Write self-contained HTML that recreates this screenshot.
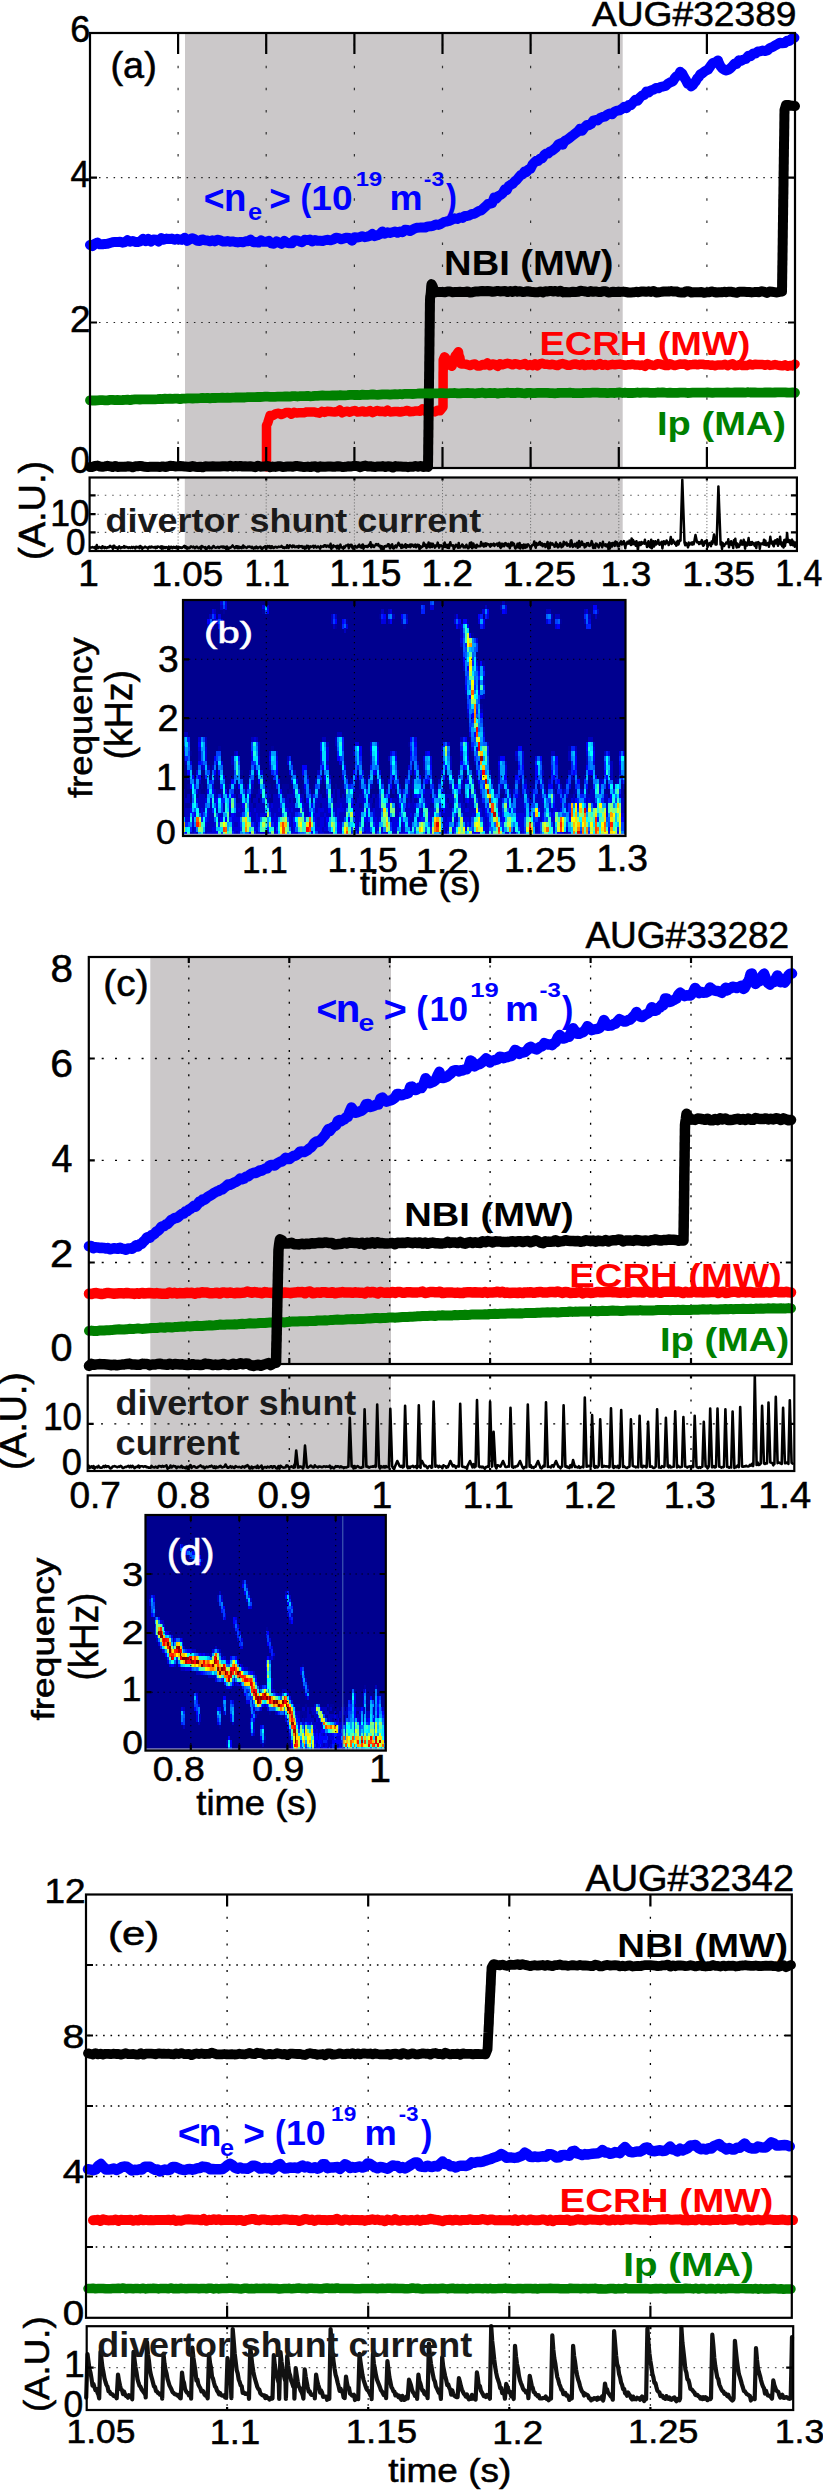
<!DOCTYPE html>
<html><head><meta charset="utf-8"><title>AUG discharges</title>
<style>
html,body{margin:0;padding:0;background:#fff;}
svg{display:block;}
text{font-family:"Liberation Sans",Arial,Helvetica,sans-serif;}
</style></head><body>
<svg width="823" height="2491" viewBox="0 0 823 2491">
<rect width="823" height="2491" fill="#fff"/>
<rect x="185" y="33" width="437.7" height="435" fill="#cbc8c9"/>
<rect x="184.8" y="477.5" width="437.9" height="73.5" fill="#cbc8c9"/>
<line x1="90" y1="177.7" x2="795" y2="177.7" stroke="#222" stroke-width="1.2" stroke-dasharray="1.5 5.8" stroke-dashoffset="-1.7"/>
<line x1="90" y1="322.5" x2="795" y2="322.5" stroke="#222" stroke-width="1.2" stroke-dasharray="1.5 5.8" stroke-dashoffset="-1.7"/>
<line x1="178.1" y1="33" x2="178.1" y2="468" stroke="#333" stroke-width="1.2" stroke-dasharray="2.5 19.6" stroke-dashoffset="-10.6"/>
<line x1="178.1" y1="477.5" x2="178.1" y2="551" stroke="#777" stroke-width="1" stroke-dasharray="1.2 1.9"/>
<line x1="266.2" y1="33" x2="266.2" y2="468" stroke="#333" stroke-width="1.2" stroke-dasharray="2.5 19.6" stroke-dashoffset="-10.6"/>
<line x1="266.2" y1="477.5" x2="266.2" y2="551" stroke="#777" stroke-width="1" stroke-dasharray="1.2 1.9"/>
<line x1="354.4" y1="33" x2="354.4" y2="468" stroke="#333" stroke-width="1.2" stroke-dasharray="2.5 19.6" stroke-dashoffset="-10.6"/>
<line x1="354.4" y1="477.5" x2="354.4" y2="551" stroke="#777" stroke-width="1" stroke-dasharray="1.2 1.9"/>
<line x1="442.5" y1="33" x2="442.5" y2="468" stroke="#333" stroke-width="1.2" stroke-dasharray="2.5 19.6" stroke-dashoffset="-10.6"/>
<line x1="442.5" y1="477.5" x2="442.5" y2="551" stroke="#777" stroke-width="1" stroke-dasharray="1.2 1.9"/>
<line x1="530.6" y1="33" x2="530.6" y2="468" stroke="#333" stroke-width="1.2" stroke-dasharray="2.5 19.6" stroke-dashoffset="-10.6"/>
<line x1="530.6" y1="477.5" x2="530.6" y2="551" stroke="#777" stroke-width="1" stroke-dasharray="1.2 1.9"/>
<line x1="618.8" y1="33" x2="618.8" y2="468" stroke="#333" stroke-width="1.2" stroke-dasharray="2.5 19.6" stroke-dashoffset="-10.6"/>
<line x1="618.8" y1="477.5" x2="618.8" y2="551" stroke="#777" stroke-width="1" stroke-dasharray="1.2 1.9"/>
<line x1="706.9" y1="33" x2="706.9" y2="468" stroke="#333" stroke-width="1.2" stroke-dasharray="2.5 19.6" stroke-dashoffset="-10.6"/>
<line x1="706.9" y1="477.5" x2="706.9" y2="551" stroke="#777" stroke-width="1" stroke-dasharray="1.2 1.9"/>
<line x1="90" y1="495.3" x2="796.9" y2="495.3" stroke="#555" stroke-width="1.1" stroke-dasharray="1.5 5.9"/>
<line x1="90" y1="514.2" x2="796.9" y2="514.2" stroke="#555" stroke-width="1.1" stroke-dasharray="1.5 5.9"/>
<line x1="90" y1="532.4" x2="796.9" y2="532.4" stroke="#555" stroke-width="1.1" stroke-dasharray="1.5 5.9"/>
<polyline points="266.5,467 266.5,465.6 266.5,462.7 266.5,460.1 266.5,458.6 266.5,455.4 266.5,452.6 266.5,451.6 266.5,447.4 266.5,444.4 266.5,441.7 266.5,439.8 266.5,438.1 266.5,435.7 266.5,433.4 266.5,431.4 266.5,428.7 266.5,425.5 267.7,423 268.8,419.5 270,415.6 273,415.4 276,413.6 278.6,413.2 281.2,414.5 283.8,413.5 286.4,412.4 289,412.5 291.5,414.2 294.1,412.3 296.6,413 299.1,412.8 301.7,412.7 304.2,412.7 306.8,411.9 309.3,411.9 311.8,412.1 314.4,411.9 316.9,412.7 319.4,413.2 322,411.4 324.5,412.4 327,411.3 329.6,411.5 332.1,411.8 334.6,412 337.2,411.5 339.7,410 342.2,412.8 344.8,411.6 347.3,411.3 349.9,412.2 352.4,411.2 354.9,410.6 357.5,411.9 360,411.8 362.5,410.9 365,412.1 367.5,411.7 370,410.6 372.5,412.6 375,411.5 377.5,410.5 380,411.6 382.5,411.3 385,411.9 387.5,410.2 390,411.9 392.5,411.8 395,411.6 397.5,411.5 400,412 402.5,411.5 405,411.1 407.5,410.4 410,411.7 412.5,411.6 415,411.1 417.5,410.9 420,411.3 422.5,409 425,411 427.5,408.9 430,410.8 432.5,411.4 435,411.9 437.5,410.2 440,410.8 443,407 443,402.8 443,402.3 443,399.2 443,396.6 443.1,393.3 443.1,391.3 443.1,388.8 443.1,387.1 443.1,383.7 443.1,383.4 443.1,378 443.1,375.5 443.1,373.1 443.2,369.9 443.2,368.9 443.2,365.7 443.2,361.7 443.2,360.1 444.5,356.8 445.5,357.7 446.5,361.5 447.5,363.9 452,366.2 453.1,362 454.2,358.5 455.4,355.5 456.5,354.4 458.5,351.7 459.1,356.7 459.8,356.9 460.4,360.9 461,363.9 464,363.9 467,364.5 470,365.5 472.5,364.5 475,364 477.5,365.9 480,366 482.5,364.4 485,365.1 487.5,363 490,365.6 492.5,363.9 495,364.4 497.5,366.3 500,363.8 502.5,364.7 505,363.9 507.5,363.3 510,363.8 512.5,364.8 515,363.7 517.5,364.1 520,365 522.5,364.4 525,363.6 527.5,365.6 530,364.6 532.5,365.6 535,363.8 537.5,365.8 540,363.6 542.5,363.3 545,364.3 547.5,364.3 550,364.8 552.5,364.2 555,365 557.5,365.5 560,364.1 562.5,363.6 565,364.3 567.5,365.2 570,365.2 572.5,364.4 575,363.9 577.5,364.6 580,365.3 582.5,364.1 585,365.6 587.5,364.8 590,364.9 592.5,364.2 595,365.6 597.5,364.7 600,363.6 602.5,365.3 605,364.4 607.5,365.5 610,364.8 612.5,364.3 615,364.8 617.5,364.4 620,364.1 622.5,364.7 625,365.3 627.5,364.8 630,364.7 632.5,364.3 635,365.1 637.5,364.9 640,365.4 642.5,365 645,366.3 647.5,363.6 650,364.7 652.5,365.2 655,365.4 657.5,363.7 660,363.9 662.5,364.8 665,365.5 667.5,365.6 670,363.7 672.5,364.9 675,365.6 677.5,364.8 680,364.1 682.5,364.3 685,363.9 687.5,365.7 690,364.7 692.5,364.5 695,364.2 697.5,364.8 700,364.2 702.5,364.2 705,364.8 707.5,364.7 710,365.2 712.5,365 715,365.7 717.5,364.9 720,365.1 722.5,365.1 725,364.3 727.5,365.7 730,364.5 732.5,363.8 735,365.8 737.5,365.4 740,364.5 742.5,365.6 745,365.6 747.5,365.4 750,364.1 752.5,365.1 755,364.2 757.5,364.5 760,364.6 762.5,364.4 765,365.3 767.5,364.4 770,365.4 772.5,365.1 775,364.6 777.5,365.1 780,365.5 782.5,365.8 785,364.8 787.5,366.2 790,365.4 792.5,365.9 795,364.1" fill="none" stroke="#ff0000" stroke-width="9.5" stroke-linejoin="round" stroke-linecap="round"/>
<polyline points="90,467 92.5,466.9 95,465.9 97.5,465.6 100,466.5 102.5,466.8 105,466.4 107.5,465.8 110,466.3 112.5,467.1 115,465.9 117.5,467 120,466.7 122.5,466.7 125.1,466.8 127.6,466.3 130.1,466.4 132.6,467.3 135.1,466.3 137.6,466.3 140.1,465.9 142.6,466.3 145.1,466.8 147.6,467.1 150.1,466.8 152.6,466.8 155.1,466.8 157.6,466.7 160.1,467 162.6,466.4 165.1,467 167.6,466.5 170.1,465.8 172.6,465.9 175.1,466.4 177.6,466.3 180.1,466 182.6,466.2 185.1,466.6 187.6,466.7 190.1,466.9 192.7,466.1 195.2,466.7 197.7,467 200.2,466.7 202.7,467.3 205.2,466.3 207.7,466.5 210.2,466.6 212.7,466.3 215.2,466.5 217.7,466.6 220.2,466.5 222.7,466.3 225.2,466.3 227.7,466.5 230.2,465.8 232.7,466.6 235.2,466 237.7,466.4 240.2,466 242.7,466.5 245.2,466.3 247.7,466.4 250.2,466.2 252.7,466.6 255.2,467.2 257.7,465.7 260.3,466.7 262.8,466.6 265.3,466.3 267.8,465.9 270.3,467.2 272.8,466.6 275.3,466.9 277.8,466.3 280.3,466.2 282.8,467 285.3,466.8 287.8,466.4 290.3,466.4 292.8,466.8 295.3,466.1 297.8,466.1 300.3,466.5 302.8,466.9 305.3,466.9 307.8,466.6 310.3,467.1 312.8,466.4 315.3,466.3 317.8,467.5 320.3,466.3 322.8,466.8 325.3,466.7 327.9,466.6 330.4,466.6 332.9,466.8 335.4,466.7 337.9,466.2 340.4,466.5 342.9,467.1 345.4,466.8 347.9,466.3 350.4,466.5 352.9,466.1 355.4,465.9 357.9,466.3 360.4,467.2 362.9,466.2 365.4,465.6 367.9,466.5 370.4,466.2 372.9,466.8 375.4,467 377.9,466.4 380.4,466.6 382.9,466.1 385.4,467 387.9,466.2 390.4,466.5 392.9,467.5 395.5,466.1 398,466.6 400.5,466.5 403,466.7 405.5,466.7 408,467.2 410.5,466.7 413,466.8 415.5,466 418,466.7 420.5,465.9 423,467 425.5,466.5 428,466.9 428,463.8 428.1,461.6 428.1,459 428.1,456.7 428.2,453.8 428.2,451.1 428.2,448.7 428.2,446 428.3,443.4 428.3,440.7 428.3,438.1 428.4,437.1 428.4,433.4 428.4,430.7 428.5,429.1 428.5,426.3 428.5,423.6 428.5,421.6 428.6,419.4 428.6,415.7 428.6,414.2 428.7,411.3 428.7,409 428.7,405.7 428.8,404.2 428.8,401.4 428.8,397.3 428.8,396.4 428.9,393.9 428.9,390.2 428.9,388.4 429,385.7 429,383.4 429,380.4 429.1,378.5 429.1,376 429.1,373.1 429.2,370.6 429.2,367.4 429.2,365.8 429.2,362.5 429.3,360.6 429.3,357.7 429.3,356.6 429.4,353 429.4,351.1 429.4,347.9 429.5,345.4 429.5,343.2 429.5,340.4 429.5,338.9 429.6,335.2 429.6,333.5 429.6,329.8 429.7,327.4 429.7,325.5 429.7,322.1 429.8,321.1 429.8,317.9 429.8,315.2 429.8,313.4 429.9,309.9 429.9,307.2 429.9,303.9 430,301.7 430,299.9 430.2,296.5 430.5,295.2 430.8,292.7 431,289.9 431.2,286.4 431.5,284.1 432.7,286.4 433.8,289.8 435,292.5 437.5,291.9 440,292 442.5,292 445,292.3 447.5,291.5 450,291.5 452.5,292.2 455,292.1 457.5,292 460,291.8 462.5,292.1 465,292 467.5,291.5 470,292.5 472.5,292.2 475,291.6 477.5,291.6 480,291.3 482.5,291 485,291.2 487.5,291 490,291.3 492.5,291.7 495,291.5 497.5,290.9 500,291.4 502.5,291.2 505,291 507.6,292 510.1,291.1 512.6,291.9 515.1,290.8 517.6,291.7 520.1,291.2 522.7,292 525.2,291.7 527.7,291.2 530.2,291.8 532.7,292.1 535.2,292.2 537.8,292.2 540.3,291.4 542.8,292.5 545.3,291.3 547.8,291.5 550.4,290.9 552.9,291.5 555.4,291 557.9,291.7 560.4,290.8 562.9,292.4 565.5,292 568,292.3 570.5,292.2 573,291.7 575.5,291.9 578.1,291.7 580.6,290.8 583.1,291.1 585.6,291.5 588.1,292.1 590.6,291.1 593.2,291.8 595.7,291.4 598.2,292 600.7,292 603.2,291.2 605.8,291.2 608.3,292.4 610.8,292.2 613.3,291.7 615.8,292.1 618.3,291.7 620.9,291.9 623.4,291.6 625.9,292 628.4,292.5 630.9,292.4 633.4,292.3 636,291.8 638.5,292.2 641,291.6 643.5,291.6 646,291.8 648.6,291.3 651.1,291.9 653.6,291 656.1,292.5 658.6,292.2 661.1,291.9 663.7,291.5 666.2,291.5 668.7,291.6 671.2,291.1 673.7,291.6 676.2,291.4 678.8,292.2 681.3,292.4 683.8,292.5 686.3,291.2 688.8,291.2 691.4,292.5 693.9,292.2 696.4,292.3 698.9,292.2 701.4,292 703.9,292.8 706.5,292.3 709,292.2 711.5,291.4 714,292 716.5,292.5 719.1,292.2 721.6,292.3 724.1,291.8 726.6,292.2 729.1,291.7 731.6,291.8 734.2,292.4 736.7,292.7 739.2,291.8 741.7,291.8 744.2,291.8 746.8,291.9 749.3,292 751.8,292.4 754.3,292.1 756.8,292 759.3,292.2 761.9,291.2 764.4,291.9 766.9,292.9 769.4,291.5 771.9,291.7 774.4,292.1 777,292.5 779.5,291.9 782,291.5 782,290.2 782.1,285.9 782.1,284 782.1,281.6 782.2,278.3 782.2,277.4 782.2,275.2 782.3,271.1 782.3,269.1 782.3,266.6 782.4,264.5 782.4,261.6 782.5,259.4 782.5,256.8 782.5,254 782.6,251.6 782.6,249.7 782.6,246.6 782.7,244.3 782.7,241.4 782.7,239.2 782.8,237.1 782.8,233.9 782.8,231.1 782.9,228.5 782.9,226.7 782.9,223.4 783,221.4 783,219.8 783,216.3 783.1,214.5 783.1,211.1 783.1,208.6 783.2,206.3 783.2,203.1 783.2,199.9 783.3,198.5 783.3,195.6 783.4,193.5 783.4,191.8 783.4,188.6 783.5,185.2 783.5,183.5 783.5,180 783.6,177.3 783.6,176.7 783.6,172.8 783.7,169.7 783.7,168.1 783.7,165.5 783.8,163.3 783.8,160.5 783.8,157.9 783.9,155.9 783.9,152.9 783.9,150.1 784,148.1 784,145.1 784,143.4 784.1,140.4 784.1,137.7 784.2,135.1 784.2,133 784.2,130.7 784.3,127.6 784.3,124.2 784.3,123 784.4,119.8 784.4,117.9 784.4,114.8 784.5,112.7 784.5,109.9 786,105.1 789,105.1 792,105.8 795,106.1" fill="none" stroke="#000" stroke-width="10" stroke-linejoin="round" stroke-linecap="round"/>
<polyline points="90,400.3 92.5,400.5 95,400.5 97.5,400.3 100,400.1 102.5,400.2 105,400.3 107.5,400.3 110,399.9 112.5,399.8 115,400.1 117.5,400 120,400.1 122.5,400 125,399.8 127.5,399.7 130,400.1 132.5,399.6 135,399.4 137.5,399.3 140,399.5 142.5,399.4 145,399.3 147.5,399.3 150,399.3 152.5,399.3 155,399.3 157.5,399.1 160,398.8 162.5,399.1 165,398.7 167.5,398.9 170,398.6 172.5,398.8 175,398.6 177.5,398.7 180,399.1 182.5,398.6 185,398.6 187.5,398.3 190,398.4 192.5,398.5 195,398.3 197.5,398.3 200,398.2 202.5,398 205,398.2 207.5,397.9 210,398.3 212.5,397.9 215,398 217.5,397.8 220,397.9 222.5,397.6 225,397.8 227.5,397.6 230,397.8 232.5,397.6 235,397.5 237.5,397.3 240,397.5 242.5,397.4 245,397.5 247.5,397.2 250,397.2 252.5,397.2 255,397.1 257.5,397 260,397 262.5,396.8 265,396.7 267.5,396.7 270,396.8 272.5,396.9 275,396.8 277.5,396.7 280,396.7 282.5,396.6 285,396.5 287.5,396.5 290,396.6 292.5,396.2 295,396.1 297.5,396.5 300,396.2 302.5,396.2 305,396.1 307.5,395.8 310,396.3 312.5,396.1 315,395.8 317.5,395.9 320,395.7 322.5,395.5 325,395.6 327.5,395.6 330,395.7 332.5,395.5 335,395.4 337.5,395.5 340,395.2 342.5,395.4 345,395.3 347.5,395.1 350,394.8 352.5,394.9 355,395 357.5,395 360,395.1 362.5,394.7 365,394.8 367.5,394.8 370,394.6 372.5,394.3 375,394.7 377.5,394.9 380,394.6 382.5,394.3 385,394.3 387.5,394.3 390,394.6 392.5,394.3 395,394.2 397.5,394.3 400,394 402.5,394.3 405,393.8 407.5,393.8 410,393.9 412.5,394 415,393.8 417.5,393.7 420,393.3 422.5,393.5 425,393.4 427.5,393.4 430,393.5 432.5,393.3 435,393.4 437.5,393.3 440,393.2 442.5,393.2 445,393.3 447.5,393.3 450,393.1 452.5,393.1 455,393 457.5,393.4 460,393.4 462.5,393.1 465,393.1 467.5,393 470,393.2 472.5,393.2 475,393.5 477.5,393.2 480,393 482.5,392.7 485,393.3 487.5,393.1 490,392.9 492.5,393.1 495,392.9 497.5,393.6 500,393.2 502.5,393.2 505,393 507.5,392.7 510,393 512.5,392.8 515,393.1 517.5,392.7 520,392.9 522.5,393.2 525,393.3 527.5,392.9 530,392.8 532.5,393.1 535,393.1 537.5,392.9 540,392.9 542.5,392.9 545,392.8 547.5,392.9 550,393.2 552.5,393.1 555,393.3 557.5,393 560,392.9 562.5,392.8 565,392.9 567.5,392.8 570,392.7 572.5,393 575,393.1 577.5,393.1 580,393.1 582.5,393 585,392.8 587.5,392.9 590,392.8 592.5,392.7 595,392.6 597.5,392.7 600,392.9 602.5,392.9 605,392.8 607.5,393.1 610,392.9 612.5,392.9 615,393 617.5,392.7 620,392.5 622.5,393 625,392.7 627.5,393 630,392.9 632.5,393 635,392.9 637.5,392.5 640,392.9 642.5,392.7 645,392.7 647.5,392.7 650,392.9 652.5,392.9 655,392.9 657.5,392.5 660,392.7 662.5,392.4 665,392.7 667.5,392.8 670,392.6 672.5,392.8 675,392.8 677.5,392.9 680,392.6 682.5,392.6 685,392.6 687.5,393 690,392.9 692.5,392.7 695,392.7 697.5,392.7 700,392.7 702.5,392.7 705,392.6 707.5,392.5 710,392.6 712.5,392.9 715,392.7 717.5,392.7 720,392.6 722.5,392.7 725,392.7 727.5,392.5 730,392.7 732.5,392.7 735,392.5 737.5,392.5 740,392.5 742.5,392.4 745,392.7 747.5,392.2 750,392.5 752.5,392.5 755,392.5 757.5,392.6 760,392.7 762.5,392.6 765,392.5 767.5,392.5 770,392.5 772.5,392.7 775,392.5 777.5,392.4 780,392.3 782.5,392.4 785,392.3 787.5,392.7 790,392.6 792.5,392.5 795,392.7" fill="none" stroke="#008000" stroke-width="9.8" stroke-linejoin="round" stroke-linecap="round"/>
<polyline points="90,244.9 92.5,246.1 95,243.8 97.5,242.6 100,244.3 102.5,244.3 105,243.9 107.5,243.8 110,243 112.5,242.3 115,241.9 117.5,242.1 120,241.7 122.5,242.7 125,242.1 127.5,240.2 130,241.7 132.6,241 135.2,241.9 137.8,242.1 140.4,241.2 143.1,238.9 145.7,241 148.3,238.9 150.9,241.6 153.5,239.5 156.1,239.8 158.7,241.5 161.3,238.2 163.9,239.7 166.6,238.6 169.2,239 171.8,238.6 174.4,239.8 177,238.8 179.5,239.5 182,239.9 184.6,237.8 187.1,240.8 189.6,239.4 192.1,238.2 194.7,239.2 197.2,240.7 199.7,240.9 202.2,239.4 204.8,240.2 207.3,240.5 209.8,241.3 212.3,240.3 214.9,241.4 217.4,239.8 219.9,240.1 222.4,241.4 225,241.6 227.5,241 230,241.7 232.6,241.4 235.2,242 237.8,242.4 240.4,241.9 242.9,242.3 245.5,241.3 248.1,241.2 250.7,239.7 253.3,242.3 255.9,242 258.5,242.6 261.1,240.4 263.6,241.8 266.2,241.8 268.8,240.8 271.4,243.3 274,243.7 276.6,241.3 279.1,242.7 281.7,243.8 284.2,240.9 286.8,242.8 289.3,243.2 291.9,243.3 294.4,240.2 297,240.4 299.6,241.4 302.1,242.2 304.7,239.8 307.2,240.1 309.8,239.6 312.3,241.5 314.9,239.9 317.4,240.8 320,240.7 322.7,241 325.3,240.1 328,239.8 330.7,240.3 333.3,239.5 336,237.7 338.7,238.2 341.3,239.3 344,238.4 346.7,237.7 349.3,238 352,240.7 354.5,237.3 357.1,237.5 359.6,237.1 362.1,236.2 364.7,237.2 367.2,236.6 369.7,235.9 372.3,234 374.8,236.1 377.3,235.3 379.9,234.2 382.4,231.5 384.9,233.7 387.5,232.3 390,232.9 392.5,232.2 395,231.5 397.5,232.8 400,231.5 402.5,232.2 405,229.7 407.5,230 410,231 412.5,229.7 415,228.3 417.5,227.7 420,227.6 422.6,227.4 425.2,227.5 427.9,226.4 430.5,226.3 433.1,225.8 435.8,224.5 438.4,224.9 441,223.8 443.7,222.2 446.4,221.5 449.1,220.9 451.9,219.6 454.6,218.3 457.3,218.9 460,217.6 462.4,217.9 464.9,216 467.3,215.9 469.7,215.3 472.1,213.9 474.6,213.7 477,212.1 479.2,210.8 481.3,210.3 483.5,208.3 485.7,206.3 487.8,204 490,203.7 492.1,203.1 494.3,197.4 496.4,198.6 498.5,196 500.7,194.9 502.8,193.2 504.8,189.4 506.8,190.2 508.7,186.2 510.7,184.8 512.7,183.8 514.7,181.4 516.6,180 518.6,177.5 520.6,175.2 522.6,174.4 524.5,171.6 526.5,172.1 528.5,169.3 530.5,168.8 532.4,164.8 534.4,162.4 536.3,160.7 538.3,160.9 540.3,158.4 542.2,158.4 544.2,155.1 546.2,153.6 548.1,153.6 550.1,151.4 552,150.8 554,149.3 556.2,147.4 558.3,144.5 560.5,143.3 562.7,144.7 564.8,140.9 567,139.9 569.2,138.2 571.3,136.6 573.5,134.9 575.7,133.1 577.8,131.6 580,128.7 582.2,130.7 584.4,127.6 586.7,125.1 588.9,125.3 591.1,124 593.3,120.6 595.6,120 597.8,120.4 600,118.1 602.4,117 604.9,116.6 607.3,114.6 609.7,113.4 612.1,114.2 614.6,111.6 617,110.7 619.4,110.4 621.9,108.9 624.3,106.8 626.5,108.2 628.7,105 630.9,105.2 633.1,102.6 635.3,99.9 637.6,100.7 639.8,97.7 642,95.6 644.2,94.9 646.4,91.6 648.6,92.5 651,90.3 653.5,89.7 655.9,88 658.3,88.3 660.8,86.9 663.2,86.5 665.6,85.9 668,83.6 670.5,82.3 672.9,81.4 674.7,78.2 676.5,76.3 678.4,75.4 680.2,71.8 682.1,73.3 684.1,77.3 686,80.3 687.7,83.8 689.4,84.2 691.1,86.3 692.7,85.2 694.2,82.9 695.8,81.2 697.3,78.4 698.9,76.9 700.4,74.1 702,73.5 705,71.1 708.1,69.5 710.5,66.1 713,62.8 715.5,62.3 717.9,60.4 719.3,64 720.6,66.4 722,68.1 724.2,69.7 726.4,70.5 728.5,69.6 730.6,68.1 732.7,65.8 734.7,63.5 736.8,63.9 738.9,60.2 741,60.8 743.4,59.5 745.9,58.9 748.3,55.8 750.7,56.2 753.1,53.4 755.5,53.5 758,51.5 760.4,51.3 762.8,50.6 765.2,51 767.7,50.2 770.1,47.9 772.5,47.1 775,45.5 777.4,44.3 779.8,42.8 782.2,43.2 784.7,43 787.1,40.8 789.5,40.9 792,38.5 794.4,37.7" fill="none" stroke="#0000ff" stroke-width="10" stroke-linejoin="round" stroke-linecap="round"/>
<polyline points="90.5,547.5 91.2,547.4 91.9,547.4 92.6,547 93.3,547.5 94,547.4 94.7,548.2 95.4,546.7 96.1,549.2 96.8,545.1 97.5,547.4 98.2,548 98.9,547.3 99.6,546.9 100.3,547.4 101,547.9 101.7,548.3 102.4,546.3 103.1,547.5 103.8,546.9 104.5,548.1 105.2,547 105.9,547.5 106.6,548.2 107.3,547.2 108,547.5 108.7,546.8 109.4,547.1 110.1,545.9 110.8,546.7 111.5,547 112.2,546.8 112.9,548.9 113.6,545.7 114.3,545.7 115,547.5 115.7,547.8 116.4,547.4 117.1,548.2 117.8,548.9 118.5,547 119.2,546.4 119.9,547.2 120.6,548.2 121.3,547.6 122,547.2 122.7,547.6 123.4,547.5 124.1,546.1 124.8,547.7 125.5,546.7 126.2,547.2 126.9,547 127.6,547.4 128.3,548 129,547.2 129.7,547.5 130.4,548 131.1,547.7 131.8,546.9 132.5,547.9 133.2,547 133.9,547.1 134.6,547.5 135.3,548.4 136,546.7 136.7,547.1 137.4,547.5 138.1,546.7 138.8,547.4 139.5,548.3 140.2,546 140.9,547.4 141.6,546.8 142.3,548.8 143,547.8 143.7,547.8 144.4,547.3 145.1,546.6 145.8,547.4 146.5,547.6 147.2,547.4 147.9,548.6 148.6,547.9 149.3,546.7 150,547.1 150.7,547.6 151.4,546.5 152.1,547.2 152.8,546.9 153.5,547.5 154.2,547.4 154.9,546.9 155.6,548.3 156.3,546.9 157,547.8 157.7,546.6 158.4,546.7 159.1,546.9 159.8,547.1 160.5,547.9 161.2,546.3 161.9,548.6 162.6,546.5 163.3,548.4 164,547.5 164.7,547 165.4,548 166.1,547 166.8,547.4 167.5,547.4 168.2,549.4 168.9,546.6 169.6,548.8 170.3,547.2 171,546.8 171.7,547 172.4,548.3 173.1,547.2 173.8,546.8 174.5,547.8 175.2,547.6 175.9,548.1 176.6,546.5 177.3,548.4 178,548.2 178.7,546.8 179.4,547.1 180.1,547.7 180.8,547.2 181.5,547.9 182.2,547.8 182.9,547.3 183.6,546.5 184.3,545.9 185,547.6 185.7,546.4 186.4,548.2 187.1,548.6 187.8,547.4 188.5,548 189.2,548.2 189.9,547.9 190.6,546.5 191.3,546.6 192,547 192.7,547.4 193.4,546.7 194.1,547.5 194.8,548.3 195.5,547.1 196.2,547.4 196.9,546.6 197.6,547.3 198.3,548 199,548.3 199.7,547.5 200.4,546.8 201.1,548.8 201.8,545.9 202.5,547 203.2,546.8 203.9,547.3 204.6,547.8 205.3,547 206,549.9 206.7,548.8 207.4,548 208.1,547 208.8,546.2 209.5,548.2 210.2,548 210.9,547.7 211.6,548.4 212.3,547.7 213,546.3 213.7,546 214.4,547.1 215.1,547.5 215.8,547.8 216.5,547.6 217.2,547.2 217.9,546.8 218.6,547.8 219.3,547.9 220,546.9 220.7,546.7 221.4,547.1 222.1,546.6 222.8,547.5 223.5,546.5 224.2,547.6 224.9,546.7 225.6,547.7 226.3,549.1 227,546.5 227.7,547.4 228.4,549.1 229.1,548 229.8,547.5 230.5,547.7 231.2,547.1 231.9,546.3 232.6,545.4 233.3,546.8 234,546.9 234.7,548.2 235.4,547.5 236.1,546.2 236.8,547.7 237.5,546.4 238.2,548.2 238.9,546.6 239.6,548 240.3,547.4 241,547 241.7,548.1 242.4,547.2 243.1,545.5 243.8,547.6 244.5,546.6 245.2,547 245.9,547.5 246.6,547.9 247.3,547.5 248,546.6 248.7,546.8 249.4,546.5 250.1,547.1 250.8,546.8 251.5,547.9 252.2,546.8 252.9,548 253.6,548.6 254.3,547.7 255,547.1 255.7,548.2 256.4,546.6 257.1,547.2 257.8,548.3 258.5,547.7 259.2,547.1 259.9,547 260.6,546.8 261.3,548.4 262,548.8 262.7,548.4 263.4,547.2 264.1,547.5 264.8,546.5 265.5,546.3 266.2,547.7 266.9,547.7 267.6,546.1 268.3,546.2 269,547.4 269.7,546.1 270.4,548 271.1,548.1 271.8,546.2 272.5,546.9 273.2,547.9 273.9,547.9 274.6,547.1 275.3,547 276,546.8 276.7,547.5 277.4,547.6 278.1,546.9 278.8,546.6 279.5,546.9 280.2,546.9 280.9,546.7 281.6,545.9 282.3,547.1 283,547.7 283.7,547.1 284.4,548.1 285.1,547.3 285.8,547.6 286.5,547.7 287.2,545.2 287.9,547.6 288.6,547.9 289.3,545.9 290,545.3 290.7,546 291.4,546.6 292.1,547.2 292.8,545.5 293.5,546.7 294.2,545.8 294.9,547.1 295.6,546.7 296.3,547 297,546.3 297.7,546.4 298.4,547.7 299.1,545.8 299.8,546.8 300.5,546.3 301.2,546.5 301.9,546.1 302.6,547.9 303.3,547.7 304,546.5 304.7,548.7 305.4,547 306.1,548.2 306.8,545.7 307.5,546.2 308.2,546.1 308.9,548.8 309.6,547.7 310.3,546.4 311,547 311.7,546.6 312.4,546.6 313.1,545.8 313.8,547.6 314.5,547.1 315.2,545.9 315.9,547.1 316.6,547.6 317.3,547 318,546.4 318.7,547.3 319.4,547.4 320.1,548.7 320.8,546.1 321.5,547 322.2,546.7 322.9,546.2 323.6,546.7 324.3,545.2 325,545.8 325.7,545.2 326.4,546.9 327.1,546.2 327.8,545.6 328.5,546.1 329.2,547.1 329.9,546.1 330.6,543.8 331.3,548.9 332,546.2 332.7,547.5 333.4,545.4 334.1,546.1 334.8,546.6 335.5,546.8 336.2,546 336.9,548.5 337.6,545.7 338.3,546.1 339,548.8 339.7,546.6 340.4,544.6 341.1,547.2 341.8,547.1 342.5,548 343.2,548.6 343.9,546.6 344.6,547.7 345.3,546.5 346,545.4 346.7,545.5 347.4,545.4 348.1,544.7 348.8,548.2 349.5,545.6 350.2,544.9 350.9,546.3 351.6,544.9 352.3,547.6 353,548.6 353.7,546.9 354.4,546.2 355.1,545.9 355.8,546.9 356.5,547.4 357.2,547.5 357.9,545.8 358.6,546.6 359.3,544.6 360,546.6 360.7,547.4 361.4,547.6 362.1,545.2 362.8,544.5 363.5,548.7 364.2,546.3 364.9,546 365.6,546.7 366.3,546 367,546.9 367.7,547 368.4,545.4 369.1,544.5 369.8,545.6 370.5,542.2 371.2,547.3 371.9,545.4 372.6,544.9 373.3,546.7 374,547 374.7,545.8 375.4,545 376.1,544.1 376.8,545 377.5,545.2 378.2,544.1 378.9,545.9 379.6,546.5 380.3,545.7 381,548.8 381.7,546.2 382.4,546.8 383.1,550.8 383.8,548.3 384.5,546.3 385.2,546.6 385.9,545.9 386.6,546.4 387.3,545.9 388,544.2 388.7,544.3 389.4,547 390.1,548.3 390.8,546.3 391.5,544.8 392.2,544.4 392.9,548 393.6,548.5 394.3,547.5 395,545.9 395.7,545.4 396.4,547.4 397.1,545.7 397.8,544.6 398.5,542.9 399.2,545.1 399.9,545.7 400.6,544.7 401.3,547.9 402,544.7 402.7,547.5 403.4,546.2 404.1,545.6 404.8,547 405.5,544.2 406.2,547.8 406.9,545.2 407.6,545.3 408.3,546.6 409,546.2 409.7,544.7 410.4,547.1 411.1,544.5 411.8,545.9 412.5,544.7 413.2,545.7 413.9,546.8 414.6,545.6 415.3,544.5 416,547.3 416.7,546.6 417.4,544.7 418.1,545.1 418.8,545 419.5,549.4 420.2,546.1 420.9,547.9 421.6,546.8 422.3,546.9 423,546 423.7,542.8 424.4,545.5 425.1,546.2 425.8,544.6 426.5,548.1 427.2,545.9 427.9,545.7 428.6,542.4 429.3,547.1 430,547.3 430.7,543.6 431.4,543.7 432.1,547.1 432.8,543.7 433.5,546 434.2,545.2 434.9,547.6 435.6,545.5 436.3,546.3 437,545.2 437.7,542.6 438.4,545.3 439.1,547.6 439.8,545.2 440.5,545.9 441.2,545.4 441.9,546.5 442.6,546.3 443.3,547.2 444,543.9 444.7,542.6 445.4,547 446.1,544.7 446.8,545.5 447.5,547.8 448.2,544.7 448.9,548.1 449.6,545.4 450.3,542.3 451,545.4 451.7,545.6 452.4,545.6 453.1,545.2 453.8,549.2 454.5,547.7 455.2,546.8 455.9,544.7 456.6,545.3 457.3,546.1 458,547.8 458.7,543 459.4,547.5 460.1,547.4 460.8,546.1 461.5,546.1 462.2,544.5 462.9,545.1 463.6,547.4 464.3,546.4 465,547.4 465.7,546.6 466.4,544.7 467.1,546.9 467.8,548.2 468.5,548.3 469.2,546.4 469.9,542.9 470.6,546.7 471.3,542.5 472,548.2 472.7,544.1 473.4,543.5 474.1,547.2 474.8,546.2 475.5,545.5 476.2,547.8 476.9,544.8 477.6,546.3 478.3,546.1 479,546.2 479.7,546.2 480.4,546.2 481.1,542.1 481.8,544.5 482.5,545.5 483.2,543.7 483.9,546.6 484.6,544.5 485.3,543.4 486,546.1 486.7,543.6 487.4,544.1 488.1,544.6 488.8,544.2 489.5,545.5 490.2,546.6 490.9,544 491.6,545.6 492.3,544.5 493,544.9 493.7,543.5 494.4,546 495.1,544.4 495.8,544.5 496.5,544 497.2,543.5 497.9,545.9 498.6,544.7 499.3,542.7 500,546.8 500.7,547.9 501.4,543.8 502.1,546.5 502.8,543.9 503.5,545.2 504.2,546.3 504.9,543.4 505.6,543.1 506.3,544 507,545.5 507.7,546.1 508.4,543.9 509.1,545.2 509.8,548.3 510.5,545.4 511.2,542.4 511.9,545.6 512.6,542.6 513.3,543.7 514,543.7 514.7,546.8 515.4,548.5 516.1,547.3 516.8,546.8 517.5,543.7 518.2,547.6 518.9,547.4 519.6,543 520.3,548.5 521,545.4 521.7,545 522.4,546.3 523.1,548.3 523.8,544.5 524.5,546.7 525.2,547.8 525.9,544.7 526.6,547.3 527.3,545.1 528,544.2 528.7,545.2 529.4,545.7 530.1,547.3 530.8,547.9 531.5,546.3 532.2,545.1 532.9,545 533.6,544.4 534.3,541.4 535,545.6 535.7,547.7 536.4,543 537.1,545.2 537.8,544.9 538.5,544.6 539.2,542.6 539.9,541.9 540.6,544.9 541.3,545.2 542,543.3 542.7,546.2 543.4,544.3 544.1,545.2 544.8,544.1 545.5,547.1 546.2,545.2 546.9,544.6 547.6,541.9 548.3,548.6 549,546.3 549.7,548.2 550.4,542.7 551.1,544.5 551.8,544.4 552.5,543.4 553.2,545 553.9,544.8 554.6,546.7 555.3,546.2 556,542.4 556.7,546.3 557.4,544.3 558.1,547.4 558.8,546.4 559.5,546.2 560.2,542.9 560.9,544.8 561.6,547.3 562.3,544.4 563,546.4 563.7,541.8 564.4,542.8 565.1,544.4 565.8,543.6 566.5,542.5 567.2,545.8 567.9,544.2 568.6,545.1 569.3,544.3 570,546.5 570.7,540.7 571.4,540.3 572.1,545.1 572.8,546.9 573.5,544.6 574.2,545.4 574.9,543.9 575.6,546.4 576.3,545.3 577,542.9 577.7,547.7 578.4,543.2 579.1,541 579.8,546.7 580.5,544.3 581.2,544.7 581.9,541.6 582.6,545 583.3,544.2 584,544 584.7,547.4 585.4,544.5 586.1,546.4 586.8,543.2 587.5,544.4 588.2,543 588.9,545.7 589.6,546 590.3,545.2 591,544 591.7,541.1 592.4,543.6 593.1,547.9 593.8,544.7 594.5,545.5 595.2,547.9 595.9,543.6 596.6,543.8 597.3,544.7 598,546.3 598.7,547.4 599.4,545.3 600.1,543.1 600.8,544.6 601.5,544.8 602.2,547.2 602.9,541.8 603.6,545.2 604.3,544.6 605,545.7 605.7,544.3 606.4,546.4 607.1,544.4 607.8,544.4 608.5,549.5 609.2,542.4 609.9,548.4 610.6,545.1 611.3,543.3 612,546.6 612.7,543.1 613.4,543.9 614.1,542.8 614.8,545.9 615.5,541.4 616.2,543.2 616.9,542.3 617.6,545.9 618.3,546.4 619,546.3 619.7,542.8 620.4,543.2 621.1,541.4 621.8,544.6 622.5,542.3 623.2,544 623.9,541.1 624.6,544.1 625.3,548.3 626,543.5 626.7,544.1 627.4,541.8 628.1,541.9 628.8,543.6 629.5,540.6 630.2,541.6 630.9,545 631.6,538.6 632.3,544.2 633,539.9 633.7,542.3 634.4,544.2 635.1,541.9 635.8,545.7 636.5,541.2 637.2,544.1 637.9,550.1 638.6,544.2 639.3,542.3 640,545.1 640.7,545 641.4,541.9 642.1,543.9 642.8,542.7 643.5,543 644.2,543.6 644.9,539.7 645.6,543.6 646.3,543.3 647,547 647.7,543.5 648.4,541.3 649.1,545.2 649.8,547 650.5,547.4 651.2,539.7 651.9,548.3 652.6,543.2 653.3,541.2 654,546.6 654.7,544.3 655.4,541.2 656.1,544.6 656.8,542.9 657.5,543.5 658.2,540 658.9,543.7 659.6,544.8 660.3,543.1 661,542.7 661.7,541.8 662.4,548.4 663.1,543.4 663.8,541.2 664.5,541.7 665.2,544.2 665.9,543.4 666.6,540.5 667.3,542.3 668,542.3 668.7,545.1 669.4,542.7 670.1,541.1 670.8,537 671.5,544 672.2,543 672.9,539.8 673.6,542.5 674.3,541.6 675,544 675.7,543.8 676.4,545.7 677.1,541.7 677.8,540.9 678.5,544.5 679.2,541.8 679.9,540 680.5,540.6 682.3,479.8 684.5,542.7 685.2,545.3 685.9,542.9 686.6,544.2 687.3,544.8 688,547.3 688.7,542.6 689.4,545 690.1,543.4 690.8,543.1 691.5,542.6 692.2,544.6 692.9,542.4 693.6,544.3 694,542.9 695.5,535 697,542.3 697.7,542.6 698.4,542 699.1,544 699.8,542.2 700.5,543.5 701.2,541.8 701.9,540.1 702.6,544.5 703.3,545.8 704,544.9 704.7,541.4 705.4,541.3 706.1,543 706.8,540.1 707.5,547.3 708.2,544.3 708.9,544.6 709.6,543 710.3,544.9 711,546.1 711.7,541.4 712.4,541.2 712.5,543.8 714,534.5 715.5,544.5 716.2,541.4 716.6,544.5 718.4,486.4 720.6,544.4 721.3,542 722,549 722.7,543.1 723.4,544 724.1,546 724.8,544.2 725.5,544.2 726.2,542.5 726.9,542.9 727.6,543.5 728.3,539.3 729,547.3 729.7,542.6 730.4,544.4 731.1,541.3 731.8,545 732.5,543 733.2,548.1 733.9,540.3 734.6,543.3 735.3,538.7 736,544.6 736.7,547.5 737.4,543.6 738.1,544.9 738.8,547 739.5,545.6 740.2,543.3 740.9,540.5 741.6,544.5 742.3,543.6 743,544.6 743.7,539.8 744.4,542.2 745.1,548.7 745.8,542.5 746.5,543 747.2,545.5 747.9,543 748.6,538.1 749.3,544.6 750,545 750.7,542.4 751.4,544.7 752.1,542 752.8,544.2 753.5,543.3 754.2,544.9 754.9,546 755.6,542.7 756.3,548 757,542.5 757.7,543.8 758.4,542.1 759.1,543.2 759.8,548.9 760.5,543.5 761.2,544.2 761.9,543.9 762.6,543.1 763.3,544.5 764,539.8 764.7,544.7 765.4,540.8 766.1,545.2 766.8,544.6 767.5,543.7 768.2,542.9 768.9,546.7 769.6,542.9 770.3,536.8 771,541.6 771.7,543.5 772.4,541.7 773.1,545.1 773.8,546.3 774.5,541.1 775.2,540.3 775.9,543.5 776.6,542.8 777.3,539.3 778,545.8 778.7,541.7 779.4,543.5 780.1,536.7 780.8,544.4 781.5,542.4 782.2,546.3 782.9,542.6 783.6,547.5 784.3,540 785,545.9 785.7,539.6 786.4,542.2 787.1,532.9 787.8,541.5 788.5,542.2 789.2,540.1 789.9,541.7 790.6,545.1 791.3,540.3 792,539.6 792.7,545.2 793.4,541.4 794.1,543.4 794.8,546.8 795.5,542.4" fill="none" stroke="#000" stroke-width="2.5" stroke-linejoin="round" stroke-linecap="round"/>
<rect x="90" y="33" width="705" height="435" fill="none" stroke="#000" stroke-width="2.2"/>
<path d="M178.1 33v21M178.1 468v-21M266.2 33v21M266.2 468v-21M354.4 33v21M354.4 468v-21M442.5 33v21M442.5 468v-21M530.6 33v21M530.6 468v-21M618.8 33v21M618.8 468v-21M706.9 33v21M706.9 468v-21M90 177.7h7M795 177.7h-7M90 322.5h7M795 322.5h-7" stroke="#000" stroke-width="2.2" fill="none"/>
<rect x="89.6" y="477.5" width="707.3" height="73.5" fill="none" stroke="#000" stroke-width="2.2"/>
<path d="M178.1 477.5v3M178.1 551v-3M266.2 477.5v3M266.2 551v-3M354.4 477.5v3M354.4 551v-3M442.5 477.5v3M442.5 551v-3M530.6 477.5v3M530.6 551v-3M618.8 477.5v3M618.8 551v-3M706.9 477.5v3M706.9 551v-3M89.6 495.3h6M796.9 495.3h-6M89.6 514.2h6M796.9 514.2h-6M89.6 532.4h6M796.9 532.4h-6" stroke="#000" stroke-width="2.2" fill="none"/>
<text transform="translate(592.00 25.65) scale(1.0559 1)" font-size="35.21" stroke="#000" stroke-width="0.55" fill="#000">AUG#32389</text>
<text transform="translate(70.19 42.43) scale(0.9828 1)" font-size="36.76" stroke="#000" stroke-width="0.55" fill="#000">6</text>
<text transform="translate(70.41 186.90) scale(0.9304 1)" font-size="37.25" stroke="#000" stroke-width="0.55" fill="#000">4</text>
<text transform="translate(69.95 331.90) scale(1.0057 1)" font-size="36.71" stroke="#000" stroke-width="0.55" fill="#000">2</text>
<text transform="translate(70.62 472.64) scale(0.9554 1)" font-size="36.20" stroke="#000" stroke-width="0.55" fill="#000">0</text>
<text transform="translate(110.53 78.26) scale(1.0400 1)" font-size="36.36" stroke="#000" stroke-width="0.55" fill="#000">(a)</text>
<text transform="translate(203.78 210.58) scale(0.9766 1)" font-size="36.30" font-weight="bold" fill="#0000ff">&lt;</text>
<text transform="translate(224.11 210.90) scale(0.9348 1)" font-size="39.26" font-weight="bold" fill="#0000ff">n</text>
<text transform="translate(248.08 220.07) scale(1.0921 1)" font-size="23.27" font-weight="bold" fill="#0000ff">e</text>
<text transform="translate(269.22 210.58) scale(1.0202 1)" font-size="36.30" font-weight="bold" fill="#0000ff">&gt;</text>
<text transform="translate(300.39 210.44) scale(0.8813 1)" font-size="36.47" font-weight="bold" fill="#0000ff">(</text>
<text transform="translate(311.37 209.75) scale(1.0503 1)" font-size="35.35" font-weight="bold" fill="#0000ff">10</text>
<text transform="translate(355.68 185.79) scale(1.1239 1)" font-size="21.13" font-weight="bold" fill="#0000ff">19</text>
<text transform="translate(389.38 210.10) scale(1.0533 1)" font-size="35.37" font-weight="bold" fill="#0000ff">m</text>
<text transform="translate(423.79 185.80) scale(1.1574 1)" font-size="19.72" font-weight="bold" fill="#0000ff">-3</text>
<text transform="translate(446.00 210.44) scale(0.9044 1)" font-size="36.47" font-weight="bold" fill="#0000ff">)</text>
<text transform="translate(444.12 275.00) scale(1.0834 1)" font-size="35.20" font-weight="bold" fill="#000">NBI (MW)</text>
<text transform="translate(539.53 354.80) scale(1.1425 1)" font-size="33.24" font-weight="bold" fill="#ff0000">ECRH (MW)</text>
<text transform="translate(657.02 435.30) scale(1.1512 1)" font-size="33.10" font-weight="bold" fill="#008000">Ip (MA)</text>
<text transform="translate(50.33 526.24) scale(0.9835 1)" font-size="36.20" stroke="#000" stroke-width="0.55" fill="#000">10</text>
<text transform="translate(65.89 555.14) scale(0.9727 1)" font-size="36.20" stroke="#000" stroke-width="0.55" fill="#000">0</text>
<text transform="translate(44.89 559.98) rotate(-90) scale(1.0479 1)" font-size="36.26" stroke="#000" stroke-width="0.55" fill="#000">(A.U.)</text>
<text transform="translate(105.56 532.20) scale(1.0645 1)" font-size="33.80" font-weight="bold" fill="#1a1a1a">divertor shunt current</text>
<text transform="translate(78.14 586.00) scale(1.0000 1)" font-size="36.96" stroke="#000" stroke-width="0.55" fill="#000">1</text>
<text transform="translate(151.54 585.64) scale(1.0255 1)" font-size="35.92" stroke="#000" stroke-width="0.55" fill="#000">1.05</text>
<text transform="translate(244.56 586.00) scale(0.8821 1)" font-size="36.96" stroke="#000" stroke-width="0.55" fill="#000">1.1</text>
<text transform="translate(329.21 585.64) scale(1.0200 1)" font-size="36.43" stroke="#000" stroke-width="0.55" fill="#000">1.15</text>
<text transform="translate(421.20 586.00) scale(1.0243 1)" font-size="36.43" stroke="#000" stroke-width="0.55" fill="#000">1.2</text>
<text transform="translate(502.46 585.64) scale(1.0544 1)" font-size="35.92" stroke="#000" stroke-width="0.55" fill="#000">1.25</text>
<text transform="translate(600.46 585.64) scale(1.0176 1)" font-size="35.92" stroke="#000" stroke-width="0.55" fill="#000">1.3</text>
<text transform="translate(682.18 585.64) scale(1.0453 1)" font-size="35.92" stroke="#000" stroke-width="0.55" fill="#000">1.35</text>
<text transform="translate(775.26 586.00) scale(0.9181 1)" font-size="36.96" stroke="#000" stroke-width="0.55" fill="#000">1.4</text>
<rect x="183" y="600" width="442.5" height="236" fill="#00008f"/>
<g shape-rendering="crispEdges"><path fill="#0000df" d="M220.4 600h2.4v4.9h-2.4zM224.8 600h2.4v4.9h-2.4zM224.8 604.7h2.4v4.9h-2.4zM262.3 604.7h2.4v4.9h-2.4zM266.7 604.7h2.4v4.9h-2.4zM429.6 604.7h4.6v4.9h-4.6zM504.4 604.7h2.4v4.9h-2.4zM211.6 609.4h2.4v4.9h-2.4zM389.9 609.4h2.4v4.9h-2.4zM482.4 609.4h2.4v4.9h-2.4zM504.4 609.4h2.4v4.9h-2.4zM585.9 609.4h2.4v4.9h-2.4zM218.2 614.2h2.4v4.9h-2.4zM456 614.2h2.4v4.9h-2.4zM486.8 614.2h2.4v4.9h-2.4zM216 618.9h2.4v4.9h-2.4zM220.4 618.9h2.4v4.9h-2.4zM381.1 618.9h4.6v4.9h-4.6zM405.4 618.9h2.4v4.9h-2.4zM453.8 618.9h2.4v4.9h-2.4zM478 618.9h2.4v4.9h-2.4zM546.2 618.9h2.4v4.9h-2.4zM588.1 618.9h2.4v4.9h-2.4zM345.9 623.6h2.4v4.9h-2.4zM460.4 623.6h2.4v4.9h-2.4zM482.4 623.6h2.4v4.9h-2.4zM555.1 623.6h2.4v4.9h-2.4zM460.4 637.8h2.4v4.9h-2.4zM475.8 637.8h2.4v4.9h-2.4zM462.6 661.4h2.4v4.9h-2.4zM475.8 661.4h2.4v4.9h-2.4zM482.4 666.1h2.4v4.9h-2.4zM480.2 694.4h2.4v4.9h-2.4zM467 708.6h2.4v4.9h-2.4zM469.2 732.2h2.4v4.9h-2.4zM482.4 732.2h2.4v4.9h-2.4zM198.4 736.9h2.4v4.9h-2.4zM253.4 736.9h2.4v4.9h-2.4zM414.2 736.9h2.4v4.9h-2.4zM354.7 741.6h4.6v4.9h-4.6zM370.1 741.6h2.4v4.9h-2.4zM447.2 741.6h2.4v4.9h-2.4zM467 741.6h2.4v4.9h-2.4zM198.4 746.3h2.4v4.9h-2.4zM205 746.3h2.4v4.9h-2.4zM326.1 746.3h2.4v4.9h-2.4zM376.7 746.3h2.4v4.9h-2.4zM467 746.3h2.4v4.9h-2.4zM471.4 746.3h2.4v4.9h-2.4zM475.8 746.3h2.4v4.9h-2.4zM592.5 746.3h2.4v4.9h-2.4zM205 751h2.4v4.9h-2.4zM235.8 751h2.4v4.9h-2.4zM268.9 751h2.4v4.9h-2.4zM319.5 751h2.4v4.9h-2.4zM326.1 751h2.4v4.9h-2.4zM370.1 751h2.4v4.9h-2.4zM389.9 751h2.4v4.9h-2.4zM425.2 751h2.4v4.9h-2.4zM460.4 751h2.4v4.9h-2.4zM467 751h2.4v4.9h-2.4zM515.4 751h2.4v4.9h-2.4zM522 751h2.4v4.9h-2.4zM574.9 751h2.4v4.9h-2.4zM585.9 751h2.4v4.9h-2.4zM607.9 751h2.4v4.9h-2.4zM618.9 751h2.4v4.9h-2.4zM205 755.8h2.4v4.9h-2.4zM251.2 755.8h2.4v4.9h-2.4zM257.9 755.8h2.4v4.9h-2.4zM275.5 755.8h2.4v4.9h-2.4zM319.5 755.8h2.4v4.9h-2.4zM326.1 755.8h2.4v4.9h-2.4zM423 755.8h2.4v4.9h-2.4zM429.6 755.8h2.4v4.9h-2.4zM522 755.8h2.4v4.9h-2.4zM535.2 755.8h2.4v4.9h-2.4zM189.6 760.5h2.4v4.9h-2.4zM216 760.5h2.4v4.9h-2.4zM220.4 760.5h2.4v4.9h-2.4zM257.9 760.5h2.4v4.9h-2.4zM268.9 760.5h2.4v4.9h-2.4zM286.5 760.5h2.4v4.9h-2.4zM319.5 760.5h2.4v4.9h-2.4zM339.3 760.5h2.4v4.9h-2.4zM429.6 760.5h2.4v4.9h-2.4zM478 760.5h2.4v4.9h-2.4zM522 760.5h2.4v4.9h-2.4zM592.5 760.5h2.4v4.9h-2.4zM202.8 765.2h2.4v4.9h-2.4zM253.4 765.2h2.4v4.9h-2.4zM407.6 765.2h2.4v4.9h-2.4zM497.8 765.2h2.4v4.9h-2.4zM504.4 765.2h2.4v4.9h-2.4zM618.9 765.2h2.4v4.9h-2.4zM196.2 769.9h2.4v4.9h-2.4zM255.6 769.9h2.4v4.9h-2.4zM260.1 769.9h2.4v4.9h-2.4zM288.7 769.9h2.4v4.9h-2.4zM361.3 769.9h2.4v4.9h-2.4zM374.5 769.9h2.4v4.9h-2.4zM378.9 769.9h2.4v4.9h-2.4zM409.8 769.9h2.4v4.9h-2.4zM440.6 769.9h2.4v4.9h-2.4zM504.4 769.9h2.4v4.9h-2.4zM618.9 769.9h2.4v4.9h-2.4zM222.6 774.6h2.4v4.9h-2.4zM341.5 774.6h2.4v4.9h-2.4zM367.9 774.6h2.4v4.9h-2.4zM447.2 774.6h2.4v4.9h-2.4zM451.6 774.6h2.4v4.9h-2.4zM519.8 774.6h2.4v4.9h-2.4zM251.2 779.4h2.4v4.9h-2.4zM290.9 779.4h2.4v4.9h-2.4zM295.3 779.4h2.4v4.9h-2.4zM363.5 779.4h2.4v4.9h-2.4zM387.7 779.4h2.4v4.9h-2.4zM460.4 779.4h2.4v4.9h-2.4zM464.8 779.4h4.6v4.9h-4.6zM497.8 779.4h2.4v4.9h-2.4zM517.6 779.4h2.4v4.9h-2.4zM537.4 779.4h2.4v4.9h-2.4zM541.8 779.4h2.4v4.9h-2.4zM566.1 779.4h2.4v4.9h-2.4zM601.3 779.4h2.4v4.9h-2.4zM211.6 784.1h2.4v4.9h-2.4zM246.8 784.1h2.4v4.9h-2.4zM394.3 784.1h2.4v4.9h-2.4zM420.8 784.1h2.4v4.9h-2.4zM449.4 784.1h2.4v4.9h-2.4zM500 784.1h2.4v4.9h-2.4zM506.6 784.1h2.4v4.9h-2.4zM568.3 784.1h2.4v4.9h-2.4zM599.1 784.1h2.4v4.9h-2.4zM196.2 788.8h2.4v4.9h-2.4zM293.1 788.8h2.4v4.9h-2.4zM308.5 788.8h2.4v4.9h-2.4zM352.5 788.8h2.4v4.9h-2.4zM361.3 788.8h2.4v4.9h-2.4zM385.5 788.8h2.4v4.9h-2.4zM429.6 788.8h2.4v4.9h-2.4zM513.2 788.8h2.4v4.9h-2.4zM544 788.8h2.4v4.9h-2.4zM563.9 788.8h2.4v4.9h-2.4zM326.1 793.5h2.4v4.9h-2.4zM330.5 793.5h2.4v4.9h-2.4zM396.5 793.5h2.4v4.9h-2.4zM436.2 793.5h2.4v4.9h-2.4zM451.6 793.5h2.4v4.9h-2.4zM469.2 793.5h2.4v4.9h-2.4zM535.2 793.5h2.4v4.9h-2.4zM546.2 793.5h2.4v4.9h-2.4zM561.7 793.5h2.4v4.9h-2.4zM566.1 793.5h2.4v4.9h-2.4zM618.9 793.5h2.4v4.9h-2.4zM196.2 798.2h2.4v4.9h-2.4zM205 798.2h2.4v4.9h-2.4zM209.4 798.2h2.4v4.9h-2.4zM213.8 798.2h2.4v4.9h-2.4zM315.1 798.2h2.4v4.9h-2.4zM464.8 798.2h2.4v4.9h-2.4zM471.4 798.2h2.4v4.9h-2.4zM541.8 798.2h2.4v4.9h-2.4zM570.5 798.2h2.4v4.9h-2.4zM588.1 798.2h2.4v4.9h-2.4zM216 803h2.4v4.9h-2.4zM271.1 803h2.4v4.9h-2.4zM301.9 803h2.4v4.9h-2.4zM339.3 803h2.4v4.9h-2.4zM345.9 803h2.4v4.9h-2.4zM407.6 803h2.4v4.9h-2.4zM414.2 803h2.4v4.9h-2.4zM425.2 803h2.4v4.9h-2.4zM445 803h2.4v4.9h-2.4zM548.4 803h2.4v4.9h-2.4zM585.9 803h2.4v4.9h-2.4zM592.5 803h4.6v4.9h-4.6zM200.6 807.7h2.4v4.9h-2.4zM207.2 807.7h2.4v4.9h-2.4zM229.2 807.7h2.4v4.9h-2.4zM238 807.7h2.4v4.9h-2.4zM242.4 807.7h2.4v4.9h-2.4zM253.4 807.7h2.4v4.9h-2.4zM268.9 807.7h2.4v4.9h-2.4zM277.7 807.7h2.4v4.9h-2.4zM286.5 807.7h2.4v4.9h-2.4zM290.9 807.7h2.4v4.9h-2.4zM317.3 807.7h6.8v4.9h-6.8zM332.7 807.7h2.4v4.9h-2.4zM337.1 807.7h6.8v4.9h-6.8zM361.3 807.7h2.4v4.9h-2.4zM372.3 807.7h2.4v4.9h-2.4zM387.7 807.7h2.4v4.9h-2.4zM418.6 807.7h2.4v4.9h-2.4zM440.6 807.7h2.4v4.9h-2.4zM464.8 807.7h4.6v4.9h-4.6zM473.6 807.7h2.4v4.9h-2.4zM480.2 807.7h2.4v4.9h-2.4zM489 807.7h2.4v4.9h-2.4zM524.2 807.7h2.4v4.9h-2.4zM528.6 807.7h2.4v4.9h-2.4zM548.4 807.7h2.4v4.9h-2.4zM552.9 807.7h4.6v4.9h-4.6zM200.6 812.4h2.4v4.9h-2.4zM207.2 812.4h2.4v4.9h-2.4zM218.2 812.4h2.4v4.9h-2.4zM233.6 812.4h2.4v4.9h-2.4zM240.2 812.4h2.4v4.9h-2.4zM255.6 812.4h2.4v4.9h-2.4zM260.1 812.4h6.8v4.9h-6.8zM273.3 812.4h2.4v4.9h-2.4zM288.7 812.4h2.4v4.9h-2.4zM312.9 812.4h6.8v4.9h-6.8zM323.9 812.4h2.4v4.9h-2.4zM337.1 812.4h2.4v4.9h-2.4zM365.7 812.4h2.4v4.9h-2.4zM372.3 812.4h2.4v4.9h-2.4zM387.7 812.4h2.4v4.9h-2.4zM409.8 812.4h2.4v4.9h-2.4zM418.6 812.4h4.6v4.9h-4.6zM471.4 812.4h4.6v4.9h-4.6zM480.2 812.4h2.4v4.9h-2.4zM484.6 812.4h2.4v4.9h-2.4zM515.4 812.4h11.2v4.9h-11.2zM541.8 812.4h2.4v4.9h-2.4zM550.6 812.4h2.4v4.9h-2.4zM568.3 812.4h2.4v4.9h-2.4zM605.7 812.4h2.4v4.9h-2.4zM621.1 812.4h4.6v4.9h-4.6zM185.2 817.1h4.6v4.9h-4.6zM191.8 817.1h2.4v4.9h-2.4zM207.2 817.1h2.4v4.9h-2.4zM231.4 817.1h9v4.9h-9zM255.6 817.1h4.6v4.9h-4.6zM271.1 817.1h6.8v4.9h-6.8zM288.7 817.1h2.4v4.9h-2.4zM315.1 817.1h2.4v4.9h-2.4zM319.5 817.1h4.6v4.9h-4.6zM337.1 817.1h2.4v4.9h-2.4zM359.1 817.1h2.4v4.9h-2.4zM365.7 817.1h2.4v4.9h-2.4zM372.3 817.1h4.6v4.9h-4.6zM378.9 817.1h2.4v4.9h-2.4zM392.1 817.1h6.8v4.9h-6.8zM407.6 817.1h2.4v4.9h-2.4zM416.4 817.1h2.4v4.9h-2.4zM429.6 817.1h2.4v4.9h-2.4zM442.8 817.1h2.4v4.9h-2.4zM447.2 817.1h4.6v4.9h-4.6zM453.8 817.1h2.4v4.9h-2.4zM462.6 817.1h6.8v4.9h-6.8zM482.4 817.1h2.4v4.9h-2.4zM486.8 817.1h2.4v4.9h-2.4zM500 817.1h2.4v4.9h-2.4zM517.6 817.1h6.8v4.9h-6.8zM537.4 817.1h2.4v4.9h-2.4zM550.6 817.1h4.6v4.9h-4.6zM623.3 817.1h2.4v4.9h-2.4zM191.8 821.8h2.4v4.9h-2.4zM205 821.8h2.4v4.9h-2.4zM213.8 821.8h2.4v4.9h-2.4zM231.4 821.8h2.4v4.9h-2.4zM238 821.8h2.4v4.9h-2.4zM253.4 821.8h2.4v4.9h-2.4zM273.3 821.8h2.4v4.9h-2.4zM288.7 821.8h2.4v4.9h-2.4zM315.1 821.8h2.4v4.9h-2.4zM319.5 821.8h4.6v4.9h-4.6zM326.1 821.8h2.4v4.9h-2.4zM339.3 821.8h2.4v4.9h-2.4zM354.7 821.8h2.4v4.9h-2.4zM365.7 821.8h2.4v4.9h-2.4zM374.5 821.8h4.6v4.9h-4.6zM392.1 821.8h4.6v4.9h-4.6zM407.6 821.8h2.4v4.9h-2.4zM429.6 821.8h2.4v4.9h-2.4zM445 821.8h4.6v4.9h-4.6zM453.8 821.8h2.4v4.9h-2.4zM464.8 821.8h2.4v4.9h-2.4zM469.2 821.8h2.4v4.9h-2.4zM482.4 821.8h2.4v4.9h-2.4zM486.8 821.8h2.4v4.9h-2.4zM517.6 821.8h6.8v4.9h-6.8zM535.2 821.8h4.6v4.9h-4.6zM623.3 821.8h2.4v4.9h-2.4zM194 826.6h2.4v4.9h-2.4zM211.6 826.6h4.6v4.9h-4.6zM231.4 826.6h9v4.9h-9zM253.4 826.6h4.6v4.9h-4.6zM293.1 826.6h2.4v4.9h-2.4zM315.1 826.6h6.8v4.9h-6.8zM323.9 826.6h4.6v4.9h-4.6zM339.3 826.6h2.4v4.9h-2.4zM354.7 826.6h4.6v4.9h-4.6zM363.5 826.6h6.8v4.9h-6.8zM376.7 826.6h2.4v4.9h-2.4zM381.1 826.6h2.4v4.9h-2.4zM392.1 826.6h4.6v4.9h-4.6zM403.1 826.6h2.4v4.9h-2.4zM409.8 826.6h2.4v4.9h-2.4zM442.8 826.6h2.4v4.9h-2.4zM447.2 826.6h2.4v4.9h-2.4zM484.6 826.6h4.6v4.9h-4.6zM513.2 826.6h2.4v4.9h-2.4zM519.8 826.6h4.6v4.9h-4.6zM537.4 826.6h2.4v4.9h-2.4zM552.9 826.6h2.4v4.9h-2.4zM566.1 826.6h2.4v4.9h-2.4zM623.3 826.6h2.4v4.9h-2.4zM194 831.3h2.4v4.9h-2.4zM207.2 831.3h9v4.9h-9zM233.6 831.3h2.4v4.9h-2.4zM238 831.3h2.4v4.9h-2.4zM257.9 831.3h9v4.9h-9zM273.3 831.3h2.4v4.9h-2.4zM290.9 831.3h6.8v4.9h-6.8zM319.5 831.3h4.6v4.9h-4.6zM328.3 831.3h2.4v4.9h-2.4zM337.1 831.3h4.6v4.9h-4.6zM356.9 831.3h2.4v4.9h-2.4zM361.3 831.3h2.4v4.9h-2.4zM365.7 831.3h6.8v4.9h-6.8zM374.5 831.3h2.4v4.9h-2.4zM381.1 831.3h6.8v4.9h-6.8zM398.7 831.3h6.8v4.9h-6.8zM425.2 831.3h2.4v4.9h-2.4zM473.6 831.3h2.4v4.9h-2.4zM478 831.3h2.4v4.9h-2.4zM504.4 831.3h4.6v4.9h-4.6zM511 831.3h2.4v4.9h-2.4zM522 831.3h2.4v4.9h-2.4zM535.2 831.3h4.6v4.9h-4.6zM561.7 831.3h2.4v4.9h-2.4zM607.9 831.3h2.4v4.9h-2.4z"/><path fill="#0060ff" d="M222.6 600h2.4v4.9h-2.4zM431.8 600h2.4v4.9h-2.4zM502.2 604.7h2.4v4.9h-2.4zM387.7 614.2h2.4v4.9h-2.4zM546.2 614.2h2.4v4.9h-2.4zM585.9 614.2h2.4v4.9h-2.4zM209.4 618.9h2.4v4.9h-2.4zM403.1 618.9h2.4v4.9h-2.4zM456 618.9h2.4v4.9h-2.4zM557.3 618.9h2.4v4.9h-2.4zM585.9 618.9h2.4v4.9h-2.4zM343.7 623.6h2.4v4.9h-2.4zM462.6 637.8h2.4v4.9h-2.4zM462.6 642.5h2.4v4.9h-2.4zM462.6 647.2h2.4v4.9h-2.4zM473.6 647.2h2.4v4.9h-2.4zM464.8 651.9h2.4v4.9h-2.4zM471.4 651.9h2.4v4.9h-2.4zM464.8 670.8h2.4v4.9h-2.4zM475.8 670.8h2.4v4.9h-2.4zM467 675.5h2.4v4.9h-2.4zM473.6 675.5h2.4v4.9h-2.4zM469.2 685h2.4v4.9h-2.4zM482.4 689.7h2.4v4.9h-2.4zM467 694.4h2.4v4.9h-2.4zM469.2 699.1h2.4v4.9h-2.4zM469.2 703.8h2.4v4.9h-2.4zM471.4 708.6h2.4v4.9h-2.4zM469.2 713.3h2.4v4.9h-2.4zM475.8 713.3h2.4v4.9h-2.4zM469.2 718h2.4v4.9h-2.4zM471.4 722.7h2.4v4.9h-2.4zM480.2 722.7h2.4v4.9h-2.4zM478 727.4h2.4v4.9h-2.4zM412 736.9h2.4v4.9h-2.4zM471.4 736.9h2.4v4.9h-2.4zM183 741.6h2.4v4.9h-2.4zM255.6 741.6h2.4v4.9h-2.4zM445 741.6h2.4v4.9h-2.4zM473.6 741.6h2.4v4.9h-2.4zM482.4 741.6h4.6v4.9h-4.6zM187.4 746.3h2.4v4.9h-2.4zM337.1 746.3h2.4v4.9h-2.4zM200.6 751h2.4v4.9h-2.4zM341.5 751h2.4v4.9h-2.4zM447.2 751h2.4v4.9h-2.4zM621.1 751h2.4v4.9h-2.4zM187.4 755.8h2.4v4.9h-2.4zM200.6 755.8h2.4v4.9h-2.4zM341.5 755.8h2.4v4.9h-2.4zM354.7 755.8h2.4v4.9h-2.4zM389.9 755.8h2.4v4.9h-2.4zM412 755.8h2.4v4.9h-2.4zM475.8 755.8h2.4v4.9h-2.4zM486.8 755.8h2.4v4.9h-2.4zM517.6 755.8h2.4v4.9h-2.4zM537.4 755.8h2.4v4.9h-2.4zM603.5 755.8h2.4v4.9h-2.4zM202.8 760.5h4.6v4.9h-4.6zM321.7 760.5h2.4v4.9h-2.4zM389.9 760.5h2.4v4.9h-2.4zM409.8 760.5h2.4v4.9h-2.4zM486.8 760.5h2.4v4.9h-2.4zM588.1 760.5h2.4v4.9h-2.4zM607.9 760.5h2.4v4.9h-2.4zM198.4 765.2h2.4v4.9h-2.4zM220.4 765.2h2.4v4.9h-2.4zM251.2 765.2h2.4v4.9h-2.4zM354.7 765.2h2.4v4.9h-2.4zM374.5 765.2h2.4v4.9h-2.4zM394.3 765.2h2.4v4.9h-2.4zM475.8 765.2h2.4v4.9h-2.4zM519.8 765.2h2.4v4.9h-2.4zM539.6 765.2h2.4v4.9h-2.4zM572.7 765.2h2.4v4.9h-2.4zM588.1 765.2h2.4v4.9h-2.4zM592.5 765.2h2.4v4.9h-2.4zM211.6 769.9h2.4v4.9h-2.4zM273.3 769.9h2.4v4.9h-2.4zM304.1 769.9h2.4v4.9h-2.4zM343.7 769.9h2.4v4.9h-2.4zM354.7 769.9h2.4v4.9h-2.4zM407.6 769.9h2.4v4.9h-2.4zM469.2 769.9h2.4v4.9h-2.4zM233.6 774.6h2.4v4.9h-2.4zM251.2 774.6h2.4v4.9h-2.4zM290.9 774.6h2.4v4.9h-2.4zM361.3 774.6h2.4v4.9h-2.4zM378.9 774.6h2.4v4.9h-2.4zM425.2 774.6h2.4v4.9h-2.4zM458.2 774.6h4.6v4.9h-4.6zM500 774.6h2.4v4.9h-2.4zM522 774.6h2.4v4.9h-2.4zM537.4 774.6h4.6v4.9h-4.6zM222.6 779.4h2.4v4.9h-2.4zM370.1 779.4h2.4v4.9h-2.4zM394.3 779.4h2.4v4.9h-2.4zM480.2 779.4h4.6v4.9h-4.6zM500 779.4h4.6v4.9h-4.6zM574.9 779.4h2.4v4.9h-2.4zM585.9 779.4h2.4v4.9h-2.4zM607.9 779.4h4.6v4.9h-4.6zM207.2 784.1h2.4v4.9h-2.4zM262.3 784.1h2.4v4.9h-2.4zM317.3 784.1h2.4v4.9h-2.4zM363.5 784.1h2.4v4.9h-2.4zM469.2 784.1h2.4v4.9h-2.4zM491.2 784.1h2.4v4.9h-2.4zM497.8 784.1h2.4v4.9h-2.4zM535.2 784.1h2.4v4.9h-2.4zM541.8 784.1h2.4v4.9h-2.4zM557.3 784.1h2.4v4.9h-2.4zM566.1 784.1h2.4v4.9h-2.4zM229.2 788.8h2.4v4.9h-2.4zM249 788.8h2.4v4.9h-2.4zM378.9 788.8h2.4v4.9h-2.4zM497.8 788.8h2.4v4.9h-2.4zM524.2 788.8h2.4v4.9h-2.4zM548.4 788.8h2.4v4.9h-2.4zM306.3 793.5h4.6v4.9h-4.6zM385.5 793.5h2.4v4.9h-2.4zM495.6 793.5h2.4v4.9h-2.4zM541.8 793.5h2.4v4.9h-2.4zM559.5 793.5h2.4v4.9h-2.4zM583.7 793.5h2.4v4.9h-2.4zM601.3 793.5h2.4v4.9h-2.4zM191.8 798.2h2.4v4.9h-2.4zM233.6 798.2h2.4v4.9h-2.4zM244.6 798.2h2.4v4.9h-2.4zM330.5 798.2h2.4v4.9h-2.4zM546.2 798.2h2.4v4.9h-2.4zM561.7 798.2h2.4v4.9h-2.4zM196.2 803h2.4v4.9h-2.4zM205 803h2.4v4.9h-2.4zM213.8 803h2.4v4.9h-2.4zM233.6 803h2.4v4.9h-2.4zM266.7 803h2.4v4.9h-2.4zM511 803h2.4v4.9h-2.4zM590.3 803h2.4v4.9h-2.4zM194 807.7h2.4v4.9h-2.4zM308.5 807.7h2.4v4.9h-2.4zM381.1 807.7h2.4v4.9h-2.4zM403.1 807.7h2.4v4.9h-2.4zM506.6 807.7h2.4v4.9h-2.4zM198.4 812.4h2.4v4.9h-2.4zM216 812.4h2.4v4.9h-2.4zM299.7 812.4h2.4v4.9h-2.4zM414.2 812.4h2.4v4.9h-2.4zM460.4 812.4h2.4v4.9h-2.4zM489 812.4h2.4v4.9h-2.4zM213.8 817.1h2.4v4.9h-2.4zM286.5 817.1h2.4v4.9h-2.4zM480.2 817.1h2.4v4.9h-2.4zM524.2 817.1h2.4v4.9h-2.4zM544 817.1h2.4v4.9h-2.4zM607.9 817.1h2.4v4.9h-2.4zM187.4 821.8h2.4v4.9h-2.4zM416.4 821.8h2.4v4.9h-2.4zM427.4 821.8h2.4v4.9h-2.4zM471.4 821.8h2.4v4.9h-2.4zM493.4 821.8h2.4v4.9h-2.4zM524.2 821.8h2.4v4.9h-2.4zM533 821.8h2.4v4.9h-2.4zM539.6 821.8h2.4v4.9h-2.4zM288.7 826.6h2.4v4.9h-2.4zM295.3 826.6h2.4v4.9h-2.4zM328.3 826.6h2.4v4.9h-2.4zM361.3 826.6h2.4v4.9h-2.4zM370.1 826.6h2.4v4.9h-2.4zM425.2 826.6h2.4v4.9h-2.4zM489 826.6h4.6v4.9h-4.6zM539.6 826.6h2.4v4.9h-2.4zM579.3 826.6h2.4v4.9h-2.4zM588.1 826.6h2.4v4.9h-2.4zM183 831.3h2.4v4.9h-2.4zM244.6 831.3h4.6v4.9h-4.6zM299.7 831.3h4.6v4.9h-4.6zM438.4 831.3h2.4v4.9h-2.4zM515.4 831.3h2.4v4.9h-2.4z"/><path fill="#0000bf" d="M264.5 600h2.4v4.9h-2.4zM502.2 600h2.4v4.9h-2.4zM220.4 604.7h2.4v4.9h-2.4zM484.6 604.7h2.4v4.9h-2.4zM500 604.7h2.4v4.9h-2.4zM213.8 609.4h2.4v4.9h-2.4zM381.1 609.4h2.4v4.9h-2.4zM387.7 609.4h2.4v4.9h-2.4zM546.2 609.4h4.6v4.9h-4.6zM583.7 609.4h2.4v4.9h-2.4zM596.9 609.4h2.4v4.9h-2.4zM209.4 614.2h2.4v4.9h-2.4zM330.5 614.2h2.4v4.9h-2.4zM334.9 614.2h2.4v4.9h-2.4zM392.1 614.2h2.4v4.9h-2.4zM405.4 614.2h2.4v4.9h-2.4zM550.6 614.2h2.4v4.9h-2.4zM555.1 614.2h4.6v4.9h-4.6zM588.1 614.2h2.4v4.9h-2.4zM594.7 614.2h2.4v4.9h-2.4zM211.6 618.9h4.6v4.9h-4.6zM330.5 618.9h2.4v4.9h-2.4zM387.7 618.9h2.4v4.9h-2.4zM400.9 618.9h2.4v4.9h-2.4zM583.7 618.9h2.4v4.9h-2.4zM207.2 623.6h2.4v4.9h-2.4zM211.6 623.6h2.4v4.9h-2.4zM220.4 623.6h2.4v4.9h-2.4zM332.7 623.6h2.4v4.9h-2.4zM458.2 623.6h2.4v4.9h-2.4zM343.7 628.3h2.4v4.9h-2.4zM460.4 628.3h2.4v4.9h-2.4zM460.4 633h2.4v4.9h-2.4zM460.4 642.5h2.4v4.9h-2.4zM475.8 656.6h2.4v4.9h-2.4zM462.6 666.1h2.4v4.9h-2.4zM478 666.1h2.4v4.9h-2.4zM482.4 675.5h2.4v4.9h-2.4zM478 680.2h2.4v4.9h-2.4zM482.4 680.2h2.4v4.9h-2.4zM478 685h2.4v4.9h-2.4zM464.8 689.7h2.4v4.9h-2.4zM482.4 694.4h2.4v4.9h-2.4zM480.2 708.6h2.4v4.9h-2.4zM467 713.3h2.4v4.9h-2.4zM482.4 727.4h2.4v4.9h-2.4zM183 732.2h4.6v4.9h-4.6zM337.1 732.2h4.6v4.9h-4.6zM205 736.9h2.4v4.9h-2.4zM251.2 736.9h2.4v4.9h-2.4zM255.6 736.9h2.4v4.9h-2.4zM321.7 736.9h4.6v4.9h-4.6zM334.9 736.9h2.4v4.9h-2.4zM460.4 736.9h2.4v4.9h-2.4zM588.1 736.9h4.6v4.9h-4.6zM205 741.6h2.4v4.9h-2.4zM257.9 741.6h2.4v4.9h-2.4zM326.1 741.6h2.4v4.9h-2.4zM334.9 741.6h2.4v4.9h-2.4zM376.7 741.6h2.4v4.9h-2.4zM486.8 741.6h2.4v4.9h-2.4zM592.5 741.6h2.4v4.9h-2.4zM257.9 746.3h2.4v4.9h-2.4zM352.5 746.3h2.4v4.9h-2.4zM440.6 746.3h2.4v4.9h-2.4zM574.9 746.3h2.4v4.9h-2.4zM198.4 751h2.4v4.9h-2.4zM233.6 751h2.4v4.9h-2.4zM257.9 751h2.4v4.9h-2.4zM275.5 751h2.4v4.9h-2.4zM352.5 751h2.4v4.9h-2.4zM394.3 751h2.4v4.9h-2.4zM440.6 751h2.4v4.9h-2.4zM550.6 751h4.6v4.9h-4.6zM568.3 751h2.4v4.9h-2.4zM603.5 751h2.4v4.9h-2.4zM183 755.8h2.4v4.9h-2.4zM198.4 755.8h2.4v4.9h-2.4zM231.4 755.8h2.4v4.9h-2.4zM286.5 755.8h2.4v4.9h-2.4zM370.1 755.8h2.4v4.9h-2.4zM387.7 755.8h2.4v4.9h-2.4zM449.4 755.8h2.4v4.9h-2.4zM460.4 755.8h2.4v4.9h-2.4zM515.4 755.8h2.4v4.9h-2.4zM568.3 755.8h2.4v4.9h-2.4zM585.9 755.8h2.4v4.9h-2.4zM185.2 760.5h2.4v4.9h-2.4zM231.4 760.5h2.4v4.9h-2.4zM290.9 760.5h2.4v4.9h-2.4zM326.1 760.5h2.4v4.9h-2.4zM370.1 760.5h2.4v4.9h-2.4zM412 760.5h2.4v4.9h-2.4zM416.4 760.5h2.4v4.9h-2.4zM423 760.5h2.4v4.9h-2.4zM449.4 760.5h2.4v4.9h-2.4zM473.6 760.5h2.4v4.9h-2.4zM504.4 760.5h2.4v4.9h-2.4zM585.9 760.5h2.4v4.9h-2.4zM610.1 760.5h2.4v4.9h-2.4zM200.6 765.2h2.4v4.9h-2.4zM207.2 765.2h2.4v4.9h-2.4zM211.6 765.2h2.4v4.9h-2.4zM268.9 765.2h2.4v4.9h-2.4zM423 765.2h2.4v4.9h-2.4zM449.4 765.2h2.4v4.9h-2.4zM610.1 765.2h2.4v4.9h-2.4zM249 769.9h2.4v4.9h-2.4zM293.1 769.9h2.4v4.9h-2.4zM317.3 769.9h2.4v4.9h-2.4zM396.5 769.9h2.4v4.9h-2.4zM458.2 769.9h2.4v4.9h-2.4zM489 769.9h2.4v4.9h-2.4zM497.8 769.9h2.4v4.9h-2.4zM541.8 769.9h2.4v4.9h-2.4zM568.3 769.9h2.4v4.9h-2.4zM610.1 769.9h2.4v4.9h-2.4zM187.4 774.6h2.4v4.9h-2.4zM213.8 774.6h2.4v4.9h-2.4zM218.2 774.6h2.4v4.9h-2.4zM301.9 774.6h2.4v4.9h-2.4zM306.3 774.6h2.4v4.9h-2.4zM328.3 774.6h2.4v4.9h-2.4zM345.9 774.6h2.4v4.9h-2.4zM396.5 774.6h2.4v4.9h-2.4zM405.4 774.6h2.4v4.9h-2.4zM414.2 774.6h2.4v4.9h-2.4zM423 774.6h2.4v4.9h-2.4zM471.4 774.6h2.4v4.9h-2.4zM475.8 774.6h2.4v4.9h-2.4zM497.8 774.6h2.4v4.9h-2.4zM541.8 774.6h2.4v4.9h-2.4zM570.5 774.6h4.6v4.9h-4.6zM583.7 774.6h2.4v4.9h-2.4zM590.3 774.6h2.4v4.9h-2.4zM610.1 774.6h2.4v4.9h-2.4zM194 779.4h2.4v4.9h-2.4zM198.4 779.4h2.4v4.9h-2.4zM262.3 779.4h2.4v4.9h-2.4zM315.1 779.4h2.4v4.9h-2.4zM319.5 779.4h2.4v4.9h-2.4zM323.9 779.4h2.4v4.9h-2.4zM350.3 779.4h2.4v4.9h-2.4zM359.1 779.4h2.4v4.9h-2.4zM381.1 779.4h2.4v4.9h-2.4zM412 779.4h2.4v4.9h-2.4zM427.4 779.4h2.4v4.9h-2.4zM431.8 779.4h2.4v4.9h-2.4zM438.4 779.4h2.4v4.9h-2.4zM442.8 779.4h2.4v4.9h-2.4zM491.2 779.4h2.4v4.9h-2.4zM524.2 779.4h2.4v4.9h-2.4zM548.4 779.4h2.4v4.9h-2.4zM599.1 779.4h2.4v4.9h-2.4zM616.7 779.4h2.4v4.9h-2.4zM621.1 779.4h2.4v4.9h-2.4zM229.2 784.1h2.4v4.9h-2.4zM233.6 784.1h2.4v4.9h-2.4zM242.4 784.1h2.4v4.9h-2.4zM251.2 784.1h2.4v4.9h-2.4zM359.1 784.1h2.4v4.9h-2.4zM365.7 784.1h2.4v4.9h-2.4zM370.1 784.1h2.4v4.9h-2.4zM398.7 784.1h2.4v4.9h-2.4zM407.6 784.1h2.4v4.9h-2.4zM412 784.1h2.4v4.9h-2.4zM460.4 784.1h4.6v4.9h-4.6zM478 784.1h2.4v4.9h-2.4zM502.2 784.1h2.4v4.9h-2.4zM555.1 784.1h2.4v4.9h-2.4zM559.5 784.1h2.4v4.9h-2.4zM612.3 784.1h2.4v4.9h-2.4zM623.3 784.1h2.4v4.9h-2.4zM183 788.8h2.4v4.9h-2.4zM213.8 788.8h2.4v4.9h-2.4zM220.4 788.8h2.4v4.9h-2.4zM244.6 788.8h2.4v4.9h-2.4zM251.2 788.8h2.4v4.9h-2.4zM257.9 788.8h2.4v4.9h-2.4zM264.5 788.8h4.6v4.9h-4.6zM304.1 788.8h2.4v4.9h-2.4zM317.3 788.8h2.4v4.9h-2.4zM332.7 788.8h2.4v4.9h-2.4zM337.1 788.8h2.4v4.9h-2.4zM343.7 788.8h2.4v4.9h-2.4zM392.1 788.8h2.4v4.9h-2.4zM400.9 788.8h2.4v4.9h-2.4zM407.6 788.8h2.4v4.9h-2.4zM425.2 788.8h4.6v4.9h-4.6zM434 788.8h4.6v4.9h-4.6zM442.8 788.8h2.4v4.9h-2.4zM469.2 788.8h2.4v4.9h-2.4zM493.4 788.8h4.6v4.9h-4.6zM508.8 788.8h2.4v4.9h-2.4zM517.6 788.8h2.4v4.9h-2.4zM526.4 788.8h2.4v4.9h-2.4zM530.8 788.8h2.4v4.9h-2.4zM539.6 788.8h2.4v4.9h-2.4zM552.9 788.8h2.4v4.9h-2.4zM561.7 788.8h2.4v4.9h-2.4zM574.9 788.8h2.4v4.9h-2.4zM579.3 788.8h4.6v4.9h-4.6zM585.9 788.8h2.4v4.9h-2.4zM590.3 788.8h4.6v4.9h-4.6zM183 793.5h2.4v4.9h-2.4zM187.4 793.5h2.4v4.9h-2.4zM198.4 793.5h6.8v4.9h-6.8zM213.8 793.5h4.6v4.9h-4.6zM220.4 793.5h2.4v4.9h-2.4zM233.6 793.5h2.4v4.9h-2.4zM238 793.5h2.4v4.9h-2.4zM244.6 793.5h2.4v4.9h-2.4zM255.6 793.5h4.6v4.9h-4.6zM266.7 793.5h4.6v4.9h-4.6zM273.3 793.5h4.6v4.9h-4.6zM282.1 793.5h2.4v4.9h-2.4zM286.5 793.5h9v4.9h-9zM299.7 793.5h4.6v4.9h-4.6zM310.7 793.5h2.4v4.9h-2.4zM317.3 793.5h4.6v4.9h-4.6zM332.7 793.5h2.4v4.9h-2.4zM337.1 793.5h2.4v4.9h-2.4zM341.5 793.5h2.4v4.9h-2.4zM359.1 793.5h4.6v4.9h-4.6zM372.3 793.5h2.4v4.9h-2.4zM376.7 793.5h2.4v4.9h-2.4zM400.9 793.5h2.4v4.9h-2.4zM407.6 793.5h2.4v4.9h-2.4zM412 793.5h2.4v4.9h-2.4zM423 793.5h6.8v4.9h-6.8zM445 793.5h6.8v4.9h-6.8zM458.2 793.5h4.6v4.9h-4.6zM475.8 793.5h2.4v4.9h-2.4zM480.2 793.5h2.4v4.9h-2.4zM504.4 793.5h2.4v4.9h-2.4zM517.6 793.5h2.4v4.9h-2.4zM522 793.5h2.4v4.9h-2.4zM526.4 793.5h2.4v4.9h-2.4zM530.8 793.5h2.4v4.9h-2.4zM537.4 793.5h4.6v4.9h-4.6zM555.1 793.5h4.6v4.9h-4.6zM572.7 793.5h2.4v4.9h-2.4zM585.9 793.5h9v4.9h-9zM603.5 793.5h4.6v4.9h-4.6zM623.3 793.5h2.4v4.9h-2.4zM183 798.2h6.8v4.9h-6.8zM198.4 798.2h6.8v4.9h-6.8zM240.2 798.2h2.4v4.9h-2.4zM249 798.2h2.4v4.9h-2.4zM253.4 798.2h4.6v4.9h-4.6zM260.1 798.2h2.4v4.9h-2.4zM266.7 798.2h2.4v4.9h-2.4zM273.3 798.2h6.8v4.9h-6.8zM284.3 798.2h4.6v4.9h-4.6zM290.9 798.2h2.4v4.9h-2.4zM301.9 798.2h2.4v4.9h-2.4zM317.3 798.2h11.2v4.9h-11.2zM337.1 798.2h9v4.9h-9zM352.5 798.2h2.4v4.9h-2.4zM356.9 798.2h6.8v4.9h-6.8zM367.9 798.2h4.6v4.9h-4.6zM374.5 798.2h4.6v4.9h-4.6zM392.1 798.2h6.8v4.9h-6.8zM407.6 798.2h2.4v4.9h-2.4zM412 798.2h2.4v4.9h-2.4zM416.4 798.2h2.4v4.9h-2.4zM425.2 798.2h6.8v4.9h-6.8zM445 798.2h2.4v4.9h-2.4zM449.4 798.2h4.6v4.9h-4.6zM458.2 798.2h4.6v4.9h-4.6zM469.2 798.2h2.4v4.9h-2.4zM478 798.2h4.6v4.9h-4.6zM497.8 798.2h4.6v4.9h-4.6zM511 798.2h2.4v4.9h-2.4zM515.4 798.2h9v4.9h-9zM528.6 798.2h4.6v4.9h-4.6zM535.2 798.2h6.8v4.9h-6.8zM555.1 798.2h4.6v4.9h-4.6zM572.7 798.2h2.4v4.9h-2.4zM585.9 798.2h2.4v4.9h-2.4zM590.3 798.2h4.6v4.9h-4.6zM603.5 798.2h4.6v4.9h-4.6zM621.1 798.2h4.6v4.9h-4.6zM183 803h2.4v4.9h-2.4zM189.6 803h2.4v4.9h-2.4zM198.4 803h6.8v4.9h-6.8zM209.4 803h2.4v4.9h-2.4zM222.6 803h2.4v4.9h-2.4zM235.8 803h6.8v4.9h-6.8zM249 803h4.6v4.9h-4.6zM255.6 803h9v4.9h-9zM268.9 803h2.4v4.9h-2.4zM273.3 803h6.8v4.9h-6.8zM284.3 803h11.2v4.9h-11.2zM304.1 803h4.6v4.9h-4.6zM315.1 803h4.6v4.9h-4.6zM321.7 803h6.8v4.9h-6.8zM332.7 803h6.8v4.9h-6.8zM341.5 803h4.6v4.9h-4.6zM352.5 803h6.8v4.9h-6.8zM361.3 803h2.4v4.9h-2.4zM370.1 803h2.4v4.9h-2.4zM374.5 803h4.6v4.9h-4.6zM396.5 803h2.4v4.9h-2.4zM405.4 803h2.4v4.9h-2.4zM409.8 803h4.6v4.9h-4.6zM427.4 803h2.4v4.9h-2.4zM447.2 803h2.4v4.9h-2.4zM451.6 803h2.4v4.9h-2.4zM460.4 803h4.6v4.9h-4.6zM467 803h6.8v4.9h-6.8zM478 803h6.8v4.9h-6.8zM497.8 803h4.6v4.9h-4.6zM515.4 803h9v4.9h-9zM528.6 803h2.4v4.9h-2.4zM537.4 803h6.8v4.9h-6.8zM555.1 803h6.8v4.9h-6.8zM566.1 803h2.4v4.9h-2.4zM605.7 803h2.4v4.9h-2.4zM621.1 803h4.6v4.9h-4.6zM183 807.7h6.8v4.9h-6.8zM198.4 807.7h2.4v4.9h-2.4zM202.8 807.7h2.4v4.9h-2.4zM209.4 807.7h2.4v4.9h-2.4zM216 807.7h2.4v4.9h-2.4zM222.6 807.7h2.4v4.9h-2.4zM235.8 807.7h2.4v4.9h-2.4zM240.2 807.7h2.4v4.9h-2.4zM249 807.7h4.6v4.9h-4.6zM255.6 807.7h9v4.9h-9zM271.1 807.7h6.8v4.9h-6.8zM279.9 807.7h2.4v4.9h-2.4zM288.7 807.7h2.4v4.9h-2.4zM293.1 807.7h6.8v4.9h-6.8zM304.1 807.7h4.6v4.9h-4.6zM315.1 807.7h2.4v4.9h-2.4zM323.9 807.7h4.6v4.9h-4.6zM334.9 807.7h2.4v4.9h-2.4zM343.7 807.7h2.4v4.9h-2.4zM352.5 807.7h9v4.9h-9zM370.1 807.7h2.4v4.9h-2.4zM374.5 807.7h6.8v4.9h-6.8zM394.3 807.7h6.8v4.9h-6.8zM405.4 807.7h11.2v4.9h-11.2zM420.8 807.7h2.4v4.9h-2.4zM427.4 807.7h6.8v4.9h-6.8zM438.4 807.7h2.4v4.9h-2.4zM445 807.7h6.8v4.9h-6.8zM460.4 807.7h4.6v4.9h-4.6zM469.2 807.7h4.6v4.9h-4.6zM482.4 807.7h2.4v4.9h-2.4zM497.8 807.7h4.6v4.9h-4.6zM515.4 807.7h9v4.9h-9zM539.6 807.7h4.6v4.9h-4.6zM550.6 807.7h2.4v4.9h-2.4zM557.3 807.7h2.4v4.9h-2.4zM566.1 807.7h2.4v4.9h-2.4zM605.7 807.7h2.4v4.9h-2.4zM621.1 807.7h4.6v4.9h-4.6zM183 812.4h6.8v4.9h-6.8zM209.4 812.4h4.6v4.9h-4.6zM220.4 812.4h2.4v4.9h-2.4zM229.2 812.4h2.4v4.9h-2.4zM235.8 812.4h4.6v4.9h-4.6zM251.2 812.4h4.6v4.9h-4.6zM257.9 812.4h2.4v4.9h-2.4zM271.1 812.4h2.4v4.9h-2.4zM275.5 812.4h6.8v4.9h-6.8zM286.5 812.4h2.4v4.9h-2.4zM290.9 812.4h4.6v4.9h-4.6zM304.1 812.4h4.6v4.9h-4.6zM319.5 812.4h4.6v4.9h-4.6zM326.1 812.4h4.6v4.9h-4.6zM334.9 812.4h2.4v4.9h-2.4zM339.3 812.4h6.8v4.9h-6.8zM354.7 812.4h6.8v4.9h-6.8zM374.5 812.4h6.8v4.9h-6.8zM394.3 812.4h4.6v4.9h-4.6zM405.4 812.4h4.6v4.9h-4.6zM412 812.4h2.4v4.9h-2.4zM429.6 812.4h4.6v4.9h-4.6zM440.6 812.4h11.2v4.9h-11.2zM456 812.4h2.4v4.9h-2.4zM462.6 812.4h9v4.9h-9zM482.4 812.4h2.4v4.9h-2.4zM500 812.4h2.4v4.9h-2.4zM539.6 812.4h2.4v4.9h-2.4zM209.4 817.1h4.6v4.9h-4.6zM218.2 817.1h2.4v4.9h-2.4zM251.2 817.1h4.6v4.9h-4.6zM290.9 817.1h2.4v4.9h-2.4zM317.3 817.1h2.4v4.9h-2.4zM323.9 817.1h2.4v4.9h-2.4zM339.3 817.1h4.6v4.9h-4.6zM354.7 817.1h4.6v4.9h-4.6zM376.7 817.1h2.4v4.9h-2.4zM389.9 817.1h2.4v4.9h-2.4zM409.8 817.1h4.6v4.9h-4.6zM445 817.1h2.4v4.9h-2.4zM456 817.1h2.4v4.9h-2.4zM469.2 817.1h2.4v4.9h-2.4zM484.6 817.1h2.4v4.9h-2.4zM539.6 817.1h2.4v4.9h-2.4zM207.2 821.8h6.8v4.9h-6.8zM233.6 821.8h4.6v4.9h-4.6zM255.6 821.8h2.4v4.9h-2.4zM290.9 821.8h2.4v4.9h-2.4zM317.3 821.8h2.4v4.9h-2.4zM323.9 821.8h2.4v4.9h-2.4zM356.9 821.8h2.4v4.9h-2.4zM363.5 821.8h2.4v4.9h-2.4zM367.9 821.8h2.4v4.9h-2.4zM400.9 821.8h2.4v4.9h-2.4zM409.8 821.8h2.4v4.9h-2.4zM442.8 821.8h2.4v4.9h-2.4zM484.6 821.8h2.4v4.9h-2.4zM552.9 821.8h2.4v4.9h-2.4zM191.8 826.6h2.4v4.9h-2.4zM205 826.6h6.8v4.9h-6.8zM273.3 826.6h2.4v4.9h-2.4zM290.9 826.6h2.4v4.9h-2.4zM321.7 826.6h2.4v4.9h-2.4zM374.5 826.6h2.4v4.9h-2.4zM400.9 826.6h2.4v4.9h-2.4zM445 826.6h2.4v4.9h-2.4zM535.2 826.6h2.4v4.9h-2.4zM189.6 831.3h4.6v4.9h-4.6zM196.2 831.3h2.4v4.9h-2.4zM205 831.3h2.4v4.9h-2.4zM235.8 831.3h2.4v4.9h-2.4zM255.6 831.3h2.4v4.9h-2.4zM266.7 831.3h2.4v4.9h-2.4zM317.3 831.3h2.4v4.9h-2.4zM323.9 831.3h4.6v4.9h-4.6zM330.5 831.3h2.4v4.9h-2.4zM363.5 831.3h2.4v4.9h-2.4zM392.1 831.3h4.6v4.9h-4.6zM445 831.3h2.4v4.9h-2.4zM451.6 831.3h2.4v4.9h-2.4zM484.6 831.3h4.6v4.9h-4.6zM513.2 831.3h2.4v4.9h-2.4zM519.8 831.3h2.4v4.9h-2.4zM563.9 831.3h4.6v4.9h-4.6zM623.3 831.3h2.4v4.9h-2.4z"/><path fill="#0040ff" d="M429.6 600h2.4v4.9h-2.4zM222.6 604.7h2.4v4.9h-2.4zM420.8 604.7h2.4v4.9h-2.4zM264.5 609.4h2.4v4.9h-2.4zM594.7 609.4h2.4v4.9h-2.4zM211.6 614.2h2.4v4.9h-2.4zM403.1 614.2h2.4v4.9h-2.4zM218.2 618.9h2.4v4.9h-2.4zM332.7 618.9h2.4v4.9h-2.4zM555.1 618.9h2.4v4.9h-2.4zM462.6 633h2.4v4.9h-2.4zM473.6 637.8h2.4v4.9h-2.4zM475.8 642.5h2.4v4.9h-2.4zM464.8 647.2h2.4v4.9h-2.4zM475.8 647.2h2.4v4.9h-2.4zM462.6 651.9h2.4v4.9h-2.4zM471.4 656.6h2.4v4.9h-2.4zM467 670.8h2.4v4.9h-2.4zM473.6 680.2h2.4v4.9h-2.4zM478 694.4h2.4v4.9h-2.4zM467 699.1h2.4v4.9h-2.4zM478 699.1h2.4v4.9h-2.4zM475.8 703.8h2.4v4.9h-2.4zM480.2 718h2.4v4.9h-2.4zM469.2 722.7h2.4v4.9h-2.4zM202.8 736.9h2.4v4.9h-2.4zM473.6 736.9h2.4v4.9h-2.4zM187.4 741.6h2.4v4.9h-2.4zM251.2 741.6h2.4v4.9h-2.4zM409.8 741.6h2.4v4.9h-2.4zM460.4 741.6h2.4v4.9h-2.4zM251.2 746.3h2.4v4.9h-2.4zM187.4 751h2.4v4.9h-2.4zM216 751h4.6v4.9h-4.6zM475.8 751h2.4v4.9h-2.4zM216 755.8h2.4v4.9h-2.4zM339.3 755.8h2.4v4.9h-2.4zM414.2 755.8h2.4v4.9h-2.4zM550.6 755.8h2.4v4.9h-2.4zM213.8 760.5h2.4v4.9h-2.4zM238 760.5h2.4v4.9h-2.4zM253.4 760.5h2.4v4.9h-2.4zM354.7 760.5h2.4v4.9h-2.4zM359.1 760.5h2.4v4.9h-2.4zM394.3 760.5h2.4v4.9h-2.4zM467 760.5h2.4v4.9h-2.4zM539.6 760.5h2.4v4.9h-2.4zM550.6 760.5h2.4v4.9h-2.4zM189.6 765.2h2.4v4.9h-2.4zM290.9 765.2h2.4v4.9h-2.4zM319.5 765.2h2.4v4.9h-2.4zM409.8 765.2h2.4v4.9h-2.4zM478 765.2h2.4v4.9h-2.4zM207.2 769.9h2.4v4.9h-2.4zM233.6 769.9h2.4v4.9h-2.4zM341.5 769.9h2.4v4.9h-2.4zM425.2 769.9h2.4v4.9h-2.4zM480.2 769.9h2.4v4.9h-2.4zM517.6 769.9h4.6v4.9h-4.6zM539.6 769.9h2.4v4.9h-2.4zM196.2 774.6h2.4v4.9h-2.4zM249 774.6h2.4v4.9h-2.4zM317.3 774.6h2.4v4.9h-2.4zM389.9 774.6h2.4v4.9h-2.4zM429.6 774.6h2.4v4.9h-2.4zM467 774.6h2.4v4.9h-2.4zM555.1 774.6h2.4v4.9h-2.4zM568.3 774.6h2.4v4.9h-2.4zM603.5 774.6h2.4v4.9h-2.4zM618.9 774.6h2.4v4.9h-2.4zM211.6 779.4h2.4v4.9h-2.4zM240.2 779.4h2.4v4.9h-2.4zM345.9 779.4h2.4v4.9h-2.4zM389.9 779.4h2.4v4.9h-2.4zM396.5 779.4h2.4v4.9h-2.4zM405.4 779.4h2.4v4.9h-2.4zM423 779.4h2.4v4.9h-2.4zM471.4 779.4h2.4v4.9h-2.4zM504.4 779.4h2.4v4.9h-2.4zM515.4 779.4h2.4v4.9h-2.4zM535.2 779.4h2.4v4.9h-2.4zM568.3 779.4h2.4v4.9h-2.4zM315.1 784.1h2.4v4.9h-2.4zM343.7 784.1h2.4v4.9h-2.4zM350.3 784.1h4.6v4.9h-4.6zM381.1 784.1h2.4v4.9h-2.4zM429.6 784.1h2.4v4.9h-2.4zM438.4 784.1h2.4v4.9h-2.4zM522 784.1h2.4v4.9h-2.4zM577.1 784.1h2.4v4.9h-2.4zM603.5 784.1h2.4v4.9h-2.4zM231.4 788.8h2.4v4.9h-2.4zM242.4 788.8h2.4v4.9h-2.4zM246.8 788.8h2.4v4.9h-2.4zM365.7 788.8h2.4v4.9h-2.4zM398.7 788.8h2.4v4.9h-2.4zM504.4 788.8h2.4v4.9h-2.4zM515.4 788.8h2.4v4.9h-2.4zM535.2 788.8h2.4v4.9h-2.4zM566.1 788.8h2.4v4.9h-2.4zM612.3 788.8h2.4v4.9h-2.4zM264.5 793.5h2.4v4.9h-2.4zM378.9 793.5h2.4v4.9h-2.4zM434 793.5h2.4v4.9h-2.4zM493.4 793.5h2.4v4.9h-2.4zM497.8 793.5h2.4v4.9h-2.4zM513.2 793.5h2.4v4.9h-2.4zM262.3 798.2h2.4v4.9h-2.4zM282.1 798.2h2.4v4.9h-2.4zM400.9 798.2h2.4v4.9h-2.4zM423 798.2h2.4v4.9h-2.4zM475.8 798.2h2.4v4.9h-2.4zM548.4 798.2h2.4v4.9h-2.4zM594.7 798.2h2.4v4.9h-2.4zM614.5 798.2h2.4v4.9h-2.4zM220.4 803h2.4v4.9h-2.4zM279.9 803h2.4v4.9h-2.4zM367.9 803h2.4v4.9h-2.4zM403.1 803h2.4v4.9h-2.4zM416.4 803h2.4v4.9h-2.4zM420.8 803h2.4v4.9h-2.4zM458.2 803h2.4v4.9h-2.4zM530.8 803h4.6v4.9h-4.6zM220.4 807.7h2.4v4.9h-2.4zM434 807.7h2.4v4.9h-2.4zM451.6 807.7h2.4v4.9h-2.4zM502.2 807.7h2.4v4.9h-2.4zM544 807.7h2.4v4.9h-2.4zM577.1 807.7h2.4v4.9h-2.4zM202.8 812.4h2.4v4.9h-2.4zM242.4 812.4h2.4v4.9h-2.4zM268.9 812.4h2.4v4.9h-2.4zM297.5 812.4h2.4v4.9h-2.4zM332.7 812.4h2.4v4.9h-2.4zM370.1 812.4h2.4v4.9h-2.4zM453.8 812.4h2.4v4.9h-2.4zM548.4 812.4h2.4v4.9h-2.4zM561.7 812.4h4.6v4.9h-4.6zM304.1 817.1h2.4v4.9h-2.4zM343.7 817.1h2.4v4.9h-2.4zM352.5 817.1h2.4v4.9h-2.4zM471.4 817.1h2.4v4.9h-2.4zM535.2 817.1h2.4v4.9h-2.4zM546.2 817.1h2.4v4.9h-2.4zM605.7 817.1h2.4v4.9h-2.4zM240.2 821.8h2.4v4.9h-2.4zM359.1 821.8h2.4v4.9h-2.4zM456 821.8h2.4v4.9h-2.4zM500 821.8h2.4v4.9h-2.4zM550.6 821.8h2.4v4.9h-2.4zM566.1 821.8h2.4v4.9h-2.4zM607.9 821.8h2.4v4.9h-2.4zM621.1 821.8h2.4v4.9h-2.4zM257.9 826.6h2.4v4.9h-2.4zM350.3 826.6h2.4v4.9h-2.4zM389.9 826.6h2.4v4.9h-2.4zM414.2 826.6h2.4v4.9h-2.4zM471.4 826.6h2.4v4.9h-2.4zM517.6 826.6h2.4v4.9h-2.4zM524.2 826.6h2.4v4.9h-2.4zM621.1 826.6h2.4v4.9h-2.4zM202.8 831.3h2.4v4.9h-2.4zM220.4 831.3h2.4v4.9h-2.4zM268.9 831.3h2.4v4.9h-2.4zM297.5 831.3h2.4v4.9h-2.4zM315.1 831.3h2.4v4.9h-2.4zM354.7 831.3h2.4v4.9h-2.4zM376.7 831.3h2.4v4.9h-2.4zM453.8 831.3h2.4v4.9h-2.4zM491.2 831.3h2.4v4.9h-2.4zM539.6 831.3h2.4v4.9h-2.4z"/><path fill="#00bfff" d="M264.5 604.7h2.4v4.9h-2.4zM462.6 623.6h2.4v4.9h-2.4zM469.2 647.2h2.4v4.9h-2.4zM467 651.9h2.4v4.9h-2.4zM467 689.7h2.4v4.9h-2.4zM478 708.6h2.4v4.9h-2.4zM473.6 727.4h2.4v4.9h-2.4zM478 732.2h4.6v4.9h-4.6zM185.2 736.9h2.4v4.9h-2.4zM475.8 741.6h2.4v4.9h-2.4zM590.3 741.6h2.4v4.9h-2.4zM323.9 746.3h2.4v4.9h-2.4zM442.8 746.3h2.4v4.9h-2.4zM473.6 746.3h2.4v4.9h-2.4zM202.8 751h2.4v4.9h-2.4zM356.9 751h2.4v4.9h-2.4zM462.6 751h2.4v4.9h-2.4zM572.7 751h2.4v4.9h-2.4zM588.1 751h2.4v4.9h-2.4zM202.8 755.8h2.4v4.9h-2.4zM233.6 755.8h2.4v4.9h-2.4zM273.3 755.8h2.4v4.9h-2.4zM356.9 755.8h2.4v4.9h-2.4zM427.4 755.8h2.4v4.9h-2.4zM462.6 755.8h2.4v4.9h-2.4zM552.9 755.8h2.4v4.9h-2.4zM590.3 755.8h2.4v4.9h-2.4zM271.1 760.5h4.6v4.9h-4.6zM288.7 760.5h2.4v4.9h-2.4zM356.9 760.5h2.4v4.9h-2.4zM500 760.5h2.4v4.9h-2.4zM621.1 760.5h2.4v4.9h-2.4zM205 765.2h2.4v4.9h-2.4zM392.1 765.2h2.4v4.9h-2.4zM447.2 765.2h2.4v4.9h-2.4zM537.4 765.2h2.4v4.9h-2.4zM607.9 765.2h2.4v4.9h-2.4zM621.1 765.2h2.4v4.9h-2.4zM189.6 769.9h2.4v4.9h-2.4zM251.2 769.9h2.4v4.9h-2.4zM442.8 769.9h2.4v4.9h-2.4zM460.4 769.9h2.4v4.9h-2.4zM486.8 769.9h2.4v4.9h-2.4zM537.4 769.9h2.4v4.9h-2.4zM189.6 774.6h2.4v4.9h-2.4zM207.2 774.6h2.4v4.9h-2.4zM211.6 774.6h2.4v4.9h-2.4zM257.9 774.6h2.4v4.9h-2.4zM343.7 774.6h2.4v4.9h-2.4zM370.1 774.6h2.4v4.9h-2.4zM376.7 774.6h2.4v4.9h-2.4zM394.3 774.6h2.4v4.9h-2.4zM502.2 774.6h2.4v4.9h-2.4zM585.9 774.6h2.4v4.9h-2.4zM592.5 774.6h2.4v4.9h-2.4zM207.2 779.4h2.4v4.9h-2.4zM317.3 779.4h2.4v4.9h-2.4zM429.6 779.4h2.4v4.9h-2.4zM451.6 779.4h2.4v4.9h-2.4zM231.4 784.1h2.4v4.9h-2.4zM260.1 784.1h2.4v4.9h-2.4zM367.9 784.1h2.4v4.9h-2.4zM396.5 784.1h2.4v4.9h-2.4zM414.2 784.1h6.8v4.9h-6.8zM464.8 784.1h4.6v4.9h-4.6zM504.4 784.1h2.4v4.9h-2.4zM240.2 788.8h2.4v4.9h-2.4zM315.1 788.8h2.4v4.9h-2.4zM367.9 788.8h2.4v4.9h-2.4zM456 788.8h2.4v4.9h-2.4zM464.8 788.8h2.4v4.9h-2.4zM484.6 788.8h2.4v4.9h-2.4zM506.6 788.8h2.4v4.9h-2.4zM541.8 788.8h2.4v4.9h-2.4zM610.1 788.8h2.4v4.9h-2.4zM211.6 793.5h2.4v4.9h-2.4zM224.8 793.5h2.4v4.9h-2.4zM229.2 793.5h2.4v4.9h-2.4zM279.9 793.5h2.4v4.9h-2.4zM295.3 793.5h2.4v4.9h-2.4zM420.8 793.5h2.4v4.9h-2.4zM484.6 793.5h2.4v4.9h-2.4zM506.6 793.5h2.4v4.9h-2.4zM524.2 793.5h2.4v4.9h-2.4zM207.2 798.2h2.4v4.9h-2.4zM227 798.2h2.4v4.9h-2.4zM279.9 798.2h2.4v4.9h-2.4zM295.3 798.2h2.4v4.9h-2.4zM312.9 798.2h2.4v4.9h-2.4zM385.5 798.2h2.4v4.9h-2.4zM495.6 798.2h2.4v4.9h-2.4zM599.1 798.2h2.4v4.9h-2.4zM227 803h2.4v4.9h-2.4zM308.5 803h2.4v4.9h-2.4zM363.5 803h4.6v4.9h-4.6zM473.6 803h2.4v4.9h-2.4zM535.2 803h2.4v4.9h-2.4zM544 803h2.4v4.9h-2.4zM191.8 807.7h2.4v4.9h-2.4zM218.2 807.7h2.4v4.9h-2.4zM526.4 807.7h2.4v4.9h-2.4zM533 807.7h2.4v4.9h-2.4zM563.9 807.7h2.4v4.9h-2.4zM189.6 812.4h2.4v4.9h-2.4zM348.1 812.4h2.4v4.9h-2.4zM416.4 812.4h2.4v4.9h-2.4zM451.6 812.4h2.4v4.9h-2.4zM491.2 812.4h2.4v4.9h-2.4zM508.8 812.4h2.4v4.9h-2.4zM513.2 812.4h2.4v4.9h-2.4zM526.4 812.4h2.4v4.9h-2.4zM530.8 812.4h2.4v4.9h-2.4zM577.1 812.4h2.4v4.9h-2.4zM614.5 812.4h2.4v4.9h-2.4zM183 817.1h2.4v4.9h-2.4zM194 817.1h2.4v4.9h-2.4zM328.3 817.1h2.4v4.9h-2.4zM370.1 817.1h2.4v4.9h-2.4zM403.1 817.1h2.4v4.9h-2.4zM431.8 817.1h2.4v4.9h-2.4zM491.2 817.1h2.4v4.9h-2.4zM504.4 817.1h2.4v4.9h-2.4zM614.5 817.1h2.4v4.9h-2.4zM229.2 821.8h2.4v4.9h-2.4zM295.3 821.8h2.4v4.9h-2.4zM312.9 821.8h2.4v4.9h-2.4zM328.3 821.8h2.4v4.9h-2.4zM381.1 821.8h2.4v4.9h-2.4zM414.2 821.8h2.4v4.9h-2.4zM458.2 821.8h2.4v4.9h-2.4zM511 821.8h2.4v4.9h-2.4zM568.3 821.8h2.4v4.9h-2.4zM579.3 821.8h2.4v4.9h-2.4zM588.1 821.8h2.4v4.9h-2.4zM616.7 821.8h2.4v4.9h-2.4zM202.8 826.6h2.4v4.9h-2.4zM216 826.6h4.6v4.9h-4.6zM227 826.6h2.4v4.9h-2.4zM310.7 826.6h2.4v4.9h-2.4zM334.9 826.6h2.4v4.9h-2.4zM440.6 826.6h2.4v4.9h-2.4zM493.4 826.6h2.4v4.9h-2.4zM533 826.6h2.4v4.9h-2.4zM570.5 826.6h2.4v4.9h-2.4zM198.4 831.3h2.4v4.9h-2.4zM242.4 831.3h2.4v4.9h-2.4zM436.2 831.3h2.4v4.9h-2.4zM502.2 831.3h2.4v4.9h-2.4zM508.8 831.3h2.4v4.9h-2.4zM533 831.3h2.4v4.9h-2.4zM541.8 831.3h2.4v4.9h-2.4zM555.1 831.3h2.4v4.9h-2.4z"/><path fill="#0020ff" d="M423 604.7h2.4v4.9h-2.4zM420.8 609.4h4.6v4.9h-4.6zM592.5 609.4h2.4v4.9h-2.4zM332.7 614.2h2.4v4.9h-2.4zM381.1 614.2h2.4v4.9h-2.4zM480.2 614.2h2.4v4.9h-2.4zM484.6 614.2h2.4v4.9h-2.4zM583.7 614.2h2.4v4.9h-2.4zM343.7 618.9h2.4v4.9h-2.4zM548.4 618.9h2.4v4.9h-2.4zM209.4 623.6h2.4v4.9h-2.4zM341.5 623.6h2.4v4.9h-2.4zM480.2 623.6h2.4v4.9h-2.4zM585.9 623.6h4.6v4.9h-4.6zM464.8 642.5h2.4v4.9h-2.4zM471.4 661.4h2.4v4.9h-2.4zM475.8 666.1h2.4v4.9h-2.4zM482.4 670.8h2.4v4.9h-2.4zM464.8 675.5h2.4v4.9h-2.4zM478 675.5h2.4v4.9h-2.4zM464.8 680.2h2.4v4.9h-2.4zM473.6 685h2.4v4.9h-2.4zM482.4 685h2.4v4.9h-2.4zM467 703.8h2.4v4.9h-2.4zM475.8 708.6h2.4v4.9h-2.4zM471.4 718h2.4v4.9h-2.4zM469.2 727.4h2.4v4.9h-2.4zM187.4 736.9h2.4v4.9h-2.4zM341.5 736.9h2.4v4.9h-2.4zM462.6 736.9h2.4v4.9h-2.4zM482.4 736.9h2.4v4.9h-2.4zM319.5 741.6h2.4v4.9h-2.4zM341.5 741.6h2.4v4.9h-2.4zM442.8 741.6h2.4v4.9h-2.4zM471.4 741.6h2.4v4.9h-2.4zM183 746.3h2.4v4.9h-2.4zM319.5 746.3h2.4v4.9h-2.4zM341.5 746.3h2.4v4.9h-2.4zM409.8 746.3h2.4v4.9h-2.4zM414.2 746.3h2.4v4.9h-2.4zM460.4 746.3h2.4v4.9h-2.4zM486.8 746.3h2.4v4.9h-2.4zM570.5 746.3h4.6v4.9h-4.6zM337.1 751h2.4v4.9h-2.4zM392.1 751h2.4v4.9h-2.4zM414.2 751h2.4v4.9h-2.4zM486.8 751h2.4v4.9h-2.4zM605.7 751h2.4v4.9h-2.4zM185.2 755.8h2.4v4.9h-2.4zM238 755.8h2.4v4.9h-2.4zM288.7 755.8h2.4v4.9h-2.4zM359.1 755.8h2.4v4.9h-2.4zM409.8 755.8h2.4v4.9h-2.4zM473.6 755.8h2.4v4.9h-2.4zM618.9 755.8h2.4v4.9h-2.4zM200.6 760.5h2.4v4.9h-2.4zM251.2 760.5h2.4v4.9h-2.4zM442.8 760.5h2.4v4.9h-2.4zM517.6 760.5h2.4v4.9h-2.4zM535.2 760.5h2.4v4.9h-2.4zM570.5 760.5h2.4v4.9h-2.4zM603.5 760.5h2.4v4.9h-2.4zM356.9 765.2h2.4v4.9h-2.4zM370.1 765.2h2.4v4.9h-2.4zM389.9 765.2h2.4v4.9h-2.4zM416.4 765.2h2.4v4.9h-2.4zM464.8 765.2h2.4v4.9h-2.4zM550.6 765.2h2.4v4.9h-2.4zM555.1 765.2h2.4v4.9h-2.4zM570.5 765.2h2.4v4.9h-2.4zM603.5 765.2h2.4v4.9h-2.4zM271.1 769.9h2.4v4.9h-2.4zM389.9 769.9h2.4v4.9h-2.4zM429.6 769.9h2.4v4.9h-2.4zM522 769.9h2.4v4.9h-2.4zM555.1 769.9h2.4v4.9h-2.4zM570.5 769.9h2.4v4.9h-2.4zM574.9 769.9h2.4v4.9h-2.4zM205 774.6h2.4v4.9h-2.4zM273.3 774.6h2.4v4.9h-2.4zM319.5 774.6h2.4v4.9h-2.4zM359.1 774.6h2.4v4.9h-2.4zM427.4 774.6h2.4v4.9h-2.4zM442.8 774.6h2.4v4.9h-2.4zM517.6 774.6h2.4v4.9h-2.4zM550.6 774.6h2.4v4.9h-2.4zM621.1 774.6h2.4v4.9h-2.4zM209.4 779.4h2.4v4.9h-2.4zM306.3 779.4h2.4v4.9h-2.4zM328.3 779.4h2.4v4.9h-2.4zM376.7 779.4h2.4v4.9h-2.4zM407.6 779.4h2.4v4.9h-2.4zM550.6 779.4h2.4v4.9h-2.4zM555.1 779.4h2.4v4.9h-2.4zM583.7 779.4h2.4v4.9h-2.4zM623.3 779.4h2.4v4.9h-2.4zM194 784.1h2.4v4.9h-2.4zM220.4 784.1h2.4v4.9h-2.4zM275.5 784.1h2.4v4.9h-2.4zM348.1 784.1h2.4v4.9h-2.4zM431.8 784.1h2.4v4.9h-2.4zM482.4 784.1h2.4v4.9h-2.4zM539.6 784.1h2.4v4.9h-2.4zM574.9 784.1h2.4v4.9h-2.4zM592.5 784.1h2.4v4.9h-2.4zM260.1 788.8h2.4v4.9h-2.4zM297.5 788.8h2.4v4.9h-2.4zM326.1 788.8h2.4v4.9h-2.4zM403.1 788.8h2.4v4.9h-2.4zM440.6 788.8h2.4v4.9h-2.4zM458.2 788.8h2.4v4.9h-2.4zM473.6 788.8h2.4v4.9h-2.4zM480.2 788.8h2.4v4.9h-2.4zM522 788.8h2.4v4.9h-2.4zM533 788.8h2.4v4.9h-2.4zM557.3 788.8h4.6v4.9h-4.6zM618.9 788.8h2.4v4.9h-2.4zM218.2 793.5h2.4v4.9h-2.4zM277.7 793.5h2.4v4.9h-2.4zM312.9 793.5h2.4v4.9h-2.4zM383.3 793.5h2.4v4.9h-2.4zM416.4 793.5h2.4v4.9h-2.4zM508.8 793.5h2.4v4.9h-2.4zM552.9 793.5h2.4v4.9h-2.4zM579.3 793.5h4.6v4.9h-4.6zM220.4 798.2h4.6v4.9h-4.6zM229.2 798.2h2.4v4.9h-2.4zM350.3 798.2h2.4v4.9h-2.4zM378.9 798.2h2.4v4.9h-2.4zM482.4 798.2h2.4v4.9h-2.4zM502.2 798.2h2.4v4.9h-2.4zM506.6 798.2h2.4v4.9h-2.4zM526.4 798.2h2.4v4.9h-2.4zM552.9 798.2h2.4v4.9h-2.4zM577.1 798.2h2.4v4.9h-2.4zM601.3 798.2h2.4v4.9h-2.4zM607.9 798.2h2.4v4.9h-2.4zM378.9 803h2.4v4.9h-2.4zM385.5 803h2.4v4.9h-2.4zM486.8 803h2.4v4.9h-2.4zM524.2 803h2.4v4.9h-2.4zM563.9 803h2.4v4.9h-2.4zM568.3 803h2.4v4.9h-2.4zM211.6 807.7h2.4v4.9h-2.4zM284.3 807.7h2.4v4.9h-2.4zM301.9 807.7h2.4v4.9h-2.4zM312.9 807.7h2.4v4.9h-2.4zM478 807.7h2.4v4.9h-2.4zM513.2 807.7h2.4v4.9h-2.4zM537.4 807.7h2.4v4.9h-2.4zM568.3 807.7h2.4v4.9h-2.4zM585.9 807.7h2.4v4.9h-2.4zM191.8 812.4h2.4v4.9h-2.4zM295.3 812.4h2.4v4.9h-2.4zM352.5 812.4h2.4v4.9h-2.4zM398.7 812.4h2.4v4.9h-2.4zM438.4 812.4h2.4v4.9h-2.4zM486.8 812.4h2.4v4.9h-2.4zM497.8 812.4h2.4v4.9h-2.4zM502.2 812.4h2.4v4.9h-2.4zM528.6 812.4h2.4v4.9h-2.4zM533 812.4h2.4v4.9h-2.4zM200.6 817.1h2.4v4.9h-2.4zM205 817.1h2.4v4.9h-2.4zM229.2 817.1h2.4v4.9h-2.4zM293.1 817.1h2.4v4.9h-2.4zM312.9 817.1h2.4v4.9h-2.4zM367.9 817.1h2.4v4.9h-2.4zM400.9 817.1h2.4v4.9h-2.4zM420.8 817.1h4.6v4.9h-4.6zM533 817.1h2.4v4.9h-2.4zM596.9 817.1h2.4v4.9h-2.4zM185.2 821.8h2.4v4.9h-2.4zM218.2 821.8h2.4v4.9h-2.4zM251.2 821.8h2.4v4.9h-2.4zM257.9 821.8h2.4v4.9h-2.4zM271.1 821.8h2.4v4.9h-2.4zM372.3 821.8h2.4v4.9h-2.4zM389.9 821.8h2.4v4.9h-2.4zM467 821.8h2.4v4.9h-2.4zM489 821.8h2.4v4.9h-2.4zM502.2 821.8h2.4v4.9h-2.4zM189.6 826.6h2.4v4.9h-2.4zM240.2 826.6h2.4v4.9h-2.4zM266.7 826.6h2.4v4.9h-2.4zM275.5 826.6h2.4v4.9h-2.4zM429.6 826.6h2.4v4.9h-2.4zM453.8 826.6h2.4v4.9h-2.4zM502.2 826.6h2.4v4.9h-2.4zM616.7 826.6h2.4v4.9h-2.4zM231.4 831.3h2.4v4.9h-2.4zM253.4 831.3h2.4v4.9h-2.4zM350.3 831.3h2.4v4.9h-2.4zM414.2 831.3h2.4v4.9h-2.4zM429.6 831.3h2.4v4.9h-2.4zM447.2 831.3h2.4v4.9h-2.4zM524.2 831.3h2.4v4.9h-2.4zM579.3 831.3h2.4v4.9h-2.4zM588.1 831.3h2.4v4.9h-2.4z"/><path fill="#0000ff" d="M592.5 604.7h4.6v4.9h-4.6zM266.7 609.4h2.4v4.9h-2.4zM486.8 609.4h2.4v4.9h-2.4zM502.2 609.4h2.4v4.9h-2.4zM213.8 614.2h2.4v4.9h-2.4zM383.3 614.2h2.4v4.9h-2.4zM400.9 614.2h2.4v4.9h-2.4zM478 614.2h2.4v4.9h-2.4zM207.2 618.9h2.4v4.9h-2.4zM334.9 618.9h2.4v4.9h-2.4zM341.5 618.9h2.4v4.9h-2.4zM389.9 618.9h2.4v4.9h-2.4zM458.2 618.9h2.4v4.9h-2.4zM462.6 618.9h4.6v4.9h-4.6zM482.4 618.9h2.4v4.9h-2.4zM218.2 623.6h2.4v4.9h-2.4zM456 623.6h2.4v4.9h-2.4zM467 623.6h2.4v4.9h-2.4zM557.3 623.6h2.4v4.9h-2.4zM469.2 633h2.4v4.9h-2.4zM462.6 656.6h2.4v4.9h-2.4zM480.2 661.4h2.4v4.9h-2.4zM467 666.1h2.4v4.9h-2.4zM478 670.8h2.4v4.9h-2.4zM464.8 685h2.4v4.9h-2.4zM478 689.7h2.4v4.9h-2.4zM469.2 694.4h2.4v4.9h-2.4zM471.4 713.3h2.4v4.9h-2.4zM480.2 713.3h2.4v4.9h-2.4zM473.6 732.2h2.4v4.9h-2.4zM409.8 736.9h2.4v4.9h-2.4zM464.8 736.9h2.4v4.9h-2.4zM198.4 741.6h2.4v4.9h-2.4zM414.2 741.6h2.4v4.9h-2.4zM585.9 741.6h2.4v4.9h-2.4zM359.1 746.3h2.4v4.9h-2.4zM370.1 746.3h2.4v4.9h-2.4zM517.6 746.3h4.6v4.9h-4.6zM585.9 746.3h2.4v4.9h-2.4zM183 751h2.4v4.9h-2.4zM251.2 751h2.4v4.9h-2.4zM359.1 751h2.4v4.9h-2.4zM376.7 751h2.4v4.9h-2.4zM409.8 751h2.4v4.9h-2.4zM427.4 751h2.4v4.9h-2.4zM592.5 751h2.4v4.9h-2.4zM623.3 751h2.4v4.9h-2.4zM213.8 755.8h2.4v4.9h-2.4zM268.9 755.8h2.4v4.9h-2.4zM337.1 755.8h2.4v4.9h-2.4zM376.7 755.8h2.4v4.9h-2.4zM394.3 755.8h2.4v4.9h-2.4zM467 755.8h2.4v4.9h-2.4zM500 755.8h4.6v4.9h-4.6zM539.6 755.8h2.4v4.9h-2.4zM555.1 755.8h2.4v4.9h-2.4zM574.9 755.8h2.4v4.9h-2.4zM592.5 755.8h2.4v4.9h-2.4zM198.4 760.5h2.4v4.9h-2.4zM275.5 760.5h2.4v4.9h-2.4zM376.7 760.5h2.4v4.9h-2.4zM460.4 760.5h2.4v4.9h-2.4zM497.8 760.5h2.4v4.9h-2.4zM555.1 760.5h2.4v4.9h-2.4zM574.9 760.5h2.4v4.9h-2.4zM618.9 760.5h2.4v4.9h-2.4zM275.5 765.2h2.4v4.9h-2.4zM301.9 765.2h4.6v4.9h-4.6zM321.7 765.2h2.4v4.9h-2.4zM326.1 765.2h2.4v4.9h-2.4zM343.7 765.2h2.4v4.9h-2.4zM429.6 765.2h2.4v4.9h-2.4zM445 765.2h2.4v4.9h-2.4zM462.6 765.2h2.4v4.9h-2.4zM517.6 765.2h2.4v4.9h-2.4zM522 765.2h2.4v4.9h-2.4zM535.2 765.2h2.4v4.9h-2.4zM574.9 765.2h2.4v4.9h-2.4zM585.9 765.2h2.4v4.9h-2.4zM187.4 769.9h2.4v4.9h-2.4zM213.8 769.9h2.4v4.9h-2.4zM218.2 769.9h2.4v4.9h-2.4zM275.5 769.9h2.4v4.9h-2.4zM301.9 769.9h2.4v4.9h-2.4zM352.5 769.9h2.4v4.9h-2.4zM372.3 769.9h2.4v4.9h-2.4zM414.2 769.9h2.4v4.9h-2.4zM475.8 769.9h2.4v4.9h-2.4zM535.2 769.9h2.4v4.9h-2.4zM550.6 769.9h2.4v4.9h-2.4zM572.7 769.9h2.4v4.9h-2.4zM588.1 769.9h4.6v4.9h-4.6zM603.5 769.9h2.4v4.9h-2.4zM191.8 774.6h2.4v4.9h-2.4zM198.4 774.6h2.4v4.9h-2.4zM323.9 774.6h2.4v4.9h-2.4zM354.7 774.6h2.4v4.9h-2.4zM392.1 774.6h2.4v4.9h-2.4zM418.6 774.6h2.4v4.9h-2.4zM480.2 774.6h2.4v4.9h-2.4zM504.4 774.6h2.4v4.9h-2.4zM515.4 774.6h2.4v4.9h-2.4zM535.2 774.6h2.4v4.9h-2.4zM552.9 774.6h2.4v4.9h-2.4zM594.7 774.6h2.4v4.9h-2.4zM605.7 774.6h2.4v4.9h-2.4zM231.4 779.4h2.4v4.9h-2.4zM257.9 779.4h2.4v4.9h-2.4zM277.7 779.4h2.4v4.9h-2.4zM425.2 779.4h2.4v4.9h-2.4zM478 779.4h2.4v4.9h-2.4zM557.3 779.4h2.4v4.9h-2.4zM577.1 779.4h2.4v4.9h-2.4zM189.6 784.1h2.4v4.9h-2.4zM238 784.1h2.4v4.9h-2.4zM304.1 784.1h2.4v4.9h-2.4zM389.9 784.1h2.4v4.9h-2.4zM453.8 784.1h4.6v4.9h-4.6zM524.2 784.1h2.4v4.9h-2.4zM548.4 784.1h4.6v4.9h-4.6zM585.9 784.1h2.4v4.9h-2.4zM607.9 784.1h2.4v4.9h-2.4zM207.2 788.8h2.4v4.9h-2.4zM211.6 788.8h2.4v4.9h-2.4zM224.8 788.8h2.4v4.9h-2.4zM279.9 788.8h2.4v4.9h-2.4zM423 788.8h2.4v4.9h-2.4zM599.1 788.8h2.4v4.9h-2.4zM227 793.5h2.4v4.9h-2.4zM231.4 793.5h2.4v4.9h-2.4zM240.2 793.5h2.4v4.9h-2.4zM249 793.5h2.4v4.9h-2.4zM367.9 793.5h2.4v4.9h-2.4zM387.7 793.5h2.4v4.9h-2.4zM405.4 793.5h2.4v4.9h-2.4zM414.2 793.5h2.4v4.9h-2.4zM418.6 793.5h2.4v4.9h-2.4zM515.4 793.5h2.4v4.9h-2.4zM610.1 793.5h2.4v4.9h-2.4zM216 798.2h2.4v4.9h-2.4zM299.7 798.2h2.4v4.9h-2.4zM306.3 798.2h2.4v4.9h-2.4zM363.5 798.2h2.4v4.9h-2.4zM389.9 798.2h2.4v4.9h-2.4zM431.8 798.2h2.4v4.9h-2.4zM467 798.2h2.4v4.9h-2.4zM559.5 798.2h2.4v4.9h-2.4zM574.9 798.2h2.4v4.9h-2.4zM583.7 798.2h2.4v4.9h-2.4zM610.1 798.2h2.4v4.9h-2.4zM229.2 803h2.4v4.9h-2.4zM242.4 803h2.4v4.9h-2.4zM310.7 803h2.4v4.9h-2.4zM350.3 803h2.4v4.9h-2.4zM387.7 803h2.4v4.9h-2.4zM398.7 803h2.4v4.9h-2.4zM438.4 803h2.4v4.9h-2.4zM506.6 803h2.4v4.9h-2.4zM552.9 803h2.4v4.9h-2.4zM577.1 803h2.4v4.9h-2.4zM189.6 807.7h2.4v4.9h-2.4zM328.3 807.7h2.4v4.9h-2.4zM365.7 807.7h2.4v4.9h-2.4zM442.8 807.7h2.4v4.9h-2.4zM484.6 807.7h2.4v4.9h-2.4zM508.8 807.7h2.4v4.9h-2.4zM559.5 807.7h2.4v4.9h-2.4zM194 812.4h2.4v4.9h-2.4zM231.4 812.4h2.4v4.9h-2.4zM249 812.4h2.4v4.9h-2.4zM308.5 812.4h2.4v4.9h-2.4zM427.4 812.4h2.4v4.9h-2.4zM552.9 812.4h2.4v4.9h-2.4zM220.4 817.1h2.4v4.9h-2.4zM224.8 817.1h2.4v4.9h-2.4zM326.1 817.1h2.4v4.9h-2.4zM348.1 817.1h2.4v4.9h-2.4zM363.5 817.1h2.4v4.9h-2.4zM418.6 817.1h2.4v4.9h-2.4zM427.4 817.1h2.4v4.9h-2.4zM502.2 817.1h2.4v4.9h-2.4zM515.4 817.1h2.4v4.9h-2.4zM541.8 817.1h2.4v4.9h-2.4zM568.3 817.1h2.4v4.9h-2.4zM621.1 817.1h2.4v4.9h-2.4zM275.5 821.8h2.4v4.9h-2.4zM293.1 821.8h2.4v4.9h-2.4zM337.1 821.8h2.4v4.9h-2.4zM396.5 821.8h2.4v4.9h-2.4zM403.1 821.8h2.4v4.9h-2.4zM337.1 826.6h2.4v4.9h-2.4zM451.6 826.6h2.4v4.9h-2.4zM464.8 826.6h2.4v4.9h-2.4zM482.4 826.6h2.4v4.9h-2.4zM607.9 826.6h2.4v4.9h-2.4zM185.2 831.3h2.4v4.9h-2.4zM216 831.3h2.4v4.9h-2.4zM249 831.3h2.4v4.9h-2.4zM275.5 831.3h2.4v4.9h-2.4zM310.7 831.3h2.4v4.9h-2.4zM405.4 831.3h2.4v4.9h-2.4zM442.8 831.3h2.4v4.9h-2.4zM471.4 831.3h2.4v4.9h-2.4zM475.8 831.3h2.4v4.9h-2.4zM552.9 831.3h2.4v4.9h-2.4zM557.3 831.3h4.6v4.9h-4.6zM568.3 831.3h2.4v4.9h-2.4zM616.7 831.3h2.4v4.9h-2.4z"/><path fill="#00009f" d="M222.6 609.4h2.4v4.9h-2.4zM262.3 609.4h2.4v4.9h-2.4zM378.9 614.2h2.4v4.9h-2.4zM453.8 614.2h2.4v4.9h-2.4zM345.9 618.9h2.4v4.9h-2.4zM467 618.9h2.4v4.9h-2.4zM550.6 618.9h2.4v4.9h-2.4zM559.5 618.9h2.4v4.9h-2.4zM334.9 623.6h2.4v4.9h-2.4zM403.1 623.6h2.4v4.9h-2.4zM471.4 633h2.4v4.9h-2.4zM482.4 661.4h2.4v4.9h-2.4zM464.8 694.4h2.4v4.9h-2.4zM480.2 703.8h2.4v4.9h-2.4zM407.6 741.6h2.4v4.9h-2.4zM218.2 746.3h2.4v4.9h-2.4zM271.1 746.3h2.4v4.9h-2.4zM334.9 746.3h2.4v4.9h-2.4zM568.3 746.3h2.4v4.9h-2.4zM189.6 751h2.4v4.9h-2.4zM471.4 751h2.4v4.9h-2.4zM497.8 755.8h2.4v4.9h-2.4zM343.7 760.5h2.4v4.9h-2.4zM231.4 765.2h2.4v4.9h-2.4zM469.2 765.2h2.4v4.9h-2.4zM541.8 765.2h2.4v4.9h-2.4zM240.2 769.9h2.4v4.9h-2.4zM356.9 769.9h2.4v4.9h-2.4zM423 769.9h2.4v4.9h-2.4zM515.4 769.9h2.4v4.9h-2.4zM209.4 774.6h2.4v4.9h-2.4zM588.1 774.6h2.4v4.9h-2.4zM205 779.4h2.4v4.9h-2.4zM456 779.4h2.4v4.9h-2.4zM519.8 779.4h2.4v4.9h-2.4zM614.5 779.4h2.4v4.9h-2.4zM187.4 784.1h2.4v4.9h-2.4zM200.6 784.1h2.4v4.9h-2.4zM224.8 784.1h4.6v4.9h-4.6zM257.9 784.1h2.4v4.9h-2.4zM264.5 784.1h6.8v4.9h-6.8zM273.3 784.1h2.4v4.9h-2.4zM282.1 784.1h6.8v4.9h-6.8zM301.9 784.1h2.4v4.9h-2.4zM312.9 784.1h2.4v4.9h-2.4zM334.9 784.1h2.4v4.9h-2.4zM341.5 784.1h2.4v4.9h-2.4zM372.3 784.1h2.4v4.9h-2.4zM376.7 784.1h2.4v4.9h-2.4zM392.1 784.1h2.4v4.9h-2.4zM409.8 784.1h2.4v4.9h-2.4zM434 784.1h2.4v4.9h-2.4zM473.6 784.1h2.4v4.9h-2.4zM493.4 784.1h4.6v4.9h-4.6zM513.2 784.1h2.4v4.9h-2.4zM517.6 784.1h2.4v4.9h-2.4zM528.6 784.1h6.8v4.9h-6.8zM537.4 784.1h2.4v4.9h-2.4zM544 784.1h2.4v4.9h-2.4zM563.9 784.1h2.4v4.9h-2.4zM198.4 788.8h2.4v4.9h-2.4zM205 788.8h2.4v4.9h-2.4zM216 788.8h4.6v4.9h-4.6zM235.8 788.8h4.6v4.9h-4.6zM253.4 788.8h4.6v4.9h-4.6zM268.9 788.8h9v4.9h-9zM282.1 788.8h4.6v4.9h-4.6zM288.7 788.8h4.6v4.9h-4.6zM301.9 788.8h2.4v4.9h-2.4zM312.9 788.8h2.4v4.9h-2.4zM321.7 788.8h2.4v4.9h-2.4zM334.9 788.8h2.4v4.9h-2.4zM354.7 788.8h6.8v4.9h-6.8zM383.3 788.8h2.4v4.9h-2.4zM412 788.8h2.4v4.9h-2.4zM447.2 788.8h4.6v4.9h-4.6zM462.6 788.8h2.4v4.9h-2.4zM500 788.8h4.6v4.9h-4.6zM511 788.8h2.4v4.9h-2.4zM528.6 788.8h2.4v4.9h-2.4zM572.7 788.8h2.4v4.9h-2.4zM603.5 788.8h2.4v4.9h-2.4zM621.1 788.8h2.4v4.9h-2.4zM196.2 793.5h2.4v4.9h-2.4zM205 793.5h2.4v4.9h-2.4zM260.1 793.5h2.4v4.9h-2.4zM284.3 793.5h2.4v4.9h-2.4zM334.9 793.5h2.4v4.9h-2.4zM343.7 793.5h2.4v4.9h-2.4zM354.7 793.5h4.6v4.9h-4.6zM374.5 793.5h2.4v4.9h-2.4zM394.3 793.5h2.4v4.9h-2.4zM478 793.5h2.4v4.9h-2.4zM519.8 793.5h2.4v4.9h-2.4zM528.6 793.5h2.4v4.9h-2.4zM568.3 793.5h4.6v4.9h-4.6zM621.1 793.5h2.4v4.9h-2.4zM238 798.2h2.4v4.9h-2.4zM288.7 798.2h2.4v4.9h-2.4zM293.1 798.2h2.4v4.9h-2.4zM310.7 798.2h2.4v4.9h-2.4zM332.7 798.2h4.6v4.9h-4.6zM387.7 798.2h2.4v4.9h-2.4zM405.4 798.2h2.4v4.9h-2.4zM409.8 798.2h2.4v4.9h-2.4zM414.2 798.2h2.4v4.9h-2.4zM462.6 798.2h2.4v4.9h-2.4zM566.1 798.2h4.6v4.9h-4.6zM185.2 803h4.6v4.9h-4.6zM253.4 803h2.4v4.9h-2.4zM319.5 803h2.4v4.9h-2.4zM359.1 803h2.4v4.9h-2.4zM372.3 803h2.4v4.9h-2.4zM394.3 803h2.4v4.9h-2.4zM429.6 803h4.6v4.9h-4.6zM449.4 803h2.4v4.9h-2.4zM464.8 803h2.4v4.9h-2.4z"/><path fill="#0080ff" d="M484.6 609.4h2.4v4.9h-2.4zM389.9 614.2h2.4v4.9h-2.4zM548.4 614.2h2.4v4.9h-2.4zM462.6 628.3h2.4v4.9h-2.4zM471.4 637.8h2.4v4.9h-2.4zM473.6 651.9h2.4v4.9h-2.4zM464.8 656.6h2.4v4.9h-2.4zM464.8 661.4h4.6v4.9h-4.6zM464.8 666.1h2.4v4.9h-2.4zM473.6 670.8h2.4v4.9h-2.4zM475.8 675.5h2.4v4.9h-2.4zM467 680.2h2.4v4.9h-2.4zM475.8 680.2h2.4v4.9h-2.4zM480.2 680.2h2.4v4.9h-2.4zM473.6 689.7h2.4v4.9h-2.4zM480.2 689.7h2.4v4.9h-2.4zM475.8 699.1h2.4v4.9h-2.4zM469.2 708.6h2.4v4.9h-2.4zM478 722.7h2.4v4.9h-2.4zM471.4 732.2h2.4v4.9h-2.4zM183 736.9h2.4v4.9h-2.4zM200.6 736.9h2.4v4.9h-2.4zM337.1 741.6h2.4v4.9h-2.4zM374.5 741.6h2.4v4.9h-2.4zM480.2 741.6h2.4v4.9h-2.4zM255.6 746.3h2.4v4.9h-2.4zM447.2 746.3h2.4v4.9h-2.4zM354.7 751h2.4v4.9h-2.4zM412 751h2.4v4.9h-2.4zM473.6 751h2.4v4.9h-2.4zM517.6 751h4.6v4.9h-4.6zM218.2 755.8h2.4v4.9h-2.4zM442.8 755.8h2.4v4.9h-2.4zM447.2 755.8h2.4v4.9h-2.4zM478 755.8h2.4v4.9h-2.4zM519.8 755.8h2.4v4.9h-2.4zM570.5 755.8h2.4v4.9h-2.4zM588.1 755.8h2.4v4.9h-2.4zM607.9 755.8h2.4v4.9h-2.4zM623.3 755.8h2.4v4.9h-2.4zM233.6 760.5h2.4v4.9h-2.4zM372.3 760.5h2.4v4.9h-2.4zM414.2 760.5h2.4v4.9h-2.4zM425.2 760.5h2.4v4.9h-2.4zM462.6 760.5h2.4v4.9h-2.4zM475.8 760.5h2.4v4.9h-2.4zM502.2 760.5h2.4v4.9h-2.4zM519.8 760.5h2.4v4.9h-2.4zM552.9 760.5h2.4v4.9h-2.4zM590.3 760.5h2.4v4.9h-2.4zM187.4 765.2h2.4v4.9h-2.4zM213.8 765.2h2.4v4.9h-2.4zM218.2 765.2h2.4v4.9h-2.4zM233.6 765.2h2.4v4.9h-2.4zM238 765.2h2.4v4.9h-2.4zM255.6 765.2h2.4v4.9h-2.4zM271.1 765.2h2.4v4.9h-2.4zM288.7 765.2h2.4v4.9h-2.4zM359.1 765.2h2.4v4.9h-2.4zM372.3 765.2h2.4v4.9h-2.4zM376.7 765.2h2.4v4.9h-2.4zM414.2 765.2h2.4v4.9h-2.4zM425.2 765.2h2.4v4.9h-2.4zM460.4 765.2h2.4v4.9h-2.4zM486.8 765.2h2.4v4.9h-2.4zM552.9 765.2h2.4v4.9h-2.4zM590.3 765.2h2.4v4.9h-2.4zM205 769.9h2.4v4.9h-2.4zM319.5 769.9h2.4v4.9h-2.4zM323.9 769.9h2.4v4.9h-2.4zM394.3 769.9h2.4v4.9h-2.4zM449.4 769.9h2.4v4.9h-2.4zM478 769.9h2.4v4.9h-2.4zM484.6 769.9h2.4v4.9h-2.4zM585.9 769.9h2.4v4.9h-2.4zM621.1 769.9h4.6v4.9h-4.6zM235.8 774.6h2.4v4.9h-2.4zM293.1 774.6h2.4v4.9h-2.4zM304.1 774.6h2.4v4.9h-2.4zM407.6 774.6h2.4v4.9h-2.4zM478 774.6h2.4v4.9h-2.4zM489 774.6h2.4v4.9h-2.4zM574.9 774.6h2.4v4.9h-2.4zM189.6 779.4h4.6v4.9h-4.6zM233.6 779.4h2.4v4.9h-2.4zM304.1 779.4h2.4v4.9h-2.4zM352.5 779.4h2.4v4.9h-2.4zM367.9 779.4h2.4v4.9h-2.4zM416.4 779.4h4.6v4.9h-4.6zM449.4 779.4h2.4v4.9h-2.4zM486.8 779.4h2.4v4.9h-2.4zM522 779.4h2.4v4.9h-2.4zM592.5 779.4h4.6v4.9h-4.6zM196.2 784.1h2.4v4.9h-2.4zM293.1 784.1h2.4v4.9h-2.4zM306.3 784.1h2.4v4.9h-2.4zM328.3 784.1h2.4v4.9h-2.4zM361.3 784.1h2.4v4.9h-2.4zM387.7 784.1h2.4v4.9h-2.4zM423 784.1h2.4v4.9h-2.4zM480.2 784.1h2.4v4.9h-2.4zM515.4 784.1h2.4v4.9h-2.4zM583.7 784.1h2.4v4.9h-2.4zM601.3 784.1h2.4v4.9h-2.4zM306.3 788.8h2.4v4.9h-2.4zM387.7 788.8h2.4v4.9h-2.4zM405.4 788.8h2.4v4.9h-2.4zM418.6 788.8h2.4v4.9h-2.4zM431.8 788.8h2.4v4.9h-2.4zM451.6 788.8h2.4v4.9h-2.4zM482.4 788.8h2.4v4.9h-2.4zM550.6 788.8h2.4v4.9h-2.4zM191.8 793.5h2.4v4.9h-2.4zM209.4 793.5h2.4v4.9h-2.4zM315.1 793.5h2.4v4.9h-2.4zM363.5 793.5h2.4v4.9h-2.4zM431.8 793.5h2.4v4.9h-2.4zM464.8 793.5h2.4v4.9h-2.4zM471.4 793.5h2.4v4.9h-2.4zM482.4 793.5h2.4v4.9h-2.4zM533 793.5h2.4v4.9h-2.4zM544 793.5h2.4v4.9h-2.4zM563.9 793.5h2.4v4.9h-2.4zM577.1 793.5h2.4v4.9h-2.4zM614.5 793.5h2.4v4.9h-2.4zM345.9 798.2h2.4v4.9h-2.4zM398.7 798.2h2.4v4.9h-2.4zM438.4 798.2h2.4v4.9h-2.4zM453.8 798.2h2.4v4.9h-2.4zM513.2 798.2h2.4v4.9h-2.4zM533 798.2h2.4v4.9h-2.4zM563.9 798.2h2.4v4.9h-2.4zM579.3 798.2h4.6v4.9h-4.6zM207.2 803h2.4v4.9h-2.4zM295.3 803h2.4v4.9h-2.4zM312.9 803h2.4v4.9h-2.4zM328.3 803h2.4v4.9h-2.4zM418.6 803h2.4v4.9h-2.4zM484.6 803h2.4v4.9h-2.4zM495.6 803h2.4v4.9h-2.4zM513.2 803h2.4v4.9h-2.4zM546.2 803h2.4v4.9h-2.4zM561.7 803h2.4v4.9h-2.4zM572.7 803h2.4v4.9h-2.4zM612.3 803h2.4v4.9h-2.4zM345.9 807.7h2.4v4.9h-2.4zM456 807.7h2.4v4.9h-2.4zM486.8 807.7h2.4v4.9h-2.4zM561.7 807.7h2.4v4.9h-2.4zM282.1 812.4h2.4v4.9h-2.4zM544 812.4h2.4v4.9h-2.4zM557.3 812.4h2.4v4.9h-2.4zM566.1 812.4h2.4v4.9h-2.4zM240.2 817.1h2.4v4.9h-2.4zM260.1 817.1h2.4v4.9h-2.4zM458.2 817.1h2.4v4.9h-2.4zM489 817.1h2.4v4.9h-2.4zM189.6 821.8h2.4v4.9h-2.4zM194 821.8h2.4v4.9h-2.4zM266.7 821.8h2.4v4.9h-2.4zM341.5 821.8h2.4v4.9h-2.4zM412 821.8h2.4v4.9h-2.4zM449.4 821.8h2.4v4.9h-2.4zM513.2 821.8h2.4v4.9h-2.4zM196.2 826.6h2.4v4.9h-2.4zM383.3 826.6h2.4v4.9h-2.4zM396.5 826.6h2.4v4.9h-2.4zM469.2 826.6h2.4v4.9h-2.4zM511 826.6h2.4v4.9h-2.4zM240.2 831.3h2.4v4.9h-2.4zM304.1 831.3h2.4v4.9h-2.4zM621.1 831.3h2.4v4.9h-2.4z"/><path fill="#009fff" d="M480.2 618.9h2.4v4.9h-2.4zM471.4 642.5h4.6v4.9h-4.6zM471.4 647.2h2.4v4.9h-2.4zM471.4 666.1h2.4v4.9h-2.4zM480.2 666.1h2.4v4.9h-2.4zM480.2 670.8h2.4v4.9h-2.4zM469.2 680.2h2.4v4.9h-2.4zM467 685h2.4v4.9h-2.4zM475.8 685h2.4v4.9h-2.4zM478 703.8h2.4v4.9h-2.4zM478 713.3h2.4v4.9h-2.4zM478 718h2.4v4.9h-2.4zM471.4 727.4h2.4v4.9h-2.4zM480.2 727.4h2.4v4.9h-2.4zM337.1 736.9h2.4v4.9h-2.4zM480.2 736.9h2.4v4.9h-2.4zM202.8 741.6h2.4v4.9h-2.4zM323.9 741.6h2.4v4.9h-2.4zM372.3 741.6h2.4v4.9h-2.4zM412 741.6h2.4v4.9h-2.4zM185.2 746.3h2.4v4.9h-2.4zM200.6 746.3h4.6v4.9h-4.6zM354.7 746.3h2.4v4.9h-2.4zM412 746.3h2.4v4.9h-2.4zM185.2 751h2.4v4.9h-2.4zM255.6 751h2.4v4.9h-2.4zM271.1 751h4.6v4.9h-4.6zM442.8 751h2.4v4.9h-2.4zM570.5 751h2.4v4.9h-2.4zM372.3 755.8h2.4v4.9h-2.4zM425.2 755.8h2.4v4.9h-2.4zM482.4 755.8h2.4v4.9h-2.4zM572.7 755.8h2.4v4.9h-2.4zM187.4 760.5h2.4v4.9h-2.4zM341.5 760.5h2.4v4.9h-2.4zM427.4 760.5h2.4v4.9h-2.4zM447.2 760.5h2.4v4.9h-2.4zM572.7 760.5h2.4v4.9h-2.4zM623.3 760.5h2.4v4.9h-2.4zM257.9 765.2h2.4v4.9h-2.4zM442.8 765.2h2.4v4.9h-2.4zM484.6 765.2h2.4v4.9h-2.4zM500 765.2h4.6v4.9h-4.6zM623.3 765.2h2.4v4.9h-2.4zM198.4 769.9h2.4v4.9h-2.4zM220.4 769.9h2.4v4.9h-2.4zM238 769.9h2.4v4.9h-2.4zM290.9 769.9h2.4v4.9h-2.4zM326.1 769.9h2.4v4.9h-2.4zM359.1 769.9h2.4v4.9h-2.4zM370.1 769.9h2.4v4.9h-2.4zM416.4 769.9h2.4v4.9h-2.4zM427.4 769.9h2.4v4.9h-2.4zM447.2 769.9h2.4v4.9h-2.4zM500 769.9h4.6v4.9h-4.6zM552.9 769.9h2.4v4.9h-2.4zM592.5 769.9h2.4v4.9h-2.4zM607.9 769.9h2.4v4.9h-2.4zM238 774.6h2.4v4.9h-2.4zM260.1 774.6h2.4v4.9h-2.4zM275.5 774.6h2.4v4.9h-2.4zM352.5 774.6h2.4v4.9h-2.4zM416.4 774.6h2.4v4.9h-2.4zM440.6 774.6h2.4v4.9h-2.4zM623.3 774.6h2.4v4.9h-2.4zM196.2 779.4h2.4v4.9h-2.4zM220.4 779.4h2.4v4.9h-2.4zM238 779.4h2.4v4.9h-2.4zM249 779.4h2.4v4.9h-2.4zM275.5 779.4h2.4v4.9h-2.4zM343.7 779.4h2.4v4.9h-2.4zM361.3 779.4h2.4v4.9h-2.4zM414.2 779.4h2.4v4.9h-2.4zM539.6 779.4h2.4v4.9h-2.4zM596.9 779.4h2.4v4.9h-2.4zM603.5 779.4h2.4v4.9h-2.4zM618.9 779.4h2.4v4.9h-2.4zM209.4 784.1h2.4v4.9h-2.4zM277.7 784.1h2.4v4.9h-2.4zM295.3 784.1h2.4v4.9h-2.4zM326.1 784.1h2.4v4.9h-2.4zM345.9 784.1h2.4v4.9h-2.4zM405.4 784.1h2.4v4.9h-2.4zM440.6 784.1h2.4v4.9h-2.4zM458.2 784.1h2.4v4.9h-2.4zM618.9 784.1h2.4v4.9h-2.4zM194 788.8h2.4v4.9h-2.4zM277.7 788.8h2.4v4.9h-2.4zM348.1 788.8h2.4v4.9h-2.4zM396.5 788.8h2.4v4.9h-2.4zM420.8 788.8h2.4v4.9h-2.4zM489 788.8h2.4v4.9h-2.4zM577.1 788.8h2.4v4.9h-2.4zM601.3 788.8h2.4v4.9h-2.4zM207.2 793.5h2.4v4.9h-2.4zM222.6 793.5h2.4v4.9h-2.4zM345.9 793.5h6.8v4.9h-6.8zM403.1 793.5h2.4v4.9h-2.4zM594.7 793.5h6.8v4.9h-6.8zM403.1 798.2h2.4v4.9h-2.4zM420.8 798.2h2.4v4.9h-2.4zM434 798.2h4.6v4.9h-4.6zM484.6 798.2h4.6v4.9h-4.6zM491.2 798.2h2.4v4.9h-2.4zM504.4 798.2h2.4v4.9h-2.4zM524.2 798.2h2.4v4.9h-2.4zM618.9 798.2h2.4v4.9h-2.4zM246.8 803h2.4v4.9h-2.4zM392.1 803h2.4v4.9h-2.4zM434 803h2.4v4.9h-2.4zM440.6 803h2.4v4.9h-2.4zM502.2 803h2.4v4.9h-2.4zM526.4 803h2.4v4.9h-2.4zM550.6 803h2.4v4.9h-2.4zM583.7 803h2.4v4.9h-2.4zM601.3 803h4.6v4.9h-4.6zM233.6 807.7h2.4v4.9h-2.4zM264.5 807.7h2.4v4.9h-2.4zM310.7 807.7h2.4v4.9h-2.4zM530.8 807.7h2.4v4.9h-2.4zM590.3 807.7h2.4v4.9h-2.4zM205 812.4h2.4v4.9h-2.4zM222.6 812.4h4.6v4.9h-4.6zM361.3 812.4h2.4v4.9h-2.4zM381.1 812.4h2.4v4.9h-2.4zM389.9 812.4h2.4v4.9h-2.4zM400.9 812.4h2.4v4.9h-2.4zM436.2 812.4h2.4v4.9h-2.4zM511 812.4h2.4v4.9h-2.4zM559.5 812.4h2.4v4.9h-2.4zM585.9 812.4h2.4v4.9h-2.4zM596.9 812.4h2.4v4.9h-2.4zM607.9 812.4h2.4v4.9h-2.4zM266.7 817.1h2.4v4.9h-2.4zM277.7 817.1h2.4v4.9h-2.4zM334.9 817.1h2.4v4.9h-2.4zM387.7 817.1h2.4v4.9h-2.4zM405.4 817.1h2.4v4.9h-2.4zM440.6 817.1h2.4v4.9h-2.4zM566.1 817.1h2.4v4.9h-2.4zM227 821.8h2.4v4.9h-2.4zM348.1 821.8h2.4v4.9h-2.4zM378.9 821.8h2.4v4.9h-2.4zM440.6 821.8h2.4v4.9h-2.4zM451.6 821.8h2.4v4.9h-2.4zM462.6 821.8h2.4v4.9h-2.4zM605.7 821.8h2.4v4.9h-2.4zM398.7 826.6h2.4v4.9h-2.4zM405.4 826.6h4.6v4.9h-4.6zM504.4 826.6h2.4v4.9h-2.4zM555.1 826.6h2.4v4.9h-2.4zM568.3 826.6h2.4v4.9h-2.4zM286.5 831.3h2.4v4.9h-2.4zM409.8 831.3h4.6v4.9h-4.6zM423 831.3h2.4v4.9h-2.4zM434 831.3h2.4v4.9h-2.4zM464.8 831.3h2.4v4.9h-2.4z"/><path fill="#20ffdf" d="M464.8 623.6h2.4v4.9h-2.4zM253.4 741.6h2.4v4.9h-2.4zM339.3 741.6h2.4v4.9h-2.4zM588.1 746.3h2.4v4.9h-2.4zM253.4 751h2.4v4.9h-2.4zM445 755.8h2.4v4.9h-2.4zM484.6 760.5h2.4v4.9h-2.4zM235.8 765.2h2.4v4.9h-2.4zM605.7 769.9h2.4v4.9h-2.4zM469.2 774.6h2.4v4.9h-2.4zM326.1 779.4h2.4v4.9h-2.4zM469.2 779.4h2.4v4.9h-2.4zM451.6 784.1h2.4v4.9h-2.4zM471.4 784.1h2.4v4.9h-2.4zM222.6 788.8h2.4v4.9h-2.4zM262.3 788.8h2.4v4.9h-2.4zM295.3 788.8h2.4v4.9h-2.4zM328.3 788.8h2.4v4.9h-2.4zM614.5 788.8h2.4v4.9h-2.4zM262.3 793.5h2.4v4.9h-2.4zM438.4 793.5h2.4v4.9h-2.4zM473.6 793.5h2.4v4.9h-2.4zM491.2 793.5h2.4v4.9h-2.4zM194 798.2h2.4v4.9h-2.4zM211.6 798.2h2.4v4.9h-2.4zM264.5 798.2h2.4v4.9h-2.4zM297.5 798.2h2.4v4.9h-2.4zM612.3 798.2h2.4v4.9h-2.4zM224.8 803h2.4v4.9h-2.4zM264.5 803h2.4v4.9h-2.4zM297.5 803h2.4v4.9h-2.4zM436.2 803h2.4v4.9h-2.4zM224.8 807.7h2.4v4.9h-2.4zM231.4 807.7h2.4v4.9h-2.4zM244.6 807.7h2.4v4.9h-2.4zM266.7 807.7h2.4v4.9h-2.4zM282.1 807.7h2.4v4.9h-2.4zM330.5 807.7h2.4v4.9h-2.4zM596.9 807.7h2.4v4.9h-2.4zM196.2 812.4h2.4v4.9h-2.4zM284.3 812.4h2.4v4.9h-2.4zM301.9 812.4h2.4v4.9h-2.4zM330.5 812.4h2.4v4.9h-2.4zM403.1 812.4h2.4v4.9h-2.4zM546.2 812.4h2.4v4.9h-2.4zM590.3 812.4h2.4v4.9h-2.4zM189.6 817.1h2.4v4.9h-2.4zM222.6 817.1h2.4v4.9h-2.4zM332.7 817.1h2.4v4.9h-2.4zM361.3 817.1h2.4v4.9h-2.4zM473.6 817.1h2.4v4.9h-2.4zM511 817.1h2.4v4.9h-2.4zM592.5 817.1h2.4v4.9h-2.4zM202.8 821.8h2.4v4.9h-2.4zM242.4 821.8h2.4v4.9h-2.4zM260.1 821.8h2.4v4.9h-2.4zM277.7 821.8h2.4v4.9h-2.4zM301.9 821.8h2.4v4.9h-2.4zM361.3 821.8h2.4v4.9h-2.4zM370.1 821.8h2.4v4.9h-2.4zM431.8 821.8h2.4v4.9h-2.4zM480.2 821.8h2.4v4.9h-2.4zM548.4 821.8h2.4v4.9h-2.4zM563.9 821.8h2.4v4.9h-2.4zM596.9 821.8h2.4v4.9h-2.4zM271.1 826.6h2.4v4.9h-2.4zM277.7 826.6h2.4v4.9h-2.4zM341.5 826.6h2.4v4.9h-2.4zM412 826.6h2.4v4.9h-2.4zM427.4 826.6h2.4v4.9h-2.4zM473.6 826.6h2.4v4.9h-2.4zM515.4 826.6h2.4v4.9h-2.4zM548.4 826.6h4.6v4.9h-4.6zM599.1 826.6h2.4v4.9h-2.4zM612.3 826.6h2.4v4.9h-2.4zM227 831.3h2.4v4.9h-2.4zM288.7 831.3h2.4v4.9h-2.4zM352.5 831.3h2.4v4.9h-2.4zM389.9 831.3h2.4v4.9h-2.4zM427.4 831.3h2.4v4.9h-2.4zM489 831.3h2.4v4.9h-2.4zM526.4 831.3h2.4v4.9h-2.4zM574.9 831.3h2.4v4.9h-2.4zM583.7 831.3h2.4v4.9h-2.4z"/><path fill="#40ffbf" d="M464.8 628.3h2.4v4.9h-2.4zM464.8 633h2.4v4.9h-2.4zM464.8 637.8h2.4v4.9h-2.4zM480.2 685h2.4v4.9h-2.4zM462.6 741.6h2.4v4.9h-2.4zM484.6 751h2.4v4.9h-2.4zM235.8 760.5h2.4v4.9h-2.4zM480.2 765.2h2.4v4.9h-2.4zM235.8 769.9h2.4v4.9h-2.4zM260.1 779.4h2.4v4.9h-2.4zM596.9 784.1h2.4v4.9h-2.4zM345.9 788.8h2.4v4.9h-2.4zM471.4 788.8h2.4v4.9h-2.4zM596.9 788.8h2.4v4.9h-2.4zM328.3 793.5h2.4v4.9h-2.4zM381.1 793.5h2.4v4.9h-2.4zM381.1 798.2h2.4v4.9h-2.4zM473.6 798.2h2.4v4.9h-2.4zM550.6 798.2h2.4v4.9h-2.4zM616.7 798.2h2.4v4.9h-2.4zM330.5 803h2.4v4.9h-2.4zM348.1 803h2.4v4.9h-2.4zM383.3 803h2.4v4.9h-2.4zM456 803h2.4v4.9h-2.4zM596.9 803h2.4v4.9h-2.4zM607.9 803h2.4v4.9h-2.4zM348.1 807.7h2.4v4.9h-2.4zM363.5 807.7h2.4v4.9h-2.4zM423 807.7h4.6v4.9h-4.6zM458.2 807.7h2.4v4.9h-2.4zM504.4 807.7h2.4v4.9h-2.4zM601.3 807.7h2.4v4.9h-2.4zM607.9 807.7h2.4v4.9h-2.4zM213.8 812.4h2.4v4.9h-2.4zM392.1 812.4h2.4v4.9h-2.4zM495.6 812.4h2.4v4.9h-2.4zM572.7 812.4h2.4v4.9h-2.4zM616.7 812.4h2.4v4.9h-2.4zM227 817.1h2.4v4.9h-2.4zM246.8 817.1h2.4v4.9h-2.4zM262.3 817.1h2.4v4.9h-2.4zM279.9 817.1h2.4v4.9h-2.4zM306.3 817.1h2.4v4.9h-2.4zM310.7 817.1h2.4v4.9h-2.4zM330.5 817.1h2.4v4.9h-2.4zM350.3 817.1h2.4v4.9h-2.4zM381.1 817.1h2.4v4.9h-2.4zM425.2 817.1h2.4v4.9h-2.4zM451.6 817.1h2.4v4.9h-2.4zM526.4 817.1h2.4v4.9h-2.4zM548.4 817.1h2.4v4.9h-2.4zM557.3 817.1h2.4v4.9h-2.4zM563.9 817.1h2.4v4.9h-2.4zM588.1 817.1h2.4v4.9h-2.4zM599.1 817.1h2.4v4.9h-2.4zM200.6 821.8h2.4v4.9h-2.4zM216 821.8h2.4v4.9h-2.4zM264.5 821.8h2.4v4.9h-2.4zM286.5 821.8h2.4v4.9h-2.4zM304.1 821.8h2.4v4.9h-2.4zM504.4 821.8h2.4v4.9h-2.4zM612.3 821.8h2.4v4.9h-2.4zM229.2 826.6h2.4v4.9h-2.4zM242.4 826.6h2.4v4.9h-2.4zM251.2 826.6h2.4v4.9h-2.4zM260.1 826.6h2.4v4.9h-2.4zM297.5 826.6h2.4v4.9h-2.4zM301.9 826.6h4.6v4.9h-4.6zM348.1 826.6h2.4v4.9h-2.4zM359.1 826.6h2.4v4.9h-2.4zM416.4 826.6h2.4v4.9h-2.4zM506.6 826.6h2.4v4.9h-2.4zM605.7 826.6h2.4v4.9h-2.4zM187.4 831.3h2.4v4.9h-2.4zM200.6 831.3h2.4v4.9h-2.4zM218.2 831.3h2.4v4.9h-2.4zM332.7 831.3h2.4v4.9h-2.4zM372.3 831.3h2.4v4.9h-2.4zM396.5 831.3h2.4v4.9h-2.4zM420.8 831.3h2.4v4.9h-2.4zM480.2 831.3h2.4v4.9h-2.4zM550.6 831.3h2.4v4.9h-2.4z"/><path fill="#00dfff" d="M467 628.3h2.4v4.9h-2.4zM473.6 656.6h2.4v4.9h-2.4zM473.6 661.4h2.4v4.9h-2.4zM473.6 666.1h2.4v4.9h-2.4zM471.4 670.8h2.4v4.9h-2.4zM469.2 689.7h2.4v4.9h-2.4zM475.8 694.4h2.4v4.9h-2.4zM471.4 703.8h2.4v4.9h-2.4zM339.3 736.9h2.4v4.9h-2.4zM185.2 741.6h2.4v4.9h-2.4zM200.6 741.6h2.4v4.9h-2.4zM464.8 741.6h2.4v4.9h-2.4zM588.1 741.6h2.4v4.9h-2.4zM253.4 746.3h2.4v4.9h-2.4zM480.2 746.3h2.4v4.9h-2.4zM590.3 746.3h2.4v4.9h-2.4zM321.7 751h4.6v4.9h-4.6zM372.3 751h2.4v4.9h-2.4zM464.8 751h2.4v4.9h-2.4zM253.4 755.8h4.6v4.9h-4.6zM271.1 755.8h2.4v4.9h-2.4zM321.7 755.8h4.6v4.9h-4.6zM392.1 755.8h2.4v4.9h-2.4zM218.2 760.5h2.4v4.9h-2.4zM255.6 760.5h2.4v4.9h-2.4zM323.9 760.5h2.4v4.9h-2.4zM374.5 760.5h2.4v4.9h-2.4zM464.8 760.5h2.4v4.9h-2.4zM537.4 760.5h2.4v4.9h-2.4zM273.3 765.2h2.4v4.9h-2.4zM323.9 765.2h2.4v4.9h-2.4zM341.5 765.2h2.4v4.9h-2.4zM427.4 765.2h2.4v4.9h-2.4zM605.7 765.2h2.4v4.9h-2.4zM376.7 769.9h2.4v4.9h-2.4zM392.1 769.9h2.4v4.9h-2.4zM467 769.9h2.4v4.9h-2.4zM486.8 774.6h2.4v4.9h-2.4zM607.9 774.6h2.4v4.9h-2.4zM440.6 779.4h2.4v4.9h-2.4zM240.2 784.1h2.4v4.9h-2.4zM249 784.1h2.4v4.9h-2.4zM489 784.1h2.4v4.9h-2.4zM594.7 784.1h2.4v4.9h-2.4zM614.5 784.1h2.4v4.9h-2.4zM209.4 788.8h2.4v4.9h-2.4zM363.5 788.8h2.4v4.9h-2.4zM438.4 788.8h2.4v4.9h-2.4zM583.7 788.8h2.4v4.9h-2.4zM242.4 793.5h2.4v4.9h-2.4zM365.7 793.5h2.4v4.9h-2.4zM440.6 793.5h4.6v4.9h-4.6zM548.4 793.5h2.4v4.9h-2.4zM616.7 793.5h2.4v4.9h-2.4zM224.8 798.2h2.4v4.9h-2.4zM242.4 798.2h2.4v4.9h-2.4zM246.8 798.2h2.4v4.9h-2.4zM308.5 798.2h2.4v4.9h-2.4zM328.3 798.2h2.4v4.9h-2.4zM348.1 798.2h2.4v4.9h-2.4zM365.7 798.2h2.4v4.9h-2.4zM418.6 798.2h2.4v4.9h-2.4zM508.8 798.2h2.4v4.9h-2.4zM544 798.2h2.4v4.9h-2.4zM191.8 803h2.4v4.9h-2.4zM211.6 803h2.4v4.9h-2.4zM218.2 803h2.4v4.9h-2.4zM282.1 803h2.4v4.9h-2.4zM423 803h2.4v4.9h-2.4zM508.8 803h2.4v4.9h-2.4zM614.5 803h2.4v4.9h-2.4zM205 807.7h2.4v4.9h-2.4zM227 807.7h2.4v4.9h-2.4zM246.8 807.7h2.4v4.9h-2.4zM367.9 807.7h2.4v4.9h-2.4zM385.5 807.7h2.4v4.9h-2.4zM400.9 807.7h2.4v4.9h-2.4zM511 807.7h2.4v4.9h-2.4zM546.2 807.7h2.4v4.9h-2.4zM244.6 812.4h2.4v4.9h-2.4zM363.5 812.4h2.4v4.9h-2.4zM367.9 812.4h2.4v4.9h-2.4zM423 812.4h2.4v4.9h-2.4zM475.8 812.4h2.4v4.9h-2.4zM504.4 812.4h4.6v4.9h-4.6zM249 817.1h2.4v4.9h-2.4zM414.2 817.1h2.4v4.9h-2.4zM497.8 817.1h2.4v4.9h-2.4zM334.9 821.8h2.4v4.9h-2.4zM350.3 821.8h2.4v4.9h-2.4zM405.4 821.8h2.4v4.9h-2.4zM425.2 821.8h2.4v4.9h-2.4zM491.2 821.8h2.4v4.9h-2.4zM515.4 821.8h2.4v4.9h-2.4zM555.1 821.8h2.4v4.9h-2.4zM592.5 821.8h2.4v4.9h-2.4zM599.1 821.8h2.4v4.9h-2.4zM185.2 826.6h2.4v4.9h-2.4zM220.4 826.6h2.4v4.9h-2.4zM249 826.6h2.4v4.9h-2.4zM264.5 826.6h2.4v4.9h-2.4zM312.9 826.6h2.4v4.9h-2.4zM563.9 826.6h2.4v4.9h-2.4zM277.7 831.3h2.4v4.9h-2.4zM308.5 831.3h2.4v4.9h-2.4zM334.9 831.3h2.4v4.9h-2.4zM341.5 831.3h2.4v4.9h-2.4zM378.9 831.3h2.4v4.9h-2.4zM416.4 831.3h2.4v4.9h-2.4zM440.6 831.3h2.4v4.9h-2.4zM482.4 831.3h2.4v4.9h-2.4zM570.5 831.3h2.4v4.9h-2.4z"/><path fill="#dfff20" d="M467 633h2.4v4.9h-2.4zM471.4 685h2.4v4.9h-2.4zM475.8 736.9h4.6v4.9h-4.6zM486.8 793.5h2.4v4.9h-2.4zM475.8 807.7h2.4v4.9h-2.4zM574.9 807.7h2.4v4.9h-2.4zM616.7 807.7h2.4v4.9h-2.4zM385.5 817.1h2.4v4.9h-2.4zM478 817.1h2.4v4.9h-2.4zM618.9 817.1h2.4v4.9h-2.4zM438.4 821.8h2.4v4.9h-2.4zM478 821.8h2.4v4.9h-2.4zM544 821.8h2.4v4.9h-2.4zM574.9 821.8h2.4v4.9h-2.4zM183 826.6h2.4v4.9h-2.4zM438.4 826.6h2.4v4.9h-2.4zM480.2 826.6h2.4v4.9h-2.4zM526.4 826.6h2.4v4.9h-2.4zM557.3 826.6h2.4v4.9h-2.4zM279.9 831.3h2.4v4.9h-2.4zM284.3 831.3h2.4v4.9h-2.4zM343.7 831.3h2.4v4.9h-2.4zM530.8 831.3h2.4v4.9h-2.4zM605.7 831.3h2.4v4.9h-2.4zM618.9 831.3h2.4v4.9h-2.4z"/><path fill="#ffff00" d="M467 637.8h2.4v4.9h-2.4zM467 642.5h2.4v4.9h-2.4zM469.2 656.6h2.4v4.9h-2.4zM469.2 666.1h2.4v4.9h-2.4zM471.4 680.2h2.4v4.9h-2.4zM471.4 694.4h2.4v4.9h-2.4zM482.4 774.6h2.4v4.9h-2.4zM484.6 784.1h2.4v4.9h-2.4zM574.9 803h2.4v4.9h-2.4zM579.3 803h2.4v4.9h-2.4zM599.1 803h2.4v4.9h-2.4zM535.2 807.7h2.4v4.9h-2.4zM588.1 807.7h2.4v4.9h-2.4zM612.3 812.4h2.4v4.9h-2.4zM618.9 812.4h2.4v4.9h-2.4zM561.7 817.1h2.4v4.9h-2.4zM570.5 817.1h4.6v4.9h-4.6zM222.6 821.8h2.4v4.9h-2.4zM299.7 821.8h2.4v4.9h-2.4zM475.8 821.8h2.4v4.9h-2.4zM581.5 821.8h2.4v4.9h-2.4zM590.3 821.8h2.4v4.9h-2.4zM601.3 821.8h2.4v4.9h-2.4zM618.9 821.8h2.4v4.9h-2.4zM279.9 826.6h2.4v4.9h-2.4zM343.7 826.6h2.4v4.9h-2.4zM420.8 826.6h2.4v4.9h-2.4zM462.6 826.6h2.4v4.9h-2.4zM561.7 826.6h2.4v4.9h-2.4zM458.2 831.3h2.4v4.9h-2.4zM590.3 831.3h2.4v4.9h-2.4zM603.5 831.3h2.4v4.9h-2.4zM612.3 831.3h2.4v4.9h-2.4z"/><path fill="#9fff60" d="M469.2 637.8h2.4v4.9h-2.4zM471.4 699.1h4.6v4.9h-4.6zM475.8 722.7h2.4v4.9h-2.4zM445 751h2.4v4.9h-2.4zM389.9 803h2.4v4.9h-2.4zM489 803h2.4v4.9h-2.4zM504.4 803h2.4v4.9h-2.4zM588.1 803h2.4v4.9h-2.4zM610.1 807.7h2.4v4.9h-2.4zM618.9 807.7h2.4v4.9h-2.4zM266.7 812.4h2.4v4.9h-2.4zM579.3 812.4h2.4v4.9h-2.4zM601.3 812.4h2.4v4.9h-2.4zM242.4 817.1h2.4v4.9h-2.4zM299.7 817.1h2.4v4.9h-2.4zM438.4 817.1h2.4v4.9h-2.4zM508.8 817.1h2.4v4.9h-2.4zM555.1 817.1h2.4v4.9h-2.4zM577.1 817.1h2.4v4.9h-2.4zM612.3 817.1h2.4v4.9h-2.4zM224.8 821.8h2.4v4.9h-2.4zM249 821.8h2.4v4.9h-2.4zM343.7 821.8h2.4v4.9h-2.4zM460.4 821.8h2.4v4.9h-2.4zM530.8 821.8h2.4v4.9h-2.4zM541.8 821.8h2.4v4.9h-2.4zM198.4 826.6h2.4v4.9h-2.4zM284.3 826.6h2.4v4.9h-2.4zM299.7 826.6h2.4v4.9h-2.4zM387.7 826.6h2.4v4.9h-2.4zM467 826.6h2.4v4.9h-2.4zM251.2 831.3h2.4v4.9h-2.4zM460.4 831.3h2.4v4.9h-2.4zM544 831.3h4.6v4.9h-4.6zM614.5 831.3h2.4v4.9h-2.4z"/><path fill="#ff9f00" d="M469.2 642.5h2.4v4.9h-2.4zM473.6 708.6h2.4v4.9h-2.4zM473.6 718h2.4v4.9h-2.4zM480.2 760.5h2.4v4.9h-2.4zM610.1 812.4h2.4v4.9h-2.4zM436.2 817.1h2.4v4.9h-2.4zM198.4 821.8h2.4v4.9h-2.4zM345.9 826.6h2.4v4.9h-2.4zM610.1 826.6h2.4v4.9h-2.4zM585.9 831.3h2.4v4.9h-2.4z"/><path fill="#60ff9f" d="M467 647.2h2.4v4.9h-2.4zM469.2 651.9h2.4v4.9h-2.4zM469.2 675.5h4.6v4.9h-4.6zM482.4 746.3h2.4v4.9h-2.4zM484.6 755.8h2.4v4.9h-2.4zM616.7 788.8h2.4v4.9h-2.4zM453.8 793.5h2.4v4.9h-2.4zM231.4 798.2h2.4v4.9h-2.4zM244.6 803h2.4v4.9h-2.4zM381.1 803h2.4v4.9h-2.4zM475.8 803h2.4v4.9h-2.4zM493.4 803h2.4v4.9h-2.4zM299.7 807.7h2.4v4.9h-2.4zM436.2 807.7h2.4v4.9h-2.4zM493.4 807.7h2.4v4.9h-2.4zM581.5 807.7h2.4v4.9h-2.4zM614.5 807.7h2.4v4.9h-2.4zM227 812.4h2.4v4.9h-2.4zM345.9 812.4h2.4v4.9h-2.4zM425.2 812.4h2.4v4.9h-2.4zM458.2 812.4h2.4v4.9h-2.4zM555.1 812.4h2.4v4.9h-2.4zM588.1 812.4h2.4v4.9h-2.4zM264.5 817.1h2.4v4.9h-2.4zM301.9 817.1h2.4v4.9h-2.4zM383.3 817.1h2.4v4.9h-2.4zM475.8 817.1h2.4v4.9h-2.4zM601.3 817.1h2.4v4.9h-2.4zM383.3 821.8h2.4v4.9h-2.4zM423 821.8h2.4v4.9h-2.4zM570.5 821.8h2.4v4.9h-2.4zM262.3 826.6h2.4v4.9h-2.4zM286.5 826.6h2.4v4.9h-2.4zM352.5 826.6h2.4v4.9h-2.4zM378.9 826.6h2.4v4.9h-2.4zM423 826.6h2.4v4.9h-2.4zM460.4 826.6h2.4v4.9h-2.4zM495.6 826.6h2.4v4.9h-2.4zM583.7 826.6h2.4v4.9h-2.4zM592.5 826.6h2.4v4.9h-2.4zM229.2 831.3h2.4v4.9h-2.4zM306.3 831.3h2.4v4.9h-2.4zM418.6 831.3h2.4v4.9h-2.4zM456 831.3h2.4v4.9h-2.4zM493.4 831.3h2.4v4.9h-2.4z"/><path fill="#00ffff" d="M467 656.6h2.4v4.9h-2.4zM480.2 675.5h2.4v4.9h-2.4zM475.8 689.7h2.4v4.9h-2.4zM473.6 694.4h2.4v4.9h-2.4zM475.8 718h2.4v4.9h-2.4zM321.7 741.6h2.4v4.9h-2.4zM321.7 746.3h2.4v4.9h-2.4zM339.3 746.3h2.4v4.9h-2.4zM356.9 746.3h2.4v4.9h-2.4zM372.3 746.3h4.6v4.9h-4.6zM462.6 746.3h4.6v4.9h-4.6zM339.3 751h2.4v4.9h-2.4zM374.5 751h2.4v4.9h-2.4zM482.4 751h2.4v4.9h-2.4zM590.3 751h2.4v4.9h-2.4zM235.8 755.8h2.4v4.9h-2.4zM374.5 755.8h2.4v4.9h-2.4zM464.8 755.8h2.4v4.9h-2.4zM605.7 755.8h2.4v4.9h-2.4zM621.1 755.8h2.4v4.9h-2.4zM392.1 760.5h2.4v4.9h-2.4zM445 760.5h2.4v4.9h-2.4zM482.4 760.5h2.4v4.9h-2.4zM605.7 760.5h2.4v4.9h-2.4zM467 765.2h2.4v4.9h-2.4zM257.9 769.9h2.4v4.9h-2.4zM220.4 774.6h2.4v4.9h-2.4zM326.1 774.6h2.4v4.9h-2.4zM449.4 774.6h2.4v4.9h-2.4zM293.1 779.4h2.4v4.9h-2.4zM378.9 779.4h2.4v4.9h-2.4zM458.2 779.4h2.4v4.9h-2.4zM489 779.4h2.4v4.9h-2.4zM191.8 784.1h2.4v4.9h-2.4zM222.6 784.1h2.4v4.9h-2.4zM378.9 784.1h2.4v4.9h-2.4zM610.1 784.1h2.4v4.9h-2.4zM616.7 784.1h2.4v4.9h-2.4zM191.8 788.8h2.4v4.9h-2.4zM350.3 788.8h2.4v4.9h-2.4zM381.1 788.8h2.4v4.9h-2.4zM414.2 788.8h4.6v4.9h-4.6zM453.8 788.8h2.4v4.9h-2.4zM467 788.8h2.4v4.9h-2.4zM491.2 788.8h2.4v4.9h-2.4zM594.7 788.8h2.4v4.9h-2.4zM194 793.5h2.4v4.9h-2.4zM246.8 793.5h2.4v4.9h-2.4zM297.5 793.5h2.4v4.9h-2.4zM398.7 793.5h2.4v4.9h-2.4zM456 793.5h2.4v4.9h-2.4zM467 793.5h2.4v4.9h-2.4zM612.3 793.5h2.4v4.9h-2.4zM218.2 798.2h2.4v4.9h-2.4zM383.3 798.2h2.4v4.9h-2.4zM440.6 798.2h4.6v4.9h-4.6zM456 798.2h2.4v4.9h-2.4zM493.4 798.2h2.4v4.9h-2.4zM596.9 798.2h2.4v4.9h-2.4zM194 803h2.4v4.9h-2.4zM299.7 803h2.4v4.9h-2.4zM400.9 803h2.4v4.9h-2.4zM442.8 803h2.4v4.9h-2.4zM453.8 803h2.4v4.9h-2.4zM581.5 803h2.4v4.9h-2.4zM196.2 807.7h2.4v4.9h-2.4zM213.8 807.7h2.4v4.9h-2.4zM350.3 807.7h2.4v4.9h-2.4zM416.4 807.7h2.4v4.9h-2.4zM453.8 807.7h2.4v4.9h-2.4zM495.6 807.7h2.4v4.9h-2.4zM572.7 807.7h2.4v4.9h-2.4zM310.7 812.4h2.4v4.9h-2.4zM434 812.4h2.4v4.9h-2.4zM478 812.4h2.4v4.9h-2.4zM537.4 812.4h2.4v4.9h-2.4zM599.1 812.4h2.4v4.9h-2.4zM202.8 817.1h2.4v4.9h-2.4zM216 817.1h2.4v4.9h-2.4zM268.9 817.1h2.4v4.9h-2.4zM295.3 817.1h2.4v4.9h-2.4zM345.9 817.1h2.4v4.9h-2.4zM398.7 817.1h2.4v4.9h-2.4zM513.2 817.1h2.4v4.9h-2.4zM530.8 817.1h2.4v4.9h-2.4zM579.3 817.1h2.4v4.9h-2.4zM585.9 817.1h2.4v4.9h-2.4zM352.5 821.8h2.4v4.9h-2.4zM398.7 821.8h2.4v4.9h-2.4zM614.5 821.8h2.4v4.9h-2.4zM187.4 826.6h2.4v4.9h-2.4zM268.9 826.6h2.4v4.9h-2.4zM330.5 826.6h2.4v4.9h-2.4zM372.3 826.6h2.4v4.9h-2.4zM456 826.6h2.4v4.9h-2.4zM500 826.6h2.4v4.9h-2.4zM312.9 831.3h2.4v4.9h-2.4zM387.7 831.3h2.4v4.9h-2.4zM407.6 831.3h2.4v4.9h-2.4zM449.4 831.3h2.4v4.9h-2.4zM467 831.3h2.4v4.9h-2.4zM517.6 831.3h2.4v4.9h-2.4zM548.4 831.3h2.4v4.9h-2.4zM592.5 831.3h2.4v4.9h-2.4zM599.1 831.3h2.4v4.9h-2.4z"/><path fill="#ffdf00" d="M469.2 661.4h2.4v4.9h-2.4zM484.6 774.6h2.4v4.9h-2.4zM383.3 807.7h2.4v4.9h-2.4zM594.7 812.4h2.4v4.9h-2.4zM603.5 812.4h2.4v4.9h-2.4zM244.6 817.1h2.4v4.9h-2.4zM434 817.1h2.4v4.9h-2.4zM574.9 817.1h2.4v4.9h-2.4zM603.5 817.1h2.4v4.9h-2.4zM610.1 817.1h2.4v4.9h-2.4zM306.3 821.8h2.4v4.9h-2.4zM561.7 821.8h2.4v4.9h-2.4zM544 826.6h2.4v4.9h-2.4zM572.7 826.6h2.4v4.9h-2.4zM601.3 826.6h2.4v4.9h-2.4zM224.8 831.3h2.4v4.9h-2.4zM610.1 831.3h2.4v4.9h-2.4z"/><path fill="#bfff40" d="M469.2 670.8h2.4v4.9h-2.4zM445 746.3h2.4v4.9h-2.4zM478 751h2.4v4.9h-2.4zM486.8 784.1h2.4v4.9h-2.4zM594.7 807.7h2.4v4.9h-2.4zM603.5 807.7h2.4v4.9h-2.4zM350.3 812.4h2.4v4.9h-2.4zM383.3 812.4h2.4v4.9h-2.4zM198.4 817.1h2.4v4.9h-2.4zM284.3 817.1h2.4v4.9h-2.4zM297.5 817.1h2.4v4.9h-2.4zM460.4 817.1h2.4v4.9h-2.4zM493.4 817.1h2.4v4.9h-2.4zM246.8 821.8h2.4v4.9h-2.4zM262.3 821.8h2.4v4.9h-2.4zM268.9 821.8h2.4v4.9h-2.4zM297.5 821.8h2.4v4.9h-2.4zM310.7 821.8h2.4v4.9h-2.4zM330.5 821.8h2.4v4.9h-2.4zM420.8 821.8h2.4v4.9h-2.4zM473.6 821.8h2.4v4.9h-2.4zM497.8 821.8h2.4v4.9h-2.4zM506.6 821.8h4.6v4.9h-4.6zM557.3 821.8h2.4v4.9h-2.4zM246.8 826.6h2.4v4.9h-2.4zM332.7 826.6h2.4v4.9h-2.4zM385.5 826.6h2.4v4.9h-2.4zM431.8 826.6h2.4v4.9h-2.4zM458.2 826.6h2.4v4.9h-2.4zM478 826.6h2.4v4.9h-2.4zM574.9 826.6h2.4v4.9h-2.4zM590.3 826.6h2.4v4.9h-2.4zM618.9 826.6h2.4v4.9h-2.4zM359.1 831.3h2.4v4.9h-2.4zM431.8 831.3h2.4v4.9h-2.4zM462.6 831.3h2.4v4.9h-2.4zM469.2 831.3h2.4v4.9h-2.4zM500 831.3h2.4v4.9h-2.4zM601.3 831.3h2.4v4.9h-2.4z"/><path fill="#ff6000" d="M471.4 689.7h2.4v4.9h-2.4zM570.5 807.7h2.4v4.9h-2.4zM570.5 812.4h2.4v4.9h-2.4zM196.2 817.1h2.4v4.9h-2.4zM308.5 817.1h2.4v4.9h-2.4zM559.5 817.1h2.4v4.9h-2.4zM495.6 821.8h2.4v4.9h-2.4zM594.7 821.8h2.4v4.9h-2.4zM603.5 821.8h2.4v4.9h-2.4zM224.8 826.6h2.4v4.9h-2.4zM546.2 826.6h2.4v4.9h-2.4zM596.9 826.6h2.4v4.9h-2.4zM497.8 831.3h2.4v4.9h-2.4zM528.6 831.3h2.4v4.9h-2.4z"/><path fill="#ff8000" d="M473.6 703.8h2.4v4.9h-2.4zM473.6 713.3h2.4v4.9h-2.4zM583.7 812.4h2.4v4.9h-2.4zM434 821.8h2.4v4.9h-2.4zM244.6 826.6h2.4v4.9h-2.4zM434 826.6h2.4v4.9h-2.4zM508.8 826.6h2.4v4.9h-2.4zM577.1 826.6h2.4v4.9h-2.4zM581.5 826.6h2.4v4.9h-2.4zM585.9 826.6h2.4v4.9h-2.4zM603.5 826.6h2.4v4.9h-2.4zM572.7 831.3h2.4v4.9h-2.4zM581.5 831.3h2.4v4.9h-2.4z"/><path fill="#80ff80" d="M473.6 722.7h2.4v4.9h-2.4zM484.6 746.3h2.4v4.9h-2.4zM550.6 793.5h2.4v4.9h-2.4zM231.4 803h2.4v4.9h-2.4zM610.1 803h2.4v4.9h-2.4zM618.9 803h2.4v4.9h-2.4zM389.9 807.7h4.6v4.9h-4.6zM592.5 807.7h2.4v4.9h-2.4zM599.1 807.7h2.4v4.9h-2.4zM612.3 807.7h2.4v4.9h-2.4zM246.8 812.4h2.4v4.9h-2.4zM385.5 812.4h2.4v4.9h-2.4zM581.5 812.4h2.4v4.9h-2.4zM592.5 812.4h2.4v4.9h-2.4zM282.1 817.1h2.4v4.9h-2.4zM506.6 817.1h2.4v4.9h-2.4zM528.6 817.1h2.4v4.9h-2.4zM590.3 817.1h2.4v4.9h-2.4zM616.7 817.1h2.4v4.9h-2.4zM220.4 821.8h2.4v4.9h-2.4zM332.7 821.8h2.4v4.9h-2.4zM345.9 821.8h2.4v4.9h-2.4zM387.7 821.8h2.4v4.9h-2.4zM418.6 821.8h2.4v4.9h-2.4zM526.4 821.8h2.4v4.9h-2.4zM546.2 821.8h2.4v4.9h-2.4zM585.9 821.8h2.4v4.9h-2.4zM200.6 826.6h2.4v4.9h-2.4zM449.4 826.6h2.4v4.9h-2.4zM541.8 826.6h2.4v4.9h-2.4zM614.5 826.6h2.4v4.9h-2.4zM222.6 831.3h2.4v4.9h-2.4zM271.1 831.3h2.4v4.9h-2.4zM348.1 831.3h2.4v4.9h-2.4zM495.6 831.3h2.4v4.9h-2.4z"/><path fill="#ff0000" d="M475.8 727.4h2.4v4.9h-2.4zM478 741.6h2.4v4.9h-2.4zM482.4 769.9h2.4v4.9h-2.4zM308.5 821.8h2.4v4.9h-2.4zM306.3 826.6h2.4v4.9h-2.4zM528.6 826.6h2.4v4.9h-2.4z"/><path fill="#ff4000" d="M475.8 732.2h2.4v4.9h-2.4zM491.2 803h2.4v4.9h-2.4zM491.2 807.7h2.4v4.9h-2.4zM282.1 821.8h2.4v4.9h-2.4zM528.6 821.8h2.4v4.9h-2.4zM222.6 826.6h2.4v4.9h-2.4zM282.1 826.6h2.4v4.9h-2.4zM308.5 826.6h2.4v4.9h-2.4zM436.2 826.6h2.4v4.9h-2.4zM559.5 826.6h2.4v4.9h-2.4zM594.7 826.6h2.4v4.9h-2.4zM282.1 831.3h2.4v4.9h-2.4zM345.9 831.3h2.4v4.9h-2.4zM594.7 831.3h2.4v4.9h-2.4z"/><path fill="#df0000" d="M478 746.3h2.4v4.9h-2.4zM583.7 807.7h2.4v4.9h-2.4zM436.2 821.8h2.4v4.9h-2.4zM577.1 831.3h2.4v4.9h-2.4z"/><path fill="#ffbf00" d="M480.2 751h2.4v4.9h-2.4zM482.4 765.2h2.4v4.9h-2.4zM489 793.5h2.4v4.9h-2.4zM570.5 803h2.4v4.9h-2.4zM616.7 803h2.4v4.9h-2.4zM579.3 807.7h2.4v4.9h-2.4zM535.2 812.4h2.4v4.9h-2.4zM574.9 812.4h2.4v4.9h-2.4zM495.6 817.1h2.4v4.9h-2.4zM581.5 817.1h4.6v4.9h-4.6zM183 821.8h2.4v4.9h-2.4zM244.6 821.8h2.4v4.9h-2.4zM279.9 821.8h2.4v4.9h-2.4zM284.3 821.8h2.4v4.9h-2.4zM385.5 821.8h2.4v4.9h-2.4zM572.7 821.8h2.4v4.9h-2.4zM577.1 821.8h2.4v4.9h-2.4zM583.7 821.8h2.4v4.9h-2.4zM418.6 826.6h2.4v4.9h-2.4zM475.8 826.6h2.4v4.9h-2.4zM530.8 826.6h2.4v4.9h-2.4zM596.9 831.3h2.4v4.9h-2.4z"/><path fill="#9f0000" d="M480.2 755.8h2.4v4.9h-2.4zM489 798.2h2.4v4.9h-2.4z"/><path fill="#bf0000" d="M484.6 779.4h2.4v4.9h-2.4zM486.8 788.8h2.4v4.9h-2.4zM493.4 812.4h2.4v4.9h-2.4z"/><path fill="#ff2000" d="M594.7 817.1h2.4v4.9h-2.4zM196.2 821.8h2.4v4.9h-2.4zM559.5 821.8h2.4v4.9h-2.4zM610.1 821.8h2.4v4.9h-2.4zM497.8 826.6h2.4v4.9h-2.4z"/></g>
<rect x="183" y="833.8" width="442.5" height="1.4" fill="#a8a8c8"/>
<line x1="183" y1="659.3" x2="625.5" y2="659.3" stroke="#000" stroke-width="1.1" stroke-dasharray="1.3 4.7"/>
<line x1="183" y1="718.2" x2="625.5" y2="718.2" stroke="#000" stroke-width="1.1" stroke-dasharray="1.3 4.7"/>
<line x1="183" y1="776.8" x2="625.5" y2="776.8" stroke="#000" stroke-width="1.1" stroke-dasharray="1.3 4.7"/>
<line x1="266.3" y1="600" x2="266.3" y2="836" stroke="#000" stroke-width="1.1" stroke-dasharray="1.3 4.7"/>
<line x1="354.4" y1="600" x2="354.4" y2="836" stroke="#000" stroke-width="1.1" stroke-dasharray="1.3 4.7"/>
<line x1="442.5" y1="600" x2="442.5" y2="836" stroke="#000" stroke-width="1.1" stroke-dasharray="1.3 4.7"/>
<line x1="530.6" y1="600" x2="530.6" y2="836" stroke="#000" stroke-width="1.1" stroke-dasharray="1.3 4.7"/>
<rect x="183" y="600" width="442.5" height="236" fill="none" stroke="#000" stroke-width="2.2"/>
<path d="M266.3 600v6M266.3 836v-6M354.4 600v6M354.4 836v-6M442.5 600v6M442.5 836v-6M530.6 600v6M530.6 836v-6M183 659.3h6M625.5 659.3h-6M183 718.2h6M625.5 718.2h-6M183 776.8h6M625.5 776.8h-6" stroke="#000" stroke-width="2.2" fill="none"/>
<text transform="translate(204.10 642.94) scale(1.3852 1)" font-size="28.88" stroke="#fff" stroke-width="0.55" fill="#fff">(b)</text>
<text transform="translate(157.91 671.63) scale(0.9984 1)" font-size="37.32" stroke="#000" stroke-width="0.55" fill="#000">3</text>
<text transform="translate(157.50 731.00) scale(1.0197 1)" font-size="37.29" stroke="#000" stroke-width="0.55" fill="#000">2</text>
<text transform="translate(155.69 790.00) scale(1.0000 1)" font-size="37.83" stroke="#000" stroke-width="0.55" fill="#000">1</text>
<text transform="translate(155.88 843.95) scale(1.0037 1)" font-size="35.49" stroke="#000" stroke-width="0.55" fill="#000">0</text>
<text transform="translate(91.74 798.05) rotate(-90) scale(1.1037 1)" font-size="33.16" stroke="#000" stroke-width="0.55" fill="#000">frequency</text>
<text transform="translate(131.89 759.44) rotate(-90) scale(0.9685 1)" font-size="38.61" stroke="#000" stroke-width="0.55" fill="#000">(kHz)</text>
<text transform="translate(242.14 872.50) scale(0.9041 1)" font-size="36.23" stroke="#000" stroke-width="0.55" fill="#000">1.1</text>
<text transform="translate(327.48 872.14) scale(1.0144 1)" font-size="35.71" stroke="#000" stroke-width="0.55" fill="#000">1.15</text>
<text transform="translate(415.41 872.50) scale(1.0779 1)" font-size="35.71" stroke="#000" stroke-width="0.55" fill="#000">1.2</text>
<text transform="translate(503.91 872.15) scale(1.0569 1)" font-size="35.21" stroke="#000" stroke-width="0.55" fill="#000">1.25</text>
<text transform="translate(596.21 870.63) scale(1.0057 1)" font-size="37.04" stroke="#000" stroke-width="0.55" fill="#000">1.3</text>
<text transform="translate(360.06 895.14) scale(1.0617 1)" font-size="34.12" stroke="#000" stroke-width="0.55" fill="#000">time (s)</text>
<rect x="150.3" y="957" width="240.7" height="407" fill="#cbc8c9"/>
<rect x="150.3" y="1375.4" width="240.7" height="95.6" fill="#cbc8c9"/>
<line x1="88.8" y1="1058.5" x2="791.8" y2="1058.5" stroke="#000" stroke-width="1.3" stroke-dasharray="2 11.3" stroke-dashoffset="-12.9"/>
<line x1="88.8" y1="1160.4" x2="791.8" y2="1160.4" stroke="#000" stroke-width="1.3" stroke-dasharray="2 11.3" stroke-dashoffset="-12.9"/>
<line x1="88.8" y1="1262.5" x2="791.8" y2="1262.5" stroke="#000" stroke-width="1.3" stroke-dasharray="2 11.3" stroke-dashoffset="-12.9"/>
<line x1="188.8" y1="957" x2="188.8" y2="1364" stroke="#000" stroke-width="1.3" stroke-dasharray="2 10.1" stroke-dashoffset="-8.4"/>
<line x1="188.8" y1="1375.4" x2="188.8" y2="1471" stroke="#000" stroke-width="1.3" stroke-dasharray="2 10.1"/>
<line x1="289.3" y1="957" x2="289.3" y2="1364" stroke="#000" stroke-width="1.3" stroke-dasharray="2 10.1" stroke-dashoffset="-8.4"/>
<line x1="289.3" y1="1375.4" x2="289.3" y2="1471" stroke="#000" stroke-width="1.3" stroke-dasharray="2 10.1"/>
<line x1="389.7" y1="957" x2="389.7" y2="1364" stroke="#000" stroke-width="1.3" stroke-dasharray="2 10.1" stroke-dashoffset="-8.4"/>
<line x1="389.7" y1="1375.4" x2="389.7" y2="1471" stroke="#000" stroke-width="1.3" stroke-dasharray="2 10.1"/>
<line x1="490.1" y1="957" x2="490.1" y2="1364" stroke="#000" stroke-width="1.3" stroke-dasharray="2 10.1" stroke-dashoffset="-8.4"/>
<line x1="490.1" y1="1375.4" x2="490.1" y2="1471" stroke="#000" stroke-width="1.3" stroke-dasharray="2 10.1"/>
<line x1="590.6" y1="957" x2="590.6" y2="1364" stroke="#000" stroke-width="1.3" stroke-dasharray="2 10.1" stroke-dashoffset="-8.4"/>
<line x1="590.6" y1="1375.4" x2="590.6" y2="1471" stroke="#000" stroke-width="1.3" stroke-dasharray="2 10.1"/>
<line x1="691" y1="957" x2="691" y2="1364" stroke="#000" stroke-width="1.3" stroke-dasharray="2 10.1" stroke-dashoffset="-8.4"/>
<line x1="691" y1="1375.4" x2="691" y2="1471" stroke="#000" stroke-width="1.3" stroke-dasharray="2 10.1"/>
<line x1="87.7" y1="1423.8" x2="794.3" y2="1423.8" stroke="#000" stroke-width="1.3" stroke-dasharray="2 11.3"/>
<polyline points="89,1293.8 91.5,1294 94,1293.2 96.5,1293.1 99,1293.6 101.6,1294.1 104.1,1293.6 106.6,1293 109.1,1293.1 111.6,1293.4 114.1,1293.8 116.6,1293.4 119.1,1293.2 121.7,1293.3 124.2,1293.4 126.7,1293 129.2,1293.3 131.7,1293.4 134.2,1293.9 136.7,1293.3 139.2,1293.7 141.8,1292.9 144.3,1293.6 146.8,1293.3 149.3,1293 151.8,1293.2 154.3,1293.6 156.8,1293.1 159.3,1293.6 161.8,1293.8 164.4,1293.8 166.9,1293.8 169.4,1292.6 171.9,1293.3 174.4,1292.8 176.9,1293.5 179.4,1293.1 181.9,1293.2 184.5,1293.2 187,1292.8 189.5,1293.1 192,1292.7 194.5,1293.8 197,1292.8 199.5,1293 202,1292.3 204.5,1292.4 207.1,1292.6 209.6,1293.3 212.1,1293.2 214.6,1293 217.1,1292.7 219.6,1293.6 222.1,1292.5 224.6,1292.5 227.2,1293.1 229.7,1292.5 232.2,1292.9 234.7,1293.2 237.2,1292.8 239.7,1293 242.2,1292.8 244.7,1292.5 247.2,1291.5 249.8,1292.3 252.3,1292.7 254.8,1292.1 257.3,1292.5 259.8,1292.8 262.3,1293.2 264.8,1292.1 267.3,1292.5 269.9,1292.7 272.4,1292.9 274.9,1292.1 277.4,1293.4 279.9,1292.3 282.4,1293 284.9,1292.5 287.4,1292.7 290,1293.2 292.5,1292.8 295,1292.6 297.5,1292.1 300,1292.3 302.5,1292 305,1293.3 307.5,1291.9 310,1291.5 312.5,1293.2 315,1293 317.5,1292.4 320,1292.8 322.5,1292.2 325,1292.3 327.5,1292.7 330,1292.7 332.5,1292.3 335,1293.2 337.5,1292.8 340,1292.6 342.5,1292 345,1292.6 347.5,1292.4 350,1292.5 352.5,1292.8 355,1292.3 357.5,1292.6 360,1292.8 362.5,1292.7 365,1293.4 367.5,1291.8 370,1292.5 372.5,1292 375,1292.5 377.5,1293.5 380,1291.9 382.5,1292.4 385,1292.8 387.5,1292.5 390,1292.9 392.5,1291.9 395,1292.9 397.5,1292.1 400,1292 402.5,1292.7 405,1292.7 407.5,1292.2 410,1292.2 412.5,1292.4 415,1292.5 417.5,1292.4 420,1292.1 422.5,1291.6 425,1293 427.5,1292.6 430,1292 432.5,1291.9 435,1292.2 437.5,1292.3 440,1291.7 442.5,1293.1 445,1292.7 447.5,1292.4 450,1292.6 452.5,1292.6 455,1292.9 457.5,1292.6 460,1293 462.5,1293.1 465,1292.4 467.5,1292.3 470,1292.2 472.5,1292.4 475,1292.2 477.5,1292.5 480,1292.6 482.5,1292.7 485,1292 487.5,1292.9 490,1292.4 492.5,1292.5 495,1292.3 497.5,1291.7 500,1292.6 502.5,1291.8 505,1292.9 507.5,1292.5 510,1293.1 512.5,1292.7 515.1,1292.8 517.6,1293 520.1,1292.5 522.6,1293.1 525.1,1292.4 527.6,1292.6 530.1,1292.2 532.6,1292.7 535.1,1292.7 537.6,1292.2 540.1,1291.9 542.6,1292.4 545.2,1292.6 547.7,1292.4 550.2,1292 552.7,1292.1 555.2,1292.3 557.7,1291.4 560.2,1292.2 562.7,1293 565.2,1291.9 567.7,1292.3 570.2,1293.1 572.8,1292.7 575.3,1292.7 577.8,1292.3 580.3,1291.8 582.8,1293.5 585.3,1292.5 587.8,1292.4 590.3,1293 592.8,1292.7 595.3,1292.4 597.8,1291.9 600.3,1292.3 602.9,1292.3 605.4,1292.1 607.9,1292 610.4,1291.9 612.9,1292.3 615.4,1292.1 617.9,1292.5 620.4,1292.7 622.9,1292.4 625.4,1292.3 627.9,1292.9 630.4,1292.5 633,1291.7 635.5,1292 638,1292.3 640.5,1291.9 643,1292.6 645.5,1291.6 648,1291.5 650.5,1292.6 653,1292.5 655.5,1291.6 658,1292.3 660.6,1292.8 663.1,1291.8 665.6,1291.7 668.1,1291.7 670.6,1291.8 673.1,1291.5 675.6,1292 678.1,1291.6 680.6,1292.2 683.1,1293.1 685.6,1291.8 688.1,1292.5 690.7,1292.6 693.2,1291.2 695.7,1292.2 698.2,1292.2 700.7,1292 703.2,1292.5 705.7,1292 708.2,1292.3 710.7,1292 713.2,1292.1 715.7,1291.8 718.2,1293 720.8,1292.1 723.3,1291.7 725.8,1292.9 728.3,1292.7 730.8,1292 733.3,1291.8 735.8,1291.8 738.3,1292.6 740.8,1292 743.3,1291.8 745.8,1292.4 748.4,1292 750.9,1292 753.4,1292.8 755.9,1292.4 758.4,1292.6 760.9,1292.2 763.4,1292.6 765.9,1292 768.4,1292.4 770.9,1292.5 773.4,1291.9 775.9,1291.5 778.5,1292.2 781,1292 783.5,1292.3 786,1291.8 788.5,1292.2 791,1292.4" fill="none" stroke="#ff0000" stroke-width="10.5" stroke-linejoin="round" stroke-linecap="round"/>
<polyline points="89,1330.9 91.5,1330.6 94,1331 96.5,1331.1 99.1,1330.6 101.6,1330.6 104.1,1330.5 106.6,1330.3 109.1,1330.2 111.6,1330.1 114.1,1329.8 116.6,1329.5 119.2,1329.3 121.7,1329.6 124.2,1329.5 126.7,1329.3 129.2,1328.8 131.7,1329 134.2,1328.9 136.8,1328.6 139.3,1328.6 141.8,1328.9 144.3,1328.7 146.8,1328.5 149.3,1328.3 151.8,1328 154.3,1327.9 156.9,1328 159.4,1327.6 161.9,1327.6 164.4,1327.8 166.9,1327.2 169.4,1327.2 171.9,1327.5 174.4,1327.1 177,1327 179.5,1326.7 182,1326.5 184.5,1326.8 187,1326.1 189.5,1326.4 192,1326.2 194.6,1326.1 197.1,1325.7 199.6,1326.1 202.1,1325.9 204.6,1325.7 207.1,1325.6 209.6,1325.2 212.1,1325.4 214.7,1325.3 217.2,1325.1 219.7,1324.5 222.2,1324.8 224.7,1324.8 227.2,1324.4 229.7,1324.5 232.2,1324.6 234.8,1324.3 237.3,1324.4 239.8,1324 242.3,1323.8 244.8,1323.9 247.3,1323.6 249.8,1323.3 252.4,1323.5 254.9,1323.4 257.4,1323.3 259.9,1323 262.4,1322.9 264.9,1323 267.4,1322.7 269.9,1322.6 272.5,1322.6 275,1322.3 277.5,1322.4 280,1322 282.5,1322.2 285,1322.4 287.5,1322 290,1321.7 292.5,1321.4 295,1321.4 297.5,1321.4 300,1321.2 302.5,1321.3 305,1321.2 307.5,1321.2 310,1320.9 312.5,1321 315,1321 317.5,1320.5 320,1320.5 322.5,1320.4 325,1320.3 327.5,1320.4 330,1320.1 332.5,1319.9 335,1319.7 337.5,1319.6 340,1319.7 342.5,1319.7 345,1319.5 347.5,1319.2 350,1319.2 352.5,1319 355,1319.2 357.5,1319 360,1319.1 362.5,1318.9 365,1318.7 367.5,1318.4 370,1318.5 372.5,1318.3 375,1318.1 377.5,1318.1 380,1318.3 382.5,1318 385,1318.1 387.5,1317.8 390,1317.4 392.5,1317.4 395,1317.7 397.5,1317.4 400,1317.2 402.5,1317 405,1317 407.5,1316.9 410,1316.7 412.5,1316.7 415,1316.6 417.5,1316.3 420,1316.3 422.5,1316.1 425,1316 427.5,1315.9 430,1315.8 432.5,1315.7 435,1316 437.5,1315.6 440,1315.6 442.5,1315.3 445,1315.4 447.5,1315.4 450,1315.5 452.5,1315.4 455,1315 457.5,1315.3 460,1315 462.5,1315.1 465,1314.8 467.5,1314.9 470,1314.7 472.5,1314.4 475,1314.6 477.5,1314.4 480,1314.4 482.5,1314.4 485,1314.3 487.5,1314.6 490,1313.9 492.5,1314 495,1313.8 497.5,1314.1 500,1313.8 502.5,1313.7 505,1313.8 507.5,1313.6 510,1313.6 512.5,1313.2 515,1313.4 517.5,1313.4 520,1313.2 522.5,1313.4 525,1313.1 527.5,1312.9 530,1312.9 532.5,1313 535,1313 537.5,1312.7 540,1312.8 542.5,1312.6 545,1312.4 547.5,1312.3 550,1312.5 552.5,1312.3 555,1312.3 557.5,1312.5 560,1312.3 562.5,1312 565,1312 567.5,1312 570,1311.5 572.5,1311.9 575,1311.6 577.5,1311.8 580,1311.5 582.5,1311.4 585,1311.6 587.5,1311.5 590,1311.6 592.5,1311.1 595,1311.1 597.5,1311.3 600,1311.1 602.5,1310.8 605,1310.9 607.5,1311 610.1,1310.8 612.6,1310.6 615.1,1310.8 617.6,1310.8 620.1,1310.9 622.6,1310.9 625.1,1310.8 627.6,1310.5 630.2,1310.4 632.7,1310.4 635.2,1310.6 637.7,1310.6 640.2,1310.1 642.7,1310.5 645.2,1310.5 647.8,1310.6 650.3,1310.4 652.8,1310.4 655.3,1310.3 657.8,1310.1 660.3,1310.1 662.8,1310.1 665.3,1309.9 667.9,1310 670.4,1310.2 672.9,1309.9 675.4,1310.1 677.9,1309.8 680.4,1309.9 682.9,1309.7 685.4,1310 688,1309.9 690.5,1309.9 693,1309.8 695.5,1309.7 698,1309.8 700.5,1309.6 703,1309.2 705.6,1309.5 708.1,1309.6 710.6,1309.1 713.1,1309.6 715.6,1309.4 718.1,1309.5 720.6,1309.3 723.1,1309.3 725.7,1309.1 728.2,1309.2 730.7,1308.9 733.2,1309.2 735.7,1309 738.2,1308.9 740.7,1308.9 743.2,1308.8 745.8,1308.9 748.3,1308.9 750.8,1308.8 753.3,1309.1 755.8,1308.6 758.3,1308.7 760.8,1308.5 763.4,1308.7 765.9,1308.6 768.4,1308.3 770.9,1308.6 773.4,1308.2 775.9,1308.4 778.4,1308.4 780.9,1308.2 783.5,1308.6 786,1308.4 788.5,1308.1 791,1308.4" fill="none" stroke="#008000" stroke-width="10" stroke-linejoin="round" stroke-linecap="round"/>
<polyline points="89,1246.2 91.1,1245.9 93.2,1248.2 95.3,1247.2 97.3,1247.4 99.4,1247.9 101.5,1247.7 103.6,1247.9 105.7,1248.5 107.7,1248 109.8,1249.3 111.8,1248.9 113.8,1248.2 115.9,1248.5 117.9,1248.8 120,1247.8 122,1248.8 124,1249 126,1249.7 128,1248.5 130,1248.6 132,1248.7 134,1247.2 136,1245.3 138,1246.3 140,1244.2 141.7,1243.8 143.3,1241.7 145,1240.2 146.7,1237.8 148.3,1237 150,1237.7 151.6,1234.9 153.2,1234.9 154.8,1233.5 156.4,1231.4 158,1230.9 159.6,1229.3 161.2,1227 162.8,1226.2 164.4,1226 166,1224.4 167.6,1224.1 169.4,1222.1 171.2,1220 172.9,1219.2 174.7,1217.9 176.5,1218 178.3,1216.9 180.1,1215.2 181.9,1213.9 183.7,1213.6 185.4,1211.5 187.2,1211.3 189,1209.5 190.7,1208.7 192.4,1207.3 194.1,1205.9 195.8,1206.6 197.5,1204.4 199.2,1201.7 200.9,1201.7 202.6,1199.5 204.3,1199.9 206,1198.6 207.8,1196.8 209.6,1195.8 211.4,1194.8 213.2,1193.6 215,1192.5 216.8,1191.5 218.6,1190.9 220.4,1189.8 222.2,1189.4 224,1187.9 226,1186.4 228,1184.5 230,1184.8 232,1183.8 234,1182.7 236,1181.9 238,1180.6 240,1178.6 242,1179.2 244.1,1178.5 246.1,1176.7 248.2,1176.3 250.2,1174.5 252.1,1173.4 254,1172.8 255.8,1173 257.7,1171.9 259.6,1170.5 261.5,1170.7 263.4,1169.5 265.3,1168.7 267.1,1168.3 269,1166 270.9,1165.1 272.7,1165.1 274.6,1165.5 276.4,1164.1 278.2,1162.8 280.1,1161.8 281.9,1161.6 283.7,1159.8 285.6,1157.8 287.4,1158.7 289.5,1159 291.5,1157.3 293.6,1156 295.7,1155.6 297.8,1154.1 299.9,1151.7 301.9,1151.5 304,1152.1 305.8,1151.1 307.5,1150.2 309.3,1148.4 311,1147.6 312.8,1145.3 314.5,1142.8 316.3,1141.6 317.8,1142 319.3,1141.5 320.8,1139.6 322.3,1138.1 323.8,1136.4 325.4,1134.7 326.9,1131.4 328.4,1129.1 329.9,1130.9 331.4,1128.9 332.9,1127 334.5,1126.3 336.2,1125 337.8,1121.1 339.5,1120.1 341.1,1121.2 342.8,1119.8 344.4,1119.4 346.1,1117.1 347.8,1116.9 349.4,1112.1 351.5,1107.5 353.5,1110.3 355.6,1112.7 357.7,1112.1 359.8,1111.3 361.9,1110.5 363.9,1108.8 366,1104.2 368.1,1104.1 370.1,1107 372.2,1106.4 374.2,1105.8 376.3,1104.5 378.4,1104.5 380.4,1098.6 382.5,1097.7 384.6,1100.2 386.6,1101.6 388.7,1100.8 390.8,1100.4 392.8,1099.3 394.9,1097.7 396.9,1094 399,1094 400.9,1095.3 402.7,1095 404.6,1094.2 406.5,1093.8 408.4,1093.1 410.2,1087 412.1,1086.6 414,1089.7 415.9,1090.1 417.7,1089 419.6,1087.5 421.6,1087.9 423.6,1084.2 425.6,1078.3 427.6,1080.5 429.5,1083.2 431.5,1082.5 433.5,1081.6 435.5,1080.2 437.4,1075.7 439.4,1071.8 441.3,1077.7 443.3,1078 445.2,1077.4 447.2,1076.6 449.1,1074.9 451.1,1073.3 453,1071.1 454.9,1070.2 456.9,1070.2 458.8,1071.4 460.8,1070.2 462.7,1070.5 464.7,1069.4 466.6,1069.2 468.6,1066.6 470.5,1060.4 472.5,1062 474.4,1066.4 476.3,1065.2 478.3,1064.3 480.2,1063.8 482.2,1062.3 484.1,1060.3 486.1,1058.5 488,1059.7 490,1062.5 491.9,1060.7 493.8,1060.4 495.8,1059.8 497.7,1059.4 499.7,1056.8 501.6,1056.9 503.6,1058.2 505.5,1057.4 507.5,1057 509.4,1056.3 511.4,1056 513.3,1052.9 515.2,1049.9 517.2,1051 519.1,1054 521,1052.6 523,1052.6 524.9,1052 526.8,1050.6 528.8,1047.9 530.7,1046.8 532.6,1048.2 534.6,1048.7 536.5,1049.5 538.5,1048 540.4,1046.8 542.3,1046.2 544.3,1043.2 546.2,1043.9 548.1,1044.6 550.1,1044.4 552,1045.1 553.9,1043.3 555.8,1041.9 557.8,1037.3 559.7,1035 561.6,1038.1 563.5,1038.6 565.4,1038 567.3,1036.9 569.2,1036.8 571.2,1031.9 573.1,1028.2 575,1031 577.1,1033.7 579.2,1033.7 581.2,1032.7 583.3,1032.2 585.4,1029.7 587.5,1026.2 589.6,1028 591.7,1030.1 593.8,1029.4 595.8,1029.1 597.9,1028.8 600,1027.8 601.9,1024.8 603.9,1020 605.8,1022.9 607.8,1025.8 609.7,1025.3 611.6,1025.4 613.6,1024.1 615.5,1023.6 617.5,1021.4 619.4,1019.2 621.5,1020.2 623.7,1021.4 625.8,1021.5 628,1020.2 630.1,1019.7 632.2,1017.5 634.4,1015.4 636.5,1012 638.4,1014.7 640.3,1016.6 642.2,1017 644.1,1015.4 645.9,1014.3 647.8,1013.3 649.7,1012 651.6,1007.2 653.5,1009.3 655.1,1010.8 656.7,1010.2 658.4,1007.8 660,1007.8 661.6,1004.9 663.2,1005.4 665.1,998.5 667,998.5 668.9,1002 670.8,1001.6 672.6,1000.6 674.5,999.7 676.4,998.7 678.3,994.6 680.2,992.7 682.3,994.2 684.5,996.1 686.6,995.3 688.7,995.6 690.8,995.4 693,992.2 695.1,987.9 697.2,990.4 699.3,993.2 701.5,992 703.6,992.7 705.7,992.6 707.8,991.7 710,987.5 712.1,989.2 714.2,990.5 716.2,991 718.1,991 720.1,991.9 722,992.8 724,989.9 725.7,987.7 727.4,990.4 729,988.7 730.7,988.4 732.4,986.7 734.6,987.2 736.8,988.1 739,987 741.2,985.7 743.4,988.9 744.6,988.1 745.8,986 747,982.8 748.3,981.7 749.5,978 750.7,973.8 751.9,973.5 753.1,979.1 754.3,981.1 755.5,983.9 757.6,981.9 759.8,981.1 761.9,976.3 764,973.6 766,978.9 768.1,983.2 770.1,984.5 771.9,982.5 773.8,982.1 775.6,979 777.4,975.5 779.2,977.8 781,982.1 782.9,981.7 784.7,982.5 785.9,980.8 787.1,979 788.3,975.5 790.1,973.7 792,973.6" fill="none" stroke="#0000ff" stroke-width="10.5" stroke-linejoin="round" stroke-linecap="round"/>
<polyline points="89,1365.9 91.5,1363.9 94.1,1364.8 96.6,1364.4 99.1,1364.1 101.6,1364.3 104.2,1364.3 106.7,1364.5 109.2,1364.8 111.7,1365.2 114.3,1364.7 116.8,1365.3 119.3,1364.9 121.9,1364.6 124.4,1364.4 126.9,1364 129.4,1363.6 132,1364.5 134.5,1364.5 137,1364.8 139.5,1364.8 142.1,1363.8 144.6,1364.1 147.1,1363.9 149.6,1365.2 152.2,1364.5 154.7,1364.6 157.2,1364 159.8,1363.8 162.3,1364.2 164.8,1364.5 167.3,1364.8 169.9,1363.7 172.4,1364.8 174.9,1364 177.4,1364.2 180,1364.4 182.5,1364.3 185,1364.8 187.6,1365.1 190.1,1364.8 192.6,1364.2 195.1,1364.8 197.7,1364.8 200.2,1365.1 202.7,1364.7 205.2,1363.6 207.8,1364.1 210.3,1364.3 212.8,1365.1 215.4,1364.5 217.9,1365.1 220.4,1364.7 222.9,1363.9 225.5,1364.6 228,1364.9 230.5,1364.8 233,1363.7 235.6,1364.8 238.1,1364.2 240.6,1363.3 243.1,1364.2 245.7,1363.4 248.2,1363.8 250.7,1365.4 253.3,1366 255.8,1365.2 258.3,1364.8 260.8,1365.7 263.4,1364.8 265.9,1364 268.4,1363.1 270.9,1365.1 273.5,1363.2 276,1362.9 276.1,1361.6 276.1,1359.5 276.2,1356.4 276.2,1355 276.3,1351.8 276.3,1349.4 276.4,1347 276.4,1343.8 276.5,1341.8 276.6,1340.5 276.6,1336 276.7,1334.1 276.7,1331.8 276.8,1328.6 276.8,1326.3 276.9,1322.8 276.9,1321 277,1318.7 277.1,1316.8 277.1,1314.2 277.2,1310.7 277.2,1307.9 277.3,1307.1 277.3,1304 277.4,1299.8 277.4,1298.2 277.5,1295.3 277.6,1292.9 277.6,1289.7 277.7,1287.9 277.7,1285.3 277.8,1282.9 277.8,1281.2 277.9,1278.1 277.9,1274.7 278,1271.9 278.1,1270 278.1,1268.5 278.2,1265.8 278.2,1262.4 278.3,1260.9 278.3,1257.9 278.4,1254.7 278.4,1252.8 278.5,1249.9 278.9,1246.4 279.2,1244 279.6,1241.4 280,1239.3 282,1240.4 284,1243.6 286.5,1243.5 289,1243.4 291.6,1242.7 294.1,1244.2 296.6,1244.2 299.1,1244.4 301.7,1243.7 304.2,1244.3 306.7,1243.7 309.2,1244 311.7,1243.2 314.3,1243.5 316.8,1243.1 319.3,1242.7 321.8,1243.1 324.3,1242.6 326.9,1242.6 329.4,1243.1 331.9,1242.9 334.4,1244.5 337,1244.3 339.5,1243.9 342,1243.7 344.5,1242.7 347,1243.4 349.6,1242.3 352.1,1242.8 354.6,1242.9 357.1,1242.9 359.7,1243.7 362.2,1242.7 364.7,1244.6 367.2,1242.8 369.7,1243.6 372.3,1242.2 374.8,1243.6 377.3,1242.3 379.8,1243.2 382.3,1243.1 384.9,1243.5 387.4,1243.4 389.9,1243.3 392.4,1242.9 395,1244.2 397.5,1242.7 400,1243 402.5,1242.7 405,1243 407.5,1242.3 410,1242.6 412.5,1243.2 415.1,1242.5 417.6,1243.1 420.1,1242.4 422.6,1243.6 425.1,1242.6 427.6,1243.8 430.1,1243 432.6,1242.6 435.1,1243.2 437.6,1243.3 440.1,1243.5 442.7,1243.4 445.2,1243.1 447.7,1241.8 450.2,1243 452.7,1242.4 455.2,1242.6 457.7,1243.1 460.2,1241.9 462.7,1243.1 465.2,1243.7 467.7,1242.6 470.2,1242.1 472.8,1243 475.3,1242.3 477.8,1242.8 480.3,1242.9 482.8,1241.2 485.3,1242.3 487.8,1241.1 490.3,1241.6 492.8,1242.4 495.3,1241.3 497.8,1241.5 500.4,1241.6 502.9,1242.1 505.4,1242.1 507.9,1242.1 510.4,1241.5 512.9,1241.3 515.4,1242 517.9,1241.2 520.4,1241.2 522.9,1242.1 525.4,1241.2 528,1241.1 530.5,1242.3 533,1241.5 535.5,1240.2 538,1241.1 540.5,1242.7 543,1243.2 545.5,1241.3 548,1241.8 550.5,1241.8 553,1241.6 555.5,1240.2 558.1,1241.9 560.6,1241.4 563.1,1241.1 565.6,1240.2 568.1,1240.8 570.6,1241.1 573.1,1241 575.6,1241.3 578.1,1240.9 580.6,1241.7 583.1,1241.4 585.7,1240.3 588.2,1240.6 590.7,1241.2 593.2,1240.6 595.7,1241.7 598.2,1240.6 600.7,1241 603.2,1241.2 605.7,1240.1 608.2,1241.5 610.7,1240.6 613.3,1240.3 615.8,1240.3 618.3,1239.6 620.8,1239.8 623.3,1241.5 625.8,1240.5 628.3,1240.4 630.8,1240.6 633.3,1240.9 635.8,1240 638.3,1240.3 640.8,1240.6 643.4,1241 645.9,1240.5 648.4,1241.3 650.9,1240.2 653.4,1240.1 655.9,1239.4 658.4,1240.2 660.9,1240.6 663.4,1240 665.9,1240.1 668.4,1239.5 671,1239.8 673.5,1239.8 676,1240 678.5,1240.7 681,1240.3 683.5,1240.5 683.5,1238.2 683.6,1234.7 683.6,1233.3 683.6,1230 683.7,1226.7 683.7,1224.6 683.7,1222.4 683.8,1219 683.8,1218.9 683.8,1214.9 683.9,1213 683.9,1209.2 683.9,1207.5 684,1205.1 684,1202 684,1200.1 684.1,1197.5 684.1,1195.2 684.1,1191.7 684.2,1190.3 684.2,1187.3 684.2,1184.5 684.2,1181.1 684.3,1179.9 684.3,1177.2 684.3,1176.4 684.4,1171.7 684.4,1170.9 684.4,1168.2 684.5,1165.2 684.5,1162.6 684.5,1160.3 684.6,1156.6 684.6,1155.8 684.6,1152.3 684.7,1149.5 684.7,1147.5 684.7,1143.3 684.8,1141.7 684.8,1139.3 684.8,1136.5 684.9,1135.3 684.9,1133.4 684.9,1130 685,1127.3 685,1125.2 685.4,1121.9 685.8,1119.5 686.1,1117 686.5,1113.8 688.2,1116.5 690,1119.5 692.5,1119.5 695,1119.9 697.6,1118.6 700.1,1118.8 702.6,1119.2 705.1,1119.8 707.7,1118.7 710.2,1120.2 712.7,1120.3 715.2,1119 717.8,1120.1 720.3,1118.2 722.8,1119.4 725.4,1118.5 727.9,1120.1 730.4,1120 732.9,1119.8 735.5,1119.1 738,1118.8 740.5,1119.7 743,1119.1 745.5,1119.9 748.1,1118.5 750.6,1119.7 753.1,1119.8 755.6,1118.1 758.2,1118.7 760.7,1119 763.2,1119.1 765.8,1118.4 768.3,1119.5 770.8,1118.8 773.3,1119.4 775.9,1118.3 778.4,1118.7 780.9,1119.9 783.4,1118.4 786,1119.4 788.5,1120.3 791,1119.9" fill="none" stroke="#000" stroke-width="10.5" stroke-linejoin="round" stroke-linecap="round"/>
<polyline points="88.5,1465.5 89.5,1468.1 90.5,1467.1 91.5,1466.3 92.5,1467.6 93.5,1466 94.5,1468.7 95.5,1467.3 96.5,1466.8 97.5,1467.5 98.5,1465.9 99.5,1467.3 100.5,1467.7 101.5,1467.7 102.5,1467.3 103.5,1466 104.5,1467.1 105.5,1465.7 106.5,1467 107.5,1466.3 108.5,1466.2 109.5,1467.5 110.5,1468.5 111.5,1468.1 112.5,1466.6 113.5,1466.5 114.5,1466.1 115.5,1466.4 116.5,1467 117.5,1467.2 118.5,1466.5 119.5,1466.9 120.5,1465.9 121.5,1466.4 122.5,1467.9 123.5,1468 124.5,1467.3 125.5,1466.9 126.5,1467 127.5,1466.3 128.5,1465.9 129.5,1467.3 130.5,1465.9 131.5,1467.2 132.5,1465.9 133.5,1466.8 134.5,1468.2 135.5,1467.3 136.5,1466.7 137.5,1467 138.5,1465.6 139.5,1467.6 140.5,1466.2 141.5,1466.2 142.5,1466.2 143.5,1466.9 144.5,1466.3 145.5,1466.3 146.5,1467.2 147.5,1467 148.5,1467.8 149.5,1467.5 150.5,1467.8 151.5,1465.9 152.5,1466.9 153.5,1467.2 154.5,1467.5 155.5,1466.6 156.5,1467.3 157.5,1467.7 158.5,1466.1 159.5,1466.1 160.5,1466.2 161.5,1467 162.5,1465.9 163.5,1466.8 164.5,1466.4 165.5,1466 166.5,1465.4 167.5,1468.7 168.5,1467.8 169.5,1467.7 170.5,1465.5 171.5,1467.5 172.5,1466.5 173.5,1465.8 174.5,1466.4 175.5,1466.4 176.5,1468.1 177.5,1466.9 178.5,1466.8 179.5,1467.2 180.5,1467.2 181.5,1465.8 182.5,1467.7 183.5,1467 184.5,1467.6 185.5,1468.2 186.5,1466.6 187.5,1468.7 188.5,1466.6 189.5,1466.6 190.5,1465 191.5,1467.9 192.5,1466.7 193.5,1466.4 194.5,1466.4 195.5,1467.3 196.5,1467.7 197.5,1467.4 198.5,1466.6 199.5,1466.3 200.5,1465.3 201.5,1466.3 202.5,1467.2 203.5,1466.5 204.5,1468.4 205.5,1467.6 206.5,1466.6 207.5,1467.2 208.5,1467 209.5,1466.2 210.5,1466.6 211.5,1465.6 212.5,1466.6 213.5,1467.7 214.5,1466.4 215.5,1468.2 216.5,1466.7 217.5,1467.4 218.5,1467.2 219.5,1466.3 220.5,1465.9 221.5,1467.2 222.5,1467.5 223.5,1466.8 224.5,1466.7 225.5,1464.5 226.5,1466.3 227.5,1467.6 228.5,1467.7 229.5,1467.1 230.5,1466.2 231.5,1467.5 232.5,1466.6 233.5,1467.5 234.5,1468 235.5,1466.1 236.5,1466.6 237.5,1467 238.5,1467.1 239.5,1466.9 240.5,1467.5 241.5,1467.6 242.5,1466.4 243.5,1466.7 244.5,1467.7 245.5,1466 246.5,1466.4 247.5,1465.2 248.5,1466.1 249.5,1468.4 250.5,1468.5 251.5,1466.5 252.5,1468.3 253.5,1467.2 254.5,1467.2 255.5,1466.8 256.5,1467.8 257.5,1465.7 258.5,1468 259.5,1467.1 260.5,1466.9 261.5,1465.5 262.5,1468.8 263.5,1467.6 264.5,1467.1 265.5,1467 266.5,1467.7 267.5,1466.5 268.5,1467.1 269.5,1467.5 270.5,1466.3 271.5,1466.4 272.5,1467.8 273.5,1466.2 274.5,1466.2 275.5,1467.3 276.5,1468.5 277.5,1468.4 278.5,1466.1 279.5,1468.6 280.5,1465.8 281.5,1466.6 282.5,1467.2 283.5,1467.6 284.5,1467.5 285.5,1467.3 286.5,1465.4 287.5,1465.6 288.5,1466.9 289.5,1467.3 290.5,1466.9 291.5,1466.4 292.5,1467.1 293.5,1467.7 294.5,1464.5 294.8,1467.4 296.2,1450.5 298,1467.5 299,1467.4 300,1466.4 301,1466.9 302,1466.9 303,1468.5 303.6,1467 305,1445.6 306.8,1467.2 307.8,1467.7 308.8,1467 309.8,1466.4 310.8,1465.6 311.8,1466.3 312.8,1467.5 313.8,1467.5 314.8,1465.3 315.8,1466.5 316.8,1466.9 317.8,1467.5 318.8,1466.5 319.8,1466.6 320.8,1466.8 321.8,1467.2 322.8,1466.9 323.8,1466.2 324.8,1466.6 325.8,1466.9 326.8,1466.4 327.8,1466.7 328.8,1466.7 329.8,1465.6 330.8,1468.3 331.8,1466.8 332.8,1467.5 333.8,1468.4 334.8,1467.1 335.8,1466.2 336.8,1466.8 337.8,1466.2 338.8,1466.6 339.8,1467.4 340.8,1466.3 341.8,1467.3 342.8,1467 343.8,1468.1 344.8,1467.2 345.8,1467.5 346.8,1467.4 347.8,1466.5 348.4,1466.7 349.8,1417.7 351.6,1466.4 352.6,1465.9 353.6,1468.5 354.6,1466 355.6,1467.8 356.6,1466.7 357.6,1466 358.6,1466.9 359.6,1467.5 360.6,1467.6 361.6,1467.7 362.6,1466.8 363.2,1467 364.6,1409.3 366.4,1466.6 367.4,1466.2 368.4,1467.4 369.4,1467.6 370.4,1466.7 371.4,1466.8 372.4,1466.3 373.4,1466.8 374.4,1465.9 375.4,1466.9 375.8,1466.8 377.2,1404.6 379,1466.7 380,1468.5 381,1466.2 382,1467 383,1467.4 384,1466.2 385,1467.5 386,1466.1 387,1467.1 388,1466.9 388.9,1467.4 390.3,1408.8 392.1,1466.1 393.1,1468.1 394.1,1469 394.8,1467.1 397.3,1461 399.8,1466.4 400.8,1466.9 401.8,1465.8 402.8,1467.5 403.7,1466.9 405.1,1405.7 406.9,1466.3 407.9,1468.2 408.9,1466.6 409.9,1468 410.9,1466.5 411.9,1466.5 412.9,1465.8 413.9,1467.1 414.9,1466.7 415.9,1466.1 416.9,1468.2 417.4,1466.7 418.8,1405.2 420.6,1467.6 419.5,1466.9 422,1461 424.5,1466.1 425.5,1465.6 426.5,1467 427.5,1468.2 428.5,1466.6 429.5,1466 430.5,1466.1 431.5,1467.7 432.2,1467.4 433.6,1401.5 435.4,1466.7 436.4,1466 437.4,1465.8 438.4,1467.4 439.4,1465.9 440.4,1466.7 441.4,1466.6 442.4,1468.2 443.4,1465.3 444.4,1465.9 445.4,1466.3 446.4,1467.7 447.4,1466.4 447.9,1467.2 450.4,1461 452.9,1466.5 453.9,1465.2 454.9,1466 455.9,1467.8 456.9,1466.3 457.9,1465.8 458.8,1466.7 460.2,1403.8 462,1466.4 463,1467 464,1466.9 465,1467.5 466,1467.1 467,1468.7 467.5,1466.1 470,1461 472.5,1467.3 473.5,1464.2 474.5,1467.3 475.5,1466.2 475.6,1466.6 477,1400.1 478.8,1466.5 479.8,1467.1 480.8,1466.5 481.8,1467.4 482.8,1466.7 483.8,1467.6 484.8,1468.7 485.8,1467.1 486.8,1467.1 487.8,1466.1 488.7,1466.9 490.1,1401.8 491.9,1466.7 492.2,1466.4 493.6,1431.7 495.4,1466.4 496.4,1468.4 497.4,1465.3 498.4,1465.6 499.4,1465.9 500.4,1466.7 500.5,1466.6 503,1461 505.5,1467 506.5,1467 507.5,1466.8 508.5,1465.9 509.1,1466.5 510.5,1407.9 512.3,1467.2 513.3,1467.7 514.3,1466.5 515.3,1467.2 516.3,1466.1 517.3,1466 517.5,1466.2 520,1461 522.5,1467.2 523.5,1468.4 524.5,1467 525.5,1467.2 526.4,1467.1 527.8,1404.6 529.6,1466.7 530.6,1465.1 531.6,1467.6 532.6,1467.1 533.6,1467.9 534.6,1466.7 535.5,1466.6 538,1461 540.5,1467.7 541.5,1468.3 542.5,1467.3 543.5,1465.7 544.5,1466.2 544.6,1466.5 546,1402.4 547.8,1466.9 548.8,1466.7 549.8,1466.7 550.8,1467.4 551.8,1465.6 552.8,1465.3 553.5,1466.8 556,1461 558.5,1467 559.5,1466.9 560.5,1468.4 561.5,1466.5 562.2,1466.6 563.6,1405.2 565.4,1466.7 566.4,1466 567.4,1467.5 568.4,1467 569.4,1468 570.4,1465.2 571.4,1465.7 571.7,1467.2 573.1,1460 574.9,1467 575.9,1466.6 576.9,1467.1 577.9,1467.5 578.9,1466.2 579.9,1467.8 580.9,1467.3 581.9,1466.8 582.9,1466.6 583.4,1467.3 584.8,1397.5 586.6,1466.8 587.6,1466.3 588.6,1465.8 589.6,1466.4 590.6,1466.9 590.7,1466.4 592.1,1415 593.9,1466.6 594.9,1467.7 595.9,1466.2 596.9,1467.4 597.9,1467.2 598.8,1465.7 600.2,1419.4 602,1467 603,1466.8 604,1465.8 605,1466.5 606,1466.3 607,1466.6 608,1466.4 609,1467.5 609.6,1467 611,1408.3 612.8,1467.2 613.8,1467.8 614.8,1466.2 615.8,1467.1 616.8,1467.3 617.8,1465.8 618.8,1467.9 619.8,1467.1 619.8,1466.8 621.2,1410 623,1467 624,1466.2 625,1467.2 626,1467.7 627,1468 628,1467.1 629,1467 629.5,1466.7 630.9,1419.4 632.7,1465.9 633.7,1466.5 634.7,1466.5 635.7,1467.4 636.7,1466.8 637.7,1466.8 638.2,1467.3 639.6,1415.9 641.4,1466.9 642.4,1467.3 643.4,1465.9 644.4,1466.5 645.4,1466 646.4,1467.5 646.7,1466.7 648.1,1421.7 649.9,1466.6 650.9,1466.6 651.9,1466.4 652.9,1467.8 653.9,1468 654.9,1467.4 655.7,1466.8 657.1,1409.2 658.9,1467.5 659.9,1467.5 660.9,1467.7 661.9,1466.2 662.9,1466.8 663.9,1467.1 664.5,1466.2 665.9,1417.9 667.7,1466.4 668.7,1467.4 669.7,1465.6 670.7,1467.4 671.7,1467.1 672.7,1466.9 673.7,1466.5 673.8,1466.7 675.2,1411.2 677,1467.4 678,1465.6 679,1466.9 680,1467.3 681,1467 682,1466.7 683.4,1417 685.2,1466.6 686.2,1466.8 687.2,1467.6 688.2,1466.8 689.2,1466.5 690.2,1466.2 691.2,1467.7 692.2,1465.9 693.2,1467.1 693.3,1466.8 694.7,1415.9 696.5,1466.7 697.5,1467.5 698.5,1467.9 699.5,1467 700.5,1467.8 701.5,1467 702.4,1466.8 703.8,1421.7 705.6,1466.5 706.6,1466.3 707.6,1468.3 708.6,1467 708.8,1466.1 710.2,1408.6 712,1467.1 713,1467.2 714,1466.2 715,1467.5 716,1466.9 716.1,1465.9 717.5,1408.6 719.3,1466.7 720.3,1466.7 721.3,1467.6 722.3,1467 723.3,1467.1 724,1466.7 725.4,1409.2 727.2,1466.9 728.2,1466.8 729.2,1467.7 730.2,1466.9 731.2,1467.5 731.2,1467 732.6,1411.5 734.4,1467.9 735.4,1466.5 736.4,1467.1 737.4,1465.6 738.4,1466.3 738.8,1467.1 740.2,1407.1 742,1466.4 743,1466.7 744,1466.4 745,1466.4 746,1465.8 747,1466.2 748,1466.4 749,1466.2 750,1464.9 751,1465.6 752,1463.8 753,1466.1 753.4,1464.4 754.8,1376 756.6,1464.9 757.6,1462.5 758.6,1465 759.6,1464.7 760.6,1463.2 760.7,1463.8 762.1,1405.7 763.9,1463.3 764.9,1463.9 765.9,1463.1 766.9,1463.4 767.1,1462.7 768.5,1402.5 770.3,1462.4 771.3,1462.8 772.3,1463 773.3,1465.3 774.3,1462.8 774.4,1464 775.8,1396.9 777.6,1463.1 778.6,1462.3 779.6,1462.9 780.6,1463.5 781.6,1462.4 781.7,1464 783.1,1407.7 784.9,1463.1 785.9,1463.2 786.9,1462.5 787.9,1462.8 788.4,1463.9 789.8,1400.4 791.6,1462.7 792.6,1463.6" fill="none" stroke="#000" stroke-width="2.6" stroke-linejoin="round" stroke-linecap="round"/>
<rect x="88.8" y="957" width="703" height="407" fill="none" stroke="#000" stroke-width="2.2"/>
<path d="M188.8 957v6M188.8 1364v-6M289.3 957v6M289.3 1364v-6M389.7 957v6M389.7 1364v-6M490.1 957v6M490.1 1364v-6M590.6 957v6M590.6 1364v-6M691 957v6M691 1364v-6M88.8 1058.5h6M791.8 1058.5h-6M88.8 1160.4h6M791.8 1160.4h-6M88.8 1262.5h6M791.8 1262.5h-6" stroke="#000" stroke-width="2.2" fill="none"/>
<rect x="87.7" y="1375.4" width="706.6" height="95.6" fill="none" stroke="#000" stroke-width="2.2"/>
<path d="M188.8 1375.4v3M188.8 1471v-3M289.3 1375.4v3M289.3 1471v-3M389.7 1375.4v3M389.7 1471v-3M490.1 1375.4v3M490.1 1471v-3M590.6 1375.4v3M590.6 1471v-3M691 1375.4v3M691 1471v-3M87.7 1423.8h6M794.3 1423.8h-6" stroke="#000" stroke-width="2.2" fill="none"/>
<text transform="translate(585.40 948.23) scale(1.0112 1)" font-size="36.62" stroke="#000" stroke-width="0.55" fill="#000">AUG#33282</text>
<text transform="translate(50.38 981.62) scale(1.0670 1)" font-size="37.89" stroke="#000" stroke-width="0.55" fill="#000">8</text>
<text transform="translate(50.16 1076.92) scale(1.0745 1)" font-size="38.03" stroke="#000" stroke-width="0.55" fill="#000">6</text>
<text transform="translate(51.45 1171.60) scale(0.9651 1)" font-size="38.99" stroke="#000" stroke-width="0.55" fill="#000">4</text>
<text transform="translate(50.11 1266.90) scale(1.0826 1)" font-size="38.57" stroke="#000" stroke-width="0.55" fill="#000">2</text>
<text transform="translate(50.62 1360.91) scale(1.0073 1)" font-size="39.30" stroke="#000" stroke-width="0.55" fill="#000">0</text>
<text transform="translate(103.37 996.33) scale(1.0753 1)" font-size="36.04" stroke="#000" stroke-width="0.55" fill="#000">(c)</text>
<text transform="translate(316.58 1021.88) scale(0.9766 1)" font-size="36.30" font-weight="bold" fill="#0000ff">&lt;</text>
<text transform="translate(335.69 1022.20) scale(1.0241 1)" font-size="39.26" font-weight="bold" fill="#0000ff">n</text>
<text transform="translate(358.57 1031.37) scale(1.2174 1)" font-size="23.27" font-weight="bold" fill="#0000ff">e</text>
<text transform="translate(383.40 1021.88) scale(1.1020 1)" font-size="36.30" font-weight="bold" fill="#0000ff">&gt;</text>
<text transform="translate(416.27 1021.74) scale(0.9499 1)" font-size="36.47" font-weight="bold" fill="#0000ff">(</text>
<text transform="translate(429.52 1021.05) scale(0.9802 1)" font-size="35.35" font-weight="bold" fill="#0000ff">10</text>
<text transform="translate(470.16 997.09) scale(1.2125 1)" font-size="21.13" font-weight="bold" fill="#0000ff">19</text>
<text transform="translate(505.03 1021.40) scale(1.0755 1)" font-size="35.37" font-weight="bold" fill="#0000ff">m</text>
<text transform="translate(539.54 997.10) scale(1.2134 1)" font-size="19.72" font-weight="bold" fill="#0000ff">-3</text>
<text transform="translate(561.90 1021.74) scale(0.9332 1)" font-size="36.47" font-weight="bold" fill="#0000ff">)</text>
<text transform="translate(404.22 1226.00) scale(1.1389 1)" font-size="33.52" font-weight="bold" fill="#000">NBI (MW)</text>
<text transform="translate(569.31 1286.80) scale(1.1514 1)" font-size="33.24" font-weight="bold" fill="#ff0000">ECRH (MW)</text>
<text transform="translate(659.92 1351.40) scale(1.1425 1)" font-size="33.38" font-weight="bold" fill="#008000">Ip (MA)</text>
<text transform="translate(43.19 1429.72) scale(0.9084 1)" font-size="38.31" stroke="#000" stroke-width="0.55" fill="#000">10</text>
<text transform="translate(61.75 1475.23) scale(0.9861 1)" font-size="36.76" stroke="#000" stroke-width="0.55" fill="#000">0</text>
<text transform="translate(26.43 1469.95) rotate(-90) scale(1.0385 1)" font-size="36.04" stroke="#000" stroke-width="0.55" fill="#000">(A.U.)</text>
<text transform="translate(115.57 1415.40) scale(1.0018 1)" font-size="35.75" font-weight="bold" fill="#1a1a1a">divertor shunt</text>
<text transform="translate(115.56 1454.80) scale(1.0098 1)" font-size="35.75" font-weight="bold" fill="#1a1a1a">current</text>
<text transform="translate(69.42 1507.94) scale(1.0182 1)" font-size="36.34" stroke="#000" stroke-width="0.55" fill="#000">0.7</text>
<text transform="translate(156.86 1507.94) scale(1.0567 1)" font-size="36.34" stroke="#000" stroke-width="0.55" fill="#000">0.8</text>
<text transform="translate(257.46 1507.94) scale(1.0607 1)" font-size="36.34" stroke="#000" stroke-width="0.55" fill="#000">0.9</text>
<text transform="translate(371.46 1508.30) scale(1.0000 1)" font-size="37.39" stroke="#000" stroke-width="0.55" fill="#000">1</text>
<text transform="translate(462.85 1508.30) scale(0.9792 1)" font-size="37.39" stroke="#000" stroke-width="0.55" fill="#000">1.1</text>
<text transform="translate(563.76 1508.30) scale(1.0274 1)" font-size="36.86" stroke="#000" stroke-width="0.55" fill="#000">1.2</text>
<text transform="translate(663.78 1507.94) scale(1.0339 1)" font-size="36.34" stroke="#000" stroke-width="0.55" fill="#000">1.3</text>
<text transform="translate(758.14 1508.30) scale(1.0198 1)" font-size="37.39" stroke="#000" stroke-width="0.55" fill="#000">1.4</text>
<rect x="145.5" y="1515" width="240.3" height="235.6" fill="#00008f"/>
<g shape-rendering="crispEdges"><path fill="#0020ff" d="M179.6 1544h2v3.8h-2zM185 1551.2h2v3.8h-2zM197.5 1554.9h2v3.8h-2zM195.7 1558.5h2v3.8h-2zM287.2 1591.1h2v3.8h-2zM150.9 1594.7h2v3.8h-2zM247.7 1594.7h2v3.8h-2zM289 1598.4h2v3.8h-2zM290.8 1605.6h2v3.8h-2zM220.8 1609.2h2v3.8h-2zM287.2 1609.2h3.8v3.8h-3.8zM154.5 1616.5h2v3.8h-2zM222.6 1616.5h2v3.8h-2zM290.8 1616.5h2v3.8h-2zM235.2 1620.1h2v3.8h-2zM154.5 1623.7h2v3.8h-2zM235.2 1627.4h3.8v3.8h-3.8zM265.6 1631h2v3.8h-2zM237 1634.6h2v3.8h-2zM181.4 1641.9h2v3.8h-2zM238.8 1641.9h2v3.8h-2zM159.8 1645.5h2v3.8h-2zM269.2 1645.5h2v3.8h-2zM163.4 1649.1h2v3.8h-2zM185 1649.1h2v3.8h-2zM217.2 1649.1h2v3.8h-2zM271 1649.1h2v3.8h-2zM197.5 1652.7h2v3.8h-2zM271 1652.7h2v3.8h-2zM167 1656.4h2v3.8h-2zM176 1656.4h2v3.8h-2zM265.6 1660h2v3.8h-2zM190.3 1667.2h2v3.8h-2zM202.9 1670.9h2v3.8h-2zM247.7 1670.9h2v3.8h-2zM303.3 1674.5h2v3.8h-2zM220.8 1678.1h2v3.8h-2zM224.4 1681.7h2v3.8h-2zM242.3 1685.4h2v3.8h-2zM262.1 1685.4h2v3.8h-2zM245.9 1689h2v3.8h-2zM258.5 1689h2v3.8h-2zM306.9 1689h2v3.8h-2zM364.3 1689h2v3.8h-2zM274.6 1692.6h2v3.8h-2zM249.5 1696.2h2v3.8h-2zM195.7 1699.9h2v3.8h-2zM229.8 1699.9h2v3.8h-2zM348.1 1699.9h2v3.8h-2zM292.5 1703.5h2v3.8h-2zM349.9 1703.5h2v3.8h-2zM376.8 1703.5h2v3.8h-2zM258.5 1707.1h2v3.8h-2zM348.1 1707.1h3.8v3.8h-3.8zM380.4 1707.1h2v3.8h-2zM183.2 1710.7h2v3.8h-2zM253.1 1710.7h2v3.8h-2zM278.2 1710.7h2v3.8h-2zM285.4 1714.4h2v3.8h-2zM382.2 1714.4h2v3.8h-2zM217.2 1718h2v3.8h-2zM353.5 1718h2v3.8h-2zM181.4 1721.6h2v3.8h-2zM249.5 1721.6h2v3.8h-2zM287.2 1721.6h2v3.8h-2zM362.5 1721.6h2v3.8h-2zM367.9 1721.6h2v3.8h-2zM262.1 1725.2h2v3.8h-2zM344.6 1725.2h2v3.8h-2zM289 1728.9h2v3.8h-2zM303.3 1728.9h2v3.8h-2zM312.3 1728.9h2v3.8h-2zM344.6 1728.9h2v3.8h-2zM251.3 1732.5h2v3.8h-2zM333.8 1732.5h3.8v3.8h-3.8zM341 1732.5h2v3.8h-2zM326.6 1736.1h2v3.8h-2zM333.8 1736.1h2v3.8h-2zM290.8 1739.7h2v3.8h-2zM299.7 1739.7h2v3.8h-2zM323 1739.7h3.8v3.8h-3.8zM341 1739.7h2v3.8h-2zM314.1 1743.4h2v3.8h-2zM319.4 1743.4h2v3.8h-2zM332 1743.4h5.6v3.8h-5.6zM301.5 1747h2v3.8h-2zM305.1 1747h2v3.8h-2zM328.4 1747h2v3.8h-2zM332 1747h2v3.8h-2zM335.6 1747h2v3.8h-2zM339.2 1747h5.6v3.8h-5.6zM346.3 1747h2v3.8h-2z"/><path fill="#0000df" d="M181.4 1544h2v3.8h-2zM186.7 1547.6h2v3.8h-2zM183.2 1551.2h2v3.8h-2zM188.5 1554.9h2v3.8h-2zM199.3 1554.9h2v3.8h-2zM152.7 1594.7h2v3.8h-2zM149.1 1598.4h2v3.8h-2zM220.8 1598.4h2v3.8h-2zM245.9 1598.4h2v3.8h-2zM249.5 1605.6h2v3.8h-2zM224.4 1612.9h2v3.8h-2zM224.4 1616.5h2v3.8h-2zM235.2 1616.5h2v3.8h-2zM159.8 1620.1h2v3.8h-2zM237 1623.7h2v3.8h-2zM167 1631h2v3.8h-2zM238.8 1631h2v3.8h-2zM170.6 1634.6h2v3.8h-2zM265.6 1634.6h2v3.8h-2zM240.5 1638.2h2v3.8h-2zM269.2 1638.2h2v3.8h-2zM158.1 1641.9h2v3.8h-2zM172.4 1641.9h2v3.8h-2zM238.8 1645.5h3.8v3.8h-3.8zM271 1645.5h2v3.8h-2zM161.6 1649.1h2v3.8h-2zM190.3 1649.1h2v3.8h-2zM211.9 1649.1h2v3.8h-2zM269.2 1649.1h2v3.8h-2zM201.1 1652.7h2v3.8h-2zM272.8 1652.7h2v3.8h-2zM220.8 1656.4h3.8v3.8h-3.8zM271 1656.4h2v3.8h-2zM167 1660h2v3.8h-2zM228 1660h2v3.8h-2zM168.8 1663.6h2v3.8h-2zM185 1667.2h5.6v3.8h-5.6zM199.3 1670.9h2v3.8h-2zM265.6 1670.9h2v3.8h-2zM299.7 1670.9h2v3.8h-2zM265.6 1674.5h2v3.8h-2zM215.4 1678.1h2v3.8h-2zM222.6 1678.1h2v3.8h-2zM233.4 1678.1h2v3.8h-2zM237 1681.7h3.8v3.8h-3.8zM226.2 1685.4h2v3.8h-2zM303.3 1685.4h2v3.8h-2zM271 1689h2v3.8h-2zM195.7 1692.6h2v3.8h-2zM276.4 1692.6h2v3.8h-2zM353.5 1692.6h2v3.8h-2zM362.5 1692.6h2v3.8h-2zM289 1696.2h2v3.8h-2zM306.9 1696.2h2v3.8h-2zM353.5 1696.2h2v3.8h-2zM231.6 1699.9h2v3.8h-2zM245.9 1699.9h3.8v3.8h-3.8zM251.3 1699.9h2v3.8h-2zM290.8 1699.9h2v3.8h-2zM349.9 1699.9h2v3.8h-2zM353.5 1699.9h2v3.8h-2zM362.5 1699.9h2v3.8h-2zM197.5 1703.5h2v3.8h-2zM353.5 1703.5h2v3.8h-2zM181.4 1707.1h2v3.8h-2zM219 1707.1h2v3.8h-2zM222.6 1707.1h2v3.8h-2zM249.5 1707.1h2v3.8h-2zM253.1 1707.1h2v3.8h-2zM260.3 1707.1h2v3.8h-2zM267.4 1707.1h2v3.8h-2zM314.1 1707.1h2v3.8h-2zM276.4 1710.7h2v3.8h-2zM283.6 1710.7h2v3.8h-2zM358.9 1710.7h2v3.8h-2zM195.7 1714.4h2v3.8h-2zM296.1 1714.4h2v3.8h-2zM333.8 1714.4h2v3.8h-2zM373.2 1714.4h2v3.8h-2zM376.8 1714.4h2v3.8h-2zM195.7 1718h2v3.8h-2zM229.8 1718h2v3.8h-2zM249.5 1718h2v3.8h-2zM285.4 1718h2v3.8h-2zM297.9 1718h2v3.8h-2zM315.9 1718h2v3.8h-2zM328.4 1718h2v3.8h-2zM337.4 1718h2v3.8h-2zM344.6 1718h2v3.8h-2zM357.1 1718h2v3.8h-2zM366.1 1718h2v3.8h-2zM217.2 1721.6h2v3.8h-2zM297.9 1721.6h2v3.8h-2zM301.5 1721.6h3.8v3.8h-3.8zM308.7 1721.6h2v3.8h-2zM337.4 1721.6h2v3.8h-2zM341 1721.6h2v3.8h-2zM260.3 1725.2h2v3.8h-2zM287.2 1725.2h2v3.8h-2zM303.3 1725.2h2v3.8h-2zM312.3 1725.2h3.8v3.8h-3.8zM321.2 1725.2h2v3.8h-2zM339.2 1725.2h3.8v3.8h-3.8zM253.1 1728.9h2v3.8h-2zM315.9 1728.9h2v3.8h-2zM319.4 1728.9h2v3.8h-2zM384 1728.9h2v3.8h-2zM289 1732.5h2v3.8h-2zM314.1 1732.5h2v3.8h-2zM321.2 1732.5h2v3.8h-2zM328.4 1732.5h3.8v3.8h-3.8zM317.7 1736.1h2v3.8h-2zM330.2 1736.1h3.8v3.8h-3.8zM335.6 1736.1h5.6v3.8h-5.6zM315.9 1739.7h2v3.8h-2zM321.2 1739.7h2v3.8h-2zM326.6 1739.7h2v3.8h-2zM384 1739.7h2v3.8h-2zM317.7 1743.4h2v3.8h-2zM321.2 1743.4h2v3.8h-2zM324.8 1743.4h3.8v3.8h-3.8zM330.2 1743.4h2v3.8h-2zM341 1743.4h2v3.8h-2zM314.1 1747h3.8v3.8h-3.8zM321.2 1747h2v3.8h-2z"/><path fill="#00009f" d="M183.2 1544h2v3.8h-2zM149.1 1594.7h2v3.8h-2zM219 1605.6h2v3.8h-2zM285.4 1605.6h2v3.8h-2zM154.5 1609.2h2v3.8h-2zM220.8 1612.9h2v3.8h-2zM152.7 1616.5h2v3.8h-2zM265.6 1627.4h2v3.8h-2zM177.8 1634.6h2v3.8h-2zM172.4 1638.2h2v3.8h-2zM208.3 1652.7h2v3.8h-2zM220.8 1652.7h2v3.8h-2zM165.2 1656.4h2v3.8h-2zM237 1656.4h2v3.8h-2zM265.6 1656.4h2v3.8h-2zM272.8 1656.4h2v3.8h-2zM301.5 1663.6h2v3.8h-2zM179.6 1667.2h2v3.8h-2zM247.7 1667.2h2v3.8h-2zM224.4 1685.4h2v3.8h-2zM258.5 1685.4h2v3.8h-2zM364.3 1685.4h2v3.8h-2zM242.3 1689h2v3.8h-2zM353.5 1689h2v3.8h-2zM376.8 1689h2v3.8h-2zM305.1 1696.2h2v3.8h-2zM367.9 1699.9h2v3.8h-2zM294.3 1703.5h5.6v3.8h-5.6zM305.1 1703.5h2v3.8h-2zM330.2 1703.5h3.8v3.8h-3.8zM342.8 1703.5h2v3.8h-2zM355.3 1703.5h2v3.8h-2zM366.1 1703.5h2v3.8h-2zM308.7 1707.1h2v3.8h-2zM328.4 1707.1h2v3.8h-2zM337.4 1707.1h2v3.8h-2zM256.7 1710.7h2v3.8h-2zM269.2 1710.7h2v3.8h-2zM299.7 1710.7h7.4v3.8h-7.4zM310.5 1710.7h2v3.8h-2zM323 1710.7h2v3.8h-2zM355.3 1710.7h2v3.8h-2zM384 1710.7h2v3.8h-2zM233.4 1714.4h2v3.8h-2zM280 1714.4h2v3.8h-2zM299.7 1714.4h2v3.8h-2zM303.3 1714.4h3.8v3.8h-3.8zM324.8 1714.4h2v3.8h-2zM337.4 1714.4h2v3.8h-2zM355.3 1714.4h2v3.8h-2zM233.4 1718h2v3.8h-2zM299.7 1718h2v3.8h-2zM303.3 1718h2v3.8h-2zM332 1718h2v3.8h-2zM219 1725.2h2v3.8h-2zM263.9 1732.5h2v3.8h-2zM263.9 1739.7h2v3.8h-2z"/><path fill="#0040ff" d="M179.6 1547.6h2v3.8h-2zM185 1547.6h2v3.8h-2zM190.3 1554.9h2v3.8h-2zM244.1 1580.2h2v3.8h-2zM245.9 1587.5h2v3.8h-2zM152.7 1602h2v3.8h-2zM219 1602h2v3.8h-2zM249.5 1602h2v3.8h-2zM150.9 1609.2h2v3.8h-2zM222.6 1609.2h2v3.8h-2zM152.7 1612.9h2v3.8h-2zM222.6 1612.9h2v3.8h-2zM289 1612.9h2v3.8h-2zM154.5 1627.4h2v3.8h-2zM154.5 1631h2v3.8h-2zM237 1631h2v3.8h-2zM156.3 1634.6h2v3.8h-2zM267.4 1634.6h2v3.8h-2zM170.6 1638.2h2v3.8h-2zM238.8 1638.2h2v3.8h-2zM267.4 1638.2h2v3.8h-2zM240.5 1641.9h2v3.8h-2zM269.2 1641.9h2v3.8h-2zM213.6 1649.1h2v3.8h-2zM219 1652.7h2v3.8h-2zM231.6 1656.4h3.8v3.8h-3.8zM265.6 1663.6h2v3.8h-2zM240.5 1667.2h2v3.8h-2zM301.5 1667.2h2v3.8h-2zM204.7 1670.9h2v3.8h-2zM215.4 1674.5h2v3.8h-2zM217.2 1678.1h2v3.8h-2zM305.1 1681.7h2v3.8h-2zM263.9 1685.4h2v3.8h-2zM247.7 1689h2v3.8h-2zM193.9 1692.6h2v3.8h-2zM245.9 1692.6h2v3.8h-2zM249.5 1692.6h2v3.8h-2zM245.9 1696.2h3.8v3.8h-3.8zM251.3 1696.2h2v3.8h-2zM378.6 1696.2h2v3.8h-2zM371.5 1699.9h2v3.8h-2zM193.9 1703.5h3.8v3.8h-3.8zM222.6 1703.5h2v3.8h-2zM231.6 1703.5h2v3.8h-2zM251.3 1703.5h3.8v3.8h-3.8zM317.7 1703.5h2v3.8h-2zM348.1 1703.5h2v3.8h-2zM195.7 1707.1h2v3.8h-2zM254.9 1707.1h2v3.8h-2zM219 1710.7h2v3.8h-2zM224.4 1710.7h2v3.8h-2zM321.2 1710.7h2v3.8h-2zM348.1 1710.7h3.8v3.8h-3.8zM323 1714.4h2v3.8h-2zM348.1 1714.4h2v3.8h-2zM183.2 1718h2v3.8h-2zM324.8 1718h2v3.8h-2zM348.1 1718h2v3.8h-2zM183.2 1721.6h2v3.8h-2zM219 1721.6h2v3.8h-2zM299.7 1721.6h2v3.8h-2zM305.1 1721.6h2v3.8h-2zM310.5 1721.6h2v3.8h-2zM333.8 1721.6h2v3.8h-2zM353.5 1721.6h2v3.8h-2zM366.1 1721.6h2v3.8h-2zM353.5 1725.2h2v3.8h-2zM358.9 1725.2h2v3.8h-2zM297.9 1728.9h2v3.8h-2zM337.4 1728.9h2v3.8h-2zM341 1728.9h2v3.8h-2zM299.7 1743.4h2v3.8h-2zM305.1 1743.4h2v3.8h-2zM229.8 1747h2v3.8h-2zM310.5 1747h2v3.8h-2zM355.3 1747h2v3.8h-2zM384 1747h2v3.8h-2z"/><path fill="#0080ff" d="M181.4 1547.6h2v3.8h-2zM188.5 1551.2h2v3.8h-2zM193.9 1554.9h2v3.8h-2zM199.3 1558.5h2v3.8h-2zM244.1 1583.9h2v3.8h-2zM244.1 1587.5h2v3.8h-2zM245.9 1594.7h2v3.8h-2zM150.9 1602h2v3.8h-2zM220.8 1602h2v3.8h-2zM247.7 1602h2v3.8h-2zM156.3 1616.5h2v3.8h-2zM158.1 1620.1h2v3.8h-2zM161.6 1623.7h2v3.8h-2zM158.1 1638.2h2v3.8h-2zM181.4 1645.5h2v3.8h-2zM193.9 1652.7h2v3.8h-2zM210.1 1656.4h2v3.8h-2zM226.2 1663.6h2v3.8h-2zM193.9 1667.2h2v3.8h-2zM210.1 1670.9h2v3.8h-2zM301.5 1674.5h2v3.8h-2zM235.2 1678.1h2v3.8h-2zM254.9 1681.7h2v3.8h-2zM245.9 1685.4h2v3.8h-2zM305.1 1685.4h2v3.8h-2zM260.3 1689h2v3.8h-2zM267.4 1689h2v3.8h-2zM375 1689h2v3.8h-2zM247.7 1692.6h2v3.8h-2zM364.3 1692.6h2v3.8h-2zM375 1692.6h2v3.8h-2zM222.6 1699.9h2v3.8h-2zM249.5 1699.9h2v3.8h-2zM364.3 1699.9h2v3.8h-2zM224.4 1703.5h2v3.8h-2zM249.5 1703.5h2v3.8h-2zM267.4 1703.5h2v3.8h-2zM375 1703.5h2v3.8h-2zM197.5 1707.1h2v3.8h-2zM229.8 1707.1h2v3.8h-2zM251.3 1707.1h2v3.8h-2zM364.3 1707.1h2v3.8h-2zM371.5 1707.1h2v3.8h-2zM375 1707.1h2v3.8h-2zM378.6 1707.1h2v3.8h-2zM197.5 1710.7h2v3.8h-2zM251.3 1710.7h2v3.8h-2zM360.7 1710.7h2v3.8h-2zM364.3 1710.7h2v3.8h-2zM371.5 1710.7h2v3.8h-2zM378.6 1710.7h3.8v3.8h-3.8zM181.4 1714.4h2v3.8h-2zM197.5 1714.4h2v3.8h-2zM253.1 1714.4h2v3.8h-2zM371.5 1714.4h2v3.8h-2zM375 1714.4h2v3.8h-2zM181.4 1718h2v3.8h-2zM197.5 1718h2v3.8h-2zM219 1718h2v3.8h-2zM287.2 1718h2v3.8h-2zM319.4 1718h2v3.8h-2zM349.9 1718h2v3.8h-2zM371.5 1718h2v3.8h-2zM373.2 1721.6h2v3.8h-2zM382.2 1721.6h2v3.8h-2zM301.5 1725.2h2v3.8h-2zM342.8 1725.2h2v3.8h-2zM362.5 1725.2h2v3.8h-2zM324.8 1728.9h3.8v3.8h-3.8zM362.5 1728.9h2v3.8h-2zM303.3 1732.5h2v3.8h-2zM312.3 1732.5h2v3.8h-2zM362.5 1732.5h2v3.8h-2zM344.6 1736.1h2v3.8h-2zM310.5 1743.4h2v3.8h-2zM351.7 1747h2v3.8h-2zM369.7 1747h2v3.8h-2zM375 1747h2v3.8h-2z"/><path fill="#0060ff" d="M183.2 1547.6h2v3.8h-2zM186.7 1551.2h2v3.8h-2zM190.3 1551.2h2v3.8h-2zM192.1 1554.9h2v3.8h-2zM195.7 1554.9h2v3.8h-2zM197.5 1558.5h2v3.8h-2zM219 1594.7h2v3.8h-2zM219 1598.4h2v3.8h-2zM150.9 1605.6h3.8v3.8h-3.8zM220.8 1605.6h2v3.8h-2zM287.2 1605.6h3.8v3.8h-3.8zM290.8 1609.2h2v3.8h-2zM235.2 1623.7h2v3.8h-2zM168.8 1634.6h2v3.8h-2zM238.8 1634.6h2v3.8h-2zM176 1638.2h3.8v3.8h-3.8zM183.2 1649.1h2v3.8h-2zM195.7 1652.7h2v3.8h-2zM174.2 1660h2v3.8h-2zM269.2 1660h2v3.8h-2zM179.6 1663.6h2v3.8h-2zM228 1663.6h2v3.8h-2zM192.1 1667.2h2v3.8h-2zM195.7 1667.2h2v3.8h-2zM206.5 1670.9h3.8v3.8h-3.8zM233.4 1674.5h2v3.8h-2zM253.1 1674.5h2v3.8h-2zM219 1678.1h2v3.8h-2zM231.6 1678.1h2v3.8h-2zM240.5 1681.7h2v3.8h-2zM303.3 1681.7h2v3.8h-2zM244.1 1685.4h2v3.8h-2zM256.7 1685.4h2v3.8h-2zM244.1 1689h2v3.8h-2zM305.1 1689h2v3.8h-2zM351.7 1689h2v3.8h-2zM272.8 1692.6h2v3.8h-2zM281.8 1692.6h2v3.8h-2zM280 1696.2h2v3.8h-2zM193.9 1699.9h2v3.8h-2zM378.6 1699.9h2v3.8h-2zM229.8 1703.5h2v3.8h-2zM260.3 1703.5h2v3.8h-2zM256.7 1707.1h2v3.8h-2zM269.2 1707.1h5.6v3.8h-5.6zM229.8 1710.7h2v3.8h-2zM280 1710.7h3.8v3.8h-3.8zM315.9 1710.7h2v3.8h-2zM183.2 1714.4h2v3.8h-2zM217.2 1714.4h2v3.8h-2zM294.3 1714.4h2v3.8h-2zM317.7 1714.4h2v3.8h-2zM349.9 1714.4h2v3.8h-2zM251.3 1718h2v3.8h-2zM346.3 1718h2v3.8h-2zM382.2 1718h2v3.8h-2zM296.1 1721.6h2v3.8h-2zM321.2 1721.6h2v3.8h-2zM337.4 1725.2h2v3.8h-2zM360.7 1725.2h2v3.8h-2zM373.2 1725.2h2v3.8h-2zM260.3 1728.9h2v3.8h-2zM353.5 1728.9h2v3.8h-2zM358.9 1728.9h2v3.8h-2zM260.3 1732.5h2v3.8h-2zM344.6 1732.5h2v3.8h-2zM358.9 1732.5h2v3.8h-2zM262.1 1739.7h2v3.8h-2zM299.7 1747h2v3.8h-2z"/><path fill="#0000bf" d="M188.5 1547.6h2v3.8h-2zM181.4 1551.2h2v3.8h-2zM193.9 1551.2h2v3.8h-2zM193.9 1558.5h2v3.8h-2zM201.1 1558.5h2v3.8h-2zM197.5 1562.1h2v3.8h-2zM242.3 1580.2h2v3.8h-2zM245.9 1583.9h2v3.8h-2zM219 1591.1h2v3.8h-2zM247.7 1591.1h2v3.8h-2zM285.4 1591.1h2v3.8h-2zM217.2 1594.7h2v3.8h-2zM220.8 1594.7h2v3.8h-2zM289 1594.7h2v3.8h-2zM217.2 1598.4h2v3.8h-2zM249.5 1598.4h2v3.8h-2zM149.1 1602h2v3.8h-2zM290.8 1602h2v3.8h-2zM287.2 1612.9h2v3.8h-2zM290.8 1612.9h2v3.8h-2zM161.6 1620.1h2v3.8h-2zM289 1620.1h2v3.8h-2zM163.4 1623.7h2v3.8h-2zM233.4 1623.7h2v3.8h-2zM168.8 1631h2v3.8h-2zM235.2 1631h2v3.8h-2zM154.5 1634.6h2v3.8h-2zM156.3 1638.2h2v3.8h-2zM181.4 1638.2h2v3.8h-2zM237 1638.2h2v3.8h-2zM183.2 1645.5h2v3.8h-2zM215.4 1645.5h2v3.8h-2zM192.1 1649.1h3.8v3.8h-3.8zM219 1649.1h2v3.8h-2zM204.7 1652.7h3.8v3.8h-3.8zM210.1 1652.7h2v3.8h-2zM224.4 1656.4h2v3.8h-2zM269.2 1656.4h2v3.8h-2zM176 1660h2v3.8h-2zM174.2 1663.6h2v3.8h-2zM240.5 1663.6h2v3.8h-2zM181.4 1667.2h3.8v3.8h-3.8zM244.1 1667.2h3.8v3.8h-3.8zM195.7 1670.9h3.8v3.8h-3.8zM253.1 1670.9h2v3.8h-2zM303.3 1670.9h2v3.8h-2zM208.3 1674.5h7.4v3.8h-7.4zM254.9 1674.5h2v3.8h-2zM265.6 1678.1h2v3.8h-2zM271 1678.1h2v3.8h-2zM305.1 1678.1h2v3.8h-2zM235.2 1681.7h2v3.8h-2zM256.7 1681.7h2v3.8h-2zM265.6 1681.7h2v3.8h-2zM271 1681.7h2v3.8h-2zM229.8 1685.4h2v3.8h-2zM260.3 1685.4h2v3.8h-2zM271 1685.4h2v3.8h-2zM306.9 1685.4h2v3.8h-2zM375 1685.4h2v3.8h-2zM272.8 1689h2v3.8h-2zM281.8 1689h5.6v3.8h-5.6zM362.5 1689h2v3.8h-2zM278.2 1692.6h3.8v3.8h-3.8zM362.5 1696.2h2v3.8h-2zM263.9 1703.5h2v3.8h-2zM314.1 1703.5h2v3.8h-2zM326.6 1703.5h2v3.8h-2zM362.5 1703.5h2v3.8h-2zM373.2 1703.5h2v3.8h-2zM183.2 1707.1h2v3.8h-2zM294.3 1707.1h2v3.8h-2zM301.5 1707.1h3.8v3.8h-3.8zM306.9 1707.1h2v3.8h-2zM310.5 1707.1h3.8v3.8h-3.8zM321.2 1707.1h5.6v3.8h-5.6zM330.2 1707.1h2v3.8h-2zM341 1707.1h3.8v3.8h-3.8zM346.3 1707.1h2v3.8h-2zM355.3 1707.1h5.6v3.8h-5.6zM362.5 1707.1h2v3.8h-2zM373.2 1707.1h2v3.8h-2zM382.2 1707.1h2v3.8h-2zM222.6 1710.7h2v3.8h-2zM274.6 1710.7h2v3.8h-2zM296.1 1710.7h3.8v3.8h-3.8zM306.9 1710.7h2v3.8h-2zM312.3 1710.7h3.8v3.8h-3.8zM324.8 1710.7h3.8v3.8h-3.8zM333.8 1710.7h2v3.8h-2zM339.2 1710.7h9.2v3.8h-9.2zM362.5 1710.7h2v3.8h-2zM366.1 1710.7h3.8v3.8h-3.8zM373.2 1710.7h2v3.8h-2zM199.3 1714.4h2v3.8h-2zM254.9 1714.4h2v3.8h-2zM297.9 1714.4h2v3.8h-2zM306.9 1714.4h3.8v3.8h-3.8zM314.1 1714.4h3.8v3.8h-3.8zM328.4 1714.4h5.6v3.8h-5.6zM335.6 1714.4h2v3.8h-2zM339.2 1714.4h3.8v3.8h-3.8zM344.6 1714.4h2v3.8h-2zM357.1 1714.4h3.8v3.8h-3.8zM362.5 1714.4h2v3.8h-2zM366.1 1714.4h3.8v3.8h-3.8zM384 1714.4h2v3.8h-2zM199.3 1718h2v3.8h-2zM301.5 1718h2v3.8h-2zM305.1 1718h9.2v3.8h-9.2zM317.7 1718h2v3.8h-2zM326.6 1718h2v3.8h-2zM330.2 1718h2v3.8h-2zM333.8 1718h3.8v3.8h-3.8zM341 1718h2v3.8h-2zM358.9 1718h2v3.8h-2zM362.5 1718h2v3.8h-2zM384 1718h2v3.8h-2zM197.5 1721.6h2v3.8h-2zM231.6 1721.6h2v3.8h-2zM253.1 1721.6h2v3.8h-2zM312.3 1721.6h9.2v3.8h-9.2zM339.2 1721.6h2v3.8h-2zM342.8 1721.6h2v3.8h-2zM384 1721.6h2v3.8h-2zM183.2 1725.2h2v3.8h-2zM253.1 1725.2h2v3.8h-2zM315.9 1725.2h5.6v3.8h-5.6zM384 1725.2h2v3.8h-2zM249.5 1728.9h2v3.8h-2zM314.1 1728.9h2v3.8h-2zM317.7 1728.9h2v3.8h-2zM339.2 1728.9h2v3.8h-2zM253.1 1732.5h2v3.8h-2zM317.7 1732.5h2v3.8h-2zM323 1732.5h2v3.8h-2zM326.6 1732.5h2v3.8h-2zM263.9 1736.1h2v3.8h-2zM289 1736.1h2v3.8h-2zM328.4 1736.1h2v3.8h-2zM226.2 1739.7h2v3.8h-2zM260.3 1739.7h2v3.8h-2zM328.4 1739.7h3.8v3.8h-3.8zM226.2 1743.4h2v3.8h-2zM262.1 1743.4h2v3.8h-2zM315.9 1743.4h2v3.8h-2zM323 1743.4h2v3.8h-2zM328.4 1743.4h2v3.8h-2zM337.4 1743.4h2v3.8h-2zM319.4 1747h2v3.8h-2zM326.6 1747h2v3.8h-2zM330.2 1747h2v3.8h-2z"/><path fill="#0000ff" d="M192.1 1551.2h2v3.8h-2zM199.3 1562.1h2v3.8h-2zM242.3 1583.9h2v3.8h-2zM244.1 1591.1h2v3.8h-2zM285.4 1594.7h2v3.8h-2zM152.7 1598.4h2v3.8h-2zM287.2 1602h2v3.8h-2zM222.6 1605.6h2v3.8h-2zM247.7 1605.6h2v3.8h-2zM150.9 1612.9h2v3.8h-2zM158.1 1616.5h2v3.8h-2zM233.4 1616.5h2v3.8h-2zM289 1616.5h2v3.8h-2zM233.4 1620.1h2v3.8h-2zM290.8 1620.1h2v3.8h-2zM163.4 1627.4h2v3.8h-2zM165.2 1631h2v3.8h-2zM267.4 1631h2v3.8h-2zM174.2 1638.2h2v3.8h-2zM179.6 1638.2h2v3.8h-2zM267.4 1641.9h2v3.8h-2zM186.7 1649.1h3.8v3.8h-3.8zM165.2 1652.7h2v3.8h-2zM199.3 1652.7h2v3.8h-2zM202.9 1652.7h2v3.8h-2zM229.8 1656.4h2v3.8h-2zM235.2 1656.4h2v3.8h-2zM267.4 1656.4h2v3.8h-2zM226.2 1660h2v3.8h-2zM237 1660h2v3.8h-2zM170.6 1663.6h3.8v3.8h-3.8zM177.8 1663.6h2v3.8h-2zM238.8 1663.6h2v3.8h-2zM242.3 1667.2h2v3.8h-2zM265.6 1667.2h2v3.8h-2zM299.7 1667.2h2v3.8h-2zM201.1 1670.9h2v3.8h-2zM249.5 1670.9h3.8v3.8h-3.8zM254.9 1678.1h2v3.8h-2zM301.5 1678.1h2v3.8h-2zM231.6 1681.7h2v3.8h-2zM228 1685.4h2v3.8h-2zM265.6 1685.4h2v3.8h-2zM244.1 1692.6h2v3.8h-2zM287.2 1692.6h2v3.8h-2zM305.1 1692.6h2v3.8h-2zM195.7 1696.2h2v3.8h-2zM222.6 1696.2h3.8v3.8h-3.8zM369.7 1696.2h2v3.8h-2zM376.8 1696.2h2v3.8h-2zM376.8 1699.9h2v3.8h-2zM262.1 1703.5h2v3.8h-2zM265.6 1703.5h2v3.8h-2zM193.9 1707.1h2v3.8h-2zM217.2 1707.1h2v3.8h-2zM319.4 1707.1h2v3.8h-2zM353.5 1707.1h2v3.8h-2zM360.7 1707.1h2v3.8h-2zM376.8 1707.1h2v3.8h-2zM195.7 1710.7h2v3.8h-2zM294.3 1710.7h2v3.8h-2zM353.5 1710.7h2v3.8h-2zM376.8 1710.7h2v3.8h-2zM382.2 1710.7h2v3.8h-2zM229.8 1714.4h2v3.8h-2zM251.3 1714.4h2v3.8h-2zM353.5 1714.4h2v3.8h-2zM253.1 1718h2v3.8h-2zM296.1 1718h2v3.8h-2zM367.9 1718h2v3.8h-2zM373.2 1718h2v3.8h-2zM306.9 1721.6h2v3.8h-2zM335.6 1721.6h2v3.8h-2zM344.6 1721.6h2v3.8h-2zM358.9 1721.6h2v3.8h-2zM249.5 1725.2h2v3.8h-2zM297.9 1725.2h2v3.8h-2zM321.2 1728.9h3.8v3.8h-3.8zM315.9 1732.5h2v3.8h-2zM319.4 1732.5h2v3.8h-2zM324.8 1732.5h2v3.8h-2zM332 1732.5h2v3.8h-2zM337.4 1732.5h3.8v3.8h-3.8zM384 1732.5h2v3.8h-2zM228 1736.1h2v3.8h-2zM260.3 1736.1h2v3.8h-2zM314.1 1736.1h3.8v3.8h-3.8zM319.4 1736.1h7.4v3.8h-7.4zM384 1736.1h2v3.8h-2zM229.8 1739.7h2v3.8h-2zM314.1 1739.7h2v3.8h-2zM317.7 1739.7h3.8v3.8h-3.8zM332 1739.7h9.2v3.8h-9.2zM229.8 1743.4h2v3.8h-2zM290.8 1743.4h2v3.8h-2zM339.2 1743.4h2v3.8h-2zM290.8 1747h2v3.8h-2zM317.7 1747h2v3.8h-2zM323 1747h3.8v3.8h-3.8zM333.8 1747h2v3.8h-2zM337.4 1747h2v3.8h-2z"/><path fill="#009fff" d="M245.9 1591.1h2v3.8h-2zM150.9 1598.4h2v3.8h-2zM287.2 1598.4h2v3.8h-2zM152.7 1609.2h2v3.8h-2zM159.8 1641.9h2v3.8h-2zM174.2 1641.9h2v3.8h-2zM172.4 1645.5h2v3.8h-2zM165.2 1649.1h2v3.8h-2zM215.4 1649.1h2v3.8h-2zM211.9 1652.7h2v3.8h-2zM208.3 1656.4h2v3.8h-2zM219 1656.4h2v3.8h-2zM168.8 1660h2v3.8h-2zM177.8 1660h2v3.8h-2zM229.8 1660h2v3.8h-2zM237 1663.6h2v3.8h-2zM197.5 1667.2h2v3.8h-2zM269.2 1667.2h2v3.8h-2zM213.6 1670.9h2v3.8h-2zM301.5 1670.9h2v3.8h-2zM303.3 1678.1h2v3.8h-2zM229.8 1681.7h2v3.8h-2zM247.7 1685.4h2v3.8h-2zM306.9 1692.6h2v3.8h-2zM364.3 1696.2h2v3.8h-2zM375 1696.2h2v3.8h-2zM224.4 1699.9h2v3.8h-2zM253.1 1699.9h2v3.8h-2zM289 1699.9h2v3.8h-2zM369.7 1699.9h2v3.8h-2zM375 1699.9h2v3.8h-2zM315.9 1703.5h2v3.8h-2zM351.7 1703.5h2v3.8h-2zM371.5 1703.5h2v3.8h-2zM378.6 1703.5h2v3.8h-2zM224.4 1707.1h2v3.8h-2zM231.6 1707.1h2v3.8h-2zM274.6 1707.1h2v3.8h-2zM283.6 1707.1h2v3.8h-2zM351.7 1710.7h2v3.8h-2zM375 1710.7h2v3.8h-2zM219 1714.4h2v3.8h-2zM231.6 1714.4h2v3.8h-2zM360.7 1714.4h2v3.8h-2zM364.3 1714.4h2v3.8h-2zM378.6 1714.4h3.8v3.8h-3.8zM231.6 1718h2v3.8h-2zM351.7 1718h2v3.8h-2zM355.3 1718h2v3.8h-2zM360.7 1718h2v3.8h-2zM332 1721.6h2v3.8h-2zM349.9 1721.6h2v3.8h-2zM306.9 1725.2h3.8v3.8h-3.8zM349.9 1725.2h2v3.8h-2zM251.3 1728.9h2v3.8h-2zM373.2 1732.5h2v3.8h-2zM376.8 1732.5h2v3.8h-2zM341 1736.1h2v3.8h-2zM305.1 1739.7h2v3.8h-2zM384 1743.4h2v3.8h-2zM228 1747h2v3.8h-2zM306.9 1747h2v3.8h-2zM380.4 1747h2v3.8h-2z"/><path fill="#00bfff" d="M287.2 1594.7h2v3.8h-2zM247.7 1598.4h2v3.8h-2zM289 1602h2v3.8h-2zM154.5 1620.1h2v3.8h-2zM165.2 1634.6h2v3.8h-2zM170.6 1641.9h2v3.8h-2zM206.5 1656.4h2v3.8h-2zM220.8 1660h2v3.8h-2zM224.4 1660h2v3.8h-2zM181.4 1663.6h2v3.8h-2zM269.2 1663.6h2v3.8h-2zM215.4 1670.9h2v3.8h-2zM244.1 1670.9h3.8v3.8h-3.8zM269.2 1670.9h2v3.8h-2zM269.2 1674.5h2v3.8h-2zM226.2 1681.7h2v3.8h-2zM242.3 1681.7h2v3.8h-2zM285.4 1692.6h2v3.8h-2zM193.9 1696.2h2v3.8h-2zM351.7 1699.9h2v3.8h-2zM364.3 1703.5h2v3.8h-2zM369.7 1703.5h2v3.8h-2zM292.5 1707.1h2v3.8h-2zM351.7 1707.1h2v3.8h-2zM369.7 1707.1h2v3.8h-2zM181.4 1710.7h2v3.8h-2zM217.2 1710.7h2v3.8h-2zM231.6 1710.7h2v3.8h-2zM369.7 1710.7h2v3.8h-2zM351.7 1714.4h2v3.8h-2zM364.3 1718h2v3.8h-2zM376.8 1718h2v3.8h-2zM330.2 1721.6h2v3.8h-2zM357.1 1721.6h2v3.8h-2zM376.8 1725.2h2v3.8h-2zM360.7 1728.9h2v3.8h-2zM373.2 1728.9h2v3.8h-2zM262.1 1732.5h2v3.8h-2zM353.5 1732.5h2v3.8h-2zM366.1 1732.5h2v3.8h-2zM262.1 1736.1h2v3.8h-2zM290.8 1736.1h2v3.8h-2zM299.7 1736.1h2v3.8h-2zM353.5 1736.1h2v3.8h-2zM360.7 1747h2v3.8h-2z"/><path fill="#bfff40" d="M156.3 1620.1h2v3.8h-2zM158.1 1634.6h2v3.8h-2zM167 1649.1h2v3.8h-2zM217.2 1656.4h2v3.8h-2zM190.3 1663.6h2v3.8h-2zM220.8 1663.6h2v3.8h-2zM226.2 1667.2h2v3.8h-2zM233.4 1670.9h2v3.8h-2zM247.7 1674.5h2v3.8h-2zM267.4 1674.5h2v3.8h-2zM229.8 1678.1h2v3.8h-2zM240.5 1678.1h2v3.8h-2zM271 1703.5h2v3.8h-2zM315.9 1707.1h2v3.8h-2zM321.2 1714.4h2v3.8h-2zM323 1718h2v3.8h-2zM289 1721.6h2v3.8h-2zM324.8 1721.6h2v3.8h-2zM375 1721.6h2v3.8h-2zM308.7 1732.5h3.8v3.8h-3.8zM357.1 1732.5h2v3.8h-2zM371.5 1732.5h2v3.8h-2zM344.6 1739.7h2v3.8h-2zM348.1 1739.7h2v3.8h-2zM376.8 1739.7h2v3.8h-2zM380.4 1739.7h2v3.8h-2zM366.1 1743.4h2v3.8h-2z"/><path fill="#9fff60" d="M156.3 1623.7h2v3.8h-2zM159.8 1638.2h2v3.8h-2zM170.6 1645.5h2v3.8h-2zM197.5 1656.4h2v3.8h-2zM211.9 1656.4h2v3.8h-2zM179.6 1660h2v3.8h-2zM228 1667.2h2v3.8h-2zM267.4 1667.2h2v3.8h-2zM249.5 1685.4h2v3.8h-2zM281.8 1696.2h2v3.8h-2zM258.5 1703.5h2v3.8h-2zM278.2 1707.1h2v3.8h-2zM317.7 1710.7h3.8v3.8h-3.8zM292.5 1714.4h2v3.8h-2zM319.4 1714.4h2v3.8h-2zM378.6 1721.6h2v3.8h-2zM296.1 1728.9h2v3.8h-2zM299.7 1728.9h2v3.8h-2zM332 1728.9h2v3.8h-2zM369.7 1728.9h3.8v3.8h-3.8zM364.3 1732.5h2v3.8h-2zM366.1 1736.1h2v3.8h-2zM380.4 1743.4h2v3.8h-2z"/><path fill="#80ff80" d="M158.1 1623.7h2v3.8h-2zM156.3 1627.4h2v3.8h-2zM156.3 1631h2v3.8h-2zM168.8 1638.2h2v3.8h-2zM174.2 1645.5h2v3.8h-2zM213.6 1652.7h2v3.8h-2zM217.2 1652.7h2v3.8h-2zM177.8 1656.4h2v3.8h-2zM231.6 1660h2v3.8h-2zM267.4 1660h2v3.8h-2zM215.4 1667.2h2v3.8h-2zM249.5 1674.5h3.8v3.8h-3.8zM251.3 1692.6h2v3.8h-2zM274.6 1696.2h2v3.8h-2zM317.7 1707.1h2v3.8h-2zM355.3 1721.6h2v3.8h-2zM369.7 1721.6h3.8v3.8h-3.8zM380.4 1721.6h2v3.8h-2zM299.7 1725.2h2v3.8h-2zM305.1 1725.2h2v3.8h-2zM310.5 1725.2h2v3.8h-2zM306.9 1728.9h2v3.8h-2zM357.1 1728.9h2v3.8h-2zM346.3 1732.5h2v3.8h-2zM351.7 1732.5h2v3.8h-2zM367.9 1732.5h2v3.8h-2zM358.9 1736.1h2v3.8h-2zM373.2 1739.7h2v3.8h-2zM292.5 1743.4h2v3.8h-2zM375 1743.4h2v3.8h-2zM312.3 1747h2v3.8h-2zM349.9 1747h2v3.8h-2zM376.8 1747h2v3.8h-2z"/><path fill="#60ff9f" d="M159.8 1623.7h2v3.8h-2zM163.4 1645.5h2v3.8h-2zM168.8 1656.4h2v3.8h-2zM219 1660h2v3.8h-2zM201.1 1667.2h3.8v3.8h-3.8zM217.2 1674.5h2v3.8h-2zM235.2 1674.5h2v3.8h-2zM228 1681.7h2v3.8h-2zM254.9 1685.4h2v3.8h-2zM276.4 1696.2h2v3.8h-2zM265.6 1699.9h2v3.8h-2zM269.2 1703.5h2v3.8h-2zM357.1 1725.2h2v3.8h-2zM369.7 1725.2h3.8v3.8h-3.8zM378.6 1725.2h3.8v3.8h-3.8zM290.8 1728.9h2v3.8h-2zM330.2 1728.9h2v3.8h-2zM299.7 1732.5h2v3.8h-2zM355.3 1732.5h2v3.8h-2zM303.3 1736.1h2v3.8h-2zM349.9 1736.1h2v3.8h-2zM362.5 1736.1h2v3.8h-2zM301.5 1739.7h2v3.8h-2zM366.1 1739.7h2v3.8h-2zM306.9 1743.4h2v3.8h-2zM342.8 1743.4h2v3.8h-2zM371.5 1747h2v3.8h-2zM382.2 1747h2v3.8h-2z"/><path fill="#ff9f00" d="M158.1 1627.4h2v3.8h-2zM161.6 1641.9h2v3.8h-2zM201.1 1660h2v3.8h-2zM204.7 1660h2v3.8h-2zM208.3 1660h2v3.8h-2zM197.5 1663.6h3.8v3.8h-3.8zM213.6 1663.6h2v3.8h-2zM224.4 1663.6h2v3.8h-2zM220.8 1670.9h2v3.8h-2zM228 1670.9h2v3.8h-2zM226.2 1678.1h2v3.8h-2zM251.3 1678.1h2v3.8h-2zM265.6 1692.6h2v3.8h-2zM271 1696.2h2v3.8h-2zM278.2 1699.9h2v3.8h-2zM287.2 1710.7h2v3.8h-2zM289 1718h2v3.8h-2zM326.6 1725.2h3.8v3.8h-3.8zM371.5 1736.1h2v3.8h-2zM308.7 1739.7h2v3.8h-2zM351.7 1739.7h2v3.8h-2zM357.1 1743.4h2v3.8h-2zM296.1 1747h2v3.8h-2z"/><path fill="#ff2000" d="M159.8 1627.4h2v3.8h-2zM161.6 1638.2h2v3.8h-2zM167 1638.2h2v3.8h-2zM167 1645.5h2v3.8h-2zM174.2 1649.1h2v3.8h-2zM170.6 1652.7h3.8v3.8h-3.8zM202.9 1663.6h2v3.8h-2zM206.5 1663.6h2v3.8h-2zM233.4 1663.6h2v3.8h-2zM224.4 1667.2h2v3.8h-2zM231.6 1670.9h2v3.8h-2zM238.8 1674.5h5.6v3.8h-5.6zM249.5 1678.1h2v3.8h-2zM251.3 1681.7h2v3.8h-2zM251.3 1685.4h2v3.8h-2zM253.1 1692.6h2v3.8h-2zM262.1 1692.6h2v3.8h-2zM267.4 1696.2h2v3.8h-2zM283.6 1696.2h2v3.8h-2zM287.2 1703.5h2v3.8h-2zM290.8 1718h2v3.8h-2zM292.5 1725.2h2v3.8h-2zM357.1 1739.7h2v3.8h-2zM296.1 1743.4h2v3.8h-2zM373.2 1743.4h2v3.8h-2z"/><path fill="#40ffbf" d="M161.6 1627.4h2v3.8h-2zM181.4 1649.1h2v3.8h-2zM188.5 1652.7h2v3.8h-2zM229.8 1663.6h2v3.8h-2zM199.3 1667.2h2v3.8h-2zM267.4 1670.9h2v3.8h-2zM220.8 1674.5h2v3.8h-2zM231.6 1674.5h2v3.8h-2zM237 1678.1h3.8v3.8h-3.8zM253.1 1678.1h2v3.8h-2zM262.1 1689h2v3.8h-2zM265.6 1689h2v3.8h-2zM269.2 1689h2v3.8h-2zM258.5 1692.6h2v3.8h-2zM269.2 1692.6h2v3.8h-2zM276.4 1707.1h2v3.8h-2zM292.5 1710.7h2v3.8h-2zM287.2 1714.4h2v3.8h-2zM294.3 1718h2v3.8h-2zM326.6 1721.6h2v3.8h-2zM346.3 1721.6h2v3.8h-2zM355.3 1725.2h2v3.8h-2zM366.1 1725.2h2v3.8h-2zM346.3 1728.9h2v3.8h-2zM378.6 1728.9h2v3.8h-2zM290.8 1732.5h2v3.8h-2zM342.8 1732.5h2v3.8h-2zM349.9 1732.5h2v3.8h-2zM360.7 1732.5h2v3.8h-2zM369.7 1732.5h2v3.8h-2zM375 1732.5h2v3.8h-2zM305.1 1736.1h2v3.8h-2zM310.5 1736.1h3.8v3.8h-3.8zM369.7 1743.4h2v3.8h-2zM297.9 1747h2v3.8h-2zM344.6 1747h2v3.8h-2zM348.1 1747h2v3.8h-2zM353.5 1747h2v3.8h-2z"/><path fill="#bf0000" d="M158.1 1631h2v3.8h-2zM170.6 1656.4h2v3.8h-2zM185 1660h2v3.8h-2zM192.1 1660h2v3.8h-2zM222.6 1667.2h2v3.8h-2zM233.4 1667.2h2v3.8h-2zM228 1678.1h2v3.8h-2zM254.9 1696.2h2v3.8h-2zM258.5 1696.2h2v3.8h-2zM262.1 1696.2h2v3.8h-2zM274.6 1699.9h2v3.8h-2zM289 1710.7h2v3.8h-2zM292.5 1728.9h2v3.8h-2zM375 1736.1h2v3.8h-2zM360.7 1739.7h2v3.8h-2z"/><path fill="#9f0000" d="M159.8 1631h2v3.8h-2zM176 1645.5h2v3.8h-2zM177.8 1649.1h2v3.8h-2zM186.7 1656.4h2v3.8h-2zM215.4 1656.4h2v3.8h-2zM190.3 1660h2v3.8h-2zM229.8 1670.9h2v3.8h-2zM254.9 1692.6h2v3.8h-2zM263.9 1692.6h2v3.8h-2zM269.2 1696.2h2v3.8h-2zM294.3 1728.9h2v3.8h-2zM378.6 1739.7h2v3.8h-2z"/><path fill="#ff6000" d="M161.6 1631h2v3.8h-2zM165.2 1641.9h2v3.8h-2zM215.4 1652.7h2v3.8h-2zM206.5 1660h2v3.8h-2zM219 1667.2h2v3.8h-2zM226.2 1674.5h2v3.8h-2zM237 1674.5h2v3.8h-2zM276.4 1703.5h2v3.8h-2zM323 1721.6h2v3.8h-2zM330.2 1725.2h2v3.8h-2zM333.8 1725.2h2v3.8h-2zM342.8 1736.1h2v3.8h-2zM349.9 1739.7h2v3.8h-2zM303.3 1743.4h2v3.8h-2zM349.9 1743.4h2v3.8h-2zM353.5 1743.4h2v3.8h-2zM382.2 1743.4h2v3.8h-2z"/><path fill="#00ffff" d="M163.4 1631h2v3.8h-2zM192.1 1652.7h2v3.8h-2zM174.2 1656.4h2v3.8h-2zM204.7 1656.4h2v3.8h-2zM172.4 1660h2v3.8h-2zM235.2 1660h2v3.8h-2zM211.9 1670.9h2v3.8h-2zM224.4 1678.1h2v3.8h-2zM267.4 1678.1h3.8v3.8h-3.8zM267.4 1685.4h2v3.8h-2zM249.5 1689h2v3.8h-2zM283.6 1692.6h2v3.8h-2zM351.7 1696.2h2v3.8h-2zM360.7 1721.6h2v3.8h-2zM296.1 1725.2h2v3.8h-2zM323 1725.2h2v3.8h-2zM346.3 1725.2h3.8v3.8h-3.8zM262.1 1728.9h2v3.8h-2zM328.4 1728.9h2v3.8h-2zM348.1 1728.9h2v3.8h-2zM366.1 1728.9h2v3.8h-2zM380.4 1732.5h2v3.8h-2zM310.5 1739.7h2v3.8h-2zM362.5 1739.7h2v3.8h-2zM228 1743.4h2v3.8h-2zM346.3 1743.4h2v3.8h-2zM351.7 1743.4h2v3.8h-2zM355.3 1743.4h2v3.8h-2zM308.7 1747h2v3.8h-2zM364.3 1747h2v3.8h-2zM378.6 1747h2v3.8h-2z"/><path fill="#800000" d="M159.8 1634.6h3.8v3.8h-3.8zM167 1641.9h2v3.8h-2zM168.8 1645.5h2v3.8h-2zM177.8 1645.5h2v3.8h-2zM168.8 1649.1h2v3.8h-2zM179.6 1652.7h2v3.8h-2zM181.4 1656.4h5.6v3.8h-5.6zM195.7 1660h3.8v3.8h-3.8zM213.6 1660h2v3.8h-2zM201.1 1663.6h2v3.8h-2zM211.9 1663.6h2v3.8h-2zM217.2 1667.2h2v3.8h-2zM220.8 1667.2h2v3.8h-2zM219 1670.9h2v3.8h-2zM224.4 1670.9h2v3.8h-2zM237 1670.9h2v3.8h-2zM256.7 1696.2h2v3.8h-2zM260.3 1696.2h2v3.8h-2zM265.6 1696.2h2v3.8h-2zM256.7 1699.9h2v3.8h-2zM272.8 1699.9h2v3.8h-2zM276.4 1699.9h2v3.8h-2zM281.8 1699.9h2v3.8h-2zM278.2 1703.5h2v3.8h-2zM285.4 1703.5h2v3.8h-2zM287.2 1707.1h2v3.8h-2zM290.8 1721.6h3.8v3.8h-3.8zM294.3 1732.5h2v3.8h-2zM294.3 1736.1h2v3.8h-2zM294.3 1739.7h2v3.8h-2z"/><path fill="#ffbf00" d="M163.4 1634.6h2v3.8h-2zM176 1641.9h2v3.8h-2zM179.6 1645.5h2v3.8h-2zM177.8 1652.7h2v3.8h-2zM181.4 1652.7h3.8v3.8h-3.8zM192.1 1656.4h2v3.8h-2zM195.7 1656.4h2v3.8h-2zM183.2 1660h2v3.8h-2zM193.9 1663.6h2v3.8h-2zM219 1663.6h2v3.8h-2zM235.2 1663.6h2v3.8h-2zM208.3 1667.2h2v3.8h-2zM213.6 1667.2h2v3.8h-2zM217.2 1670.9h2v3.8h-2zM244.1 1681.7h2v3.8h-2zM256.7 1692.6h2v3.8h-2zM260.3 1699.9h2v3.8h-2zM274.6 1703.5h2v3.8h-2zM296.1 1732.5h2v3.8h-2zM346.3 1736.1h2v3.8h-2zM355.3 1736.1h3.8v3.8h-3.8zM364.3 1736.1h2v3.8h-2zM303.3 1739.7h2v3.8h-2zM342.8 1739.7h2v3.8h-2zM346.3 1739.7h2v3.8h-2zM355.3 1739.7h2v3.8h-2zM371.5 1739.7h2v3.8h-2zM358.9 1743.4h2v3.8h-2z"/><path fill="#00dfff" d="M167 1634.6h2v3.8h-2zM161.6 1645.5h2v3.8h-2zM167 1652.7h2v3.8h-2zM190.3 1652.7h2v3.8h-2zM222.6 1660h2v3.8h-2zM183.2 1663.6h2v3.8h-2zM222.6 1674.5h2v3.8h-2zM271 1692.6h2v3.8h-2zM351.7 1692.6h2v3.8h-2zM278.2 1696.2h2v3.8h-2zM287.2 1696.2h2v3.8h-2zM263.9 1699.9h2v3.8h-2zM290.8 1703.5h2v3.8h-2zM285.4 1710.7h2v3.8h-2zM369.7 1714.4h2v3.8h-2zM369.7 1718h2v3.8h-2zM375 1718h2v3.8h-2zM380.4 1718h2v3.8h-2zM251.3 1721.6h2v3.8h-2zM348.1 1721.6h2v3.8h-2zM364.3 1721.6h2v3.8h-2zM376.8 1721.6h2v3.8h-2zM251.3 1725.2h2v3.8h-2zM289 1725.2h2v3.8h-2zM367.9 1725.2h2v3.8h-2zM382.2 1725.2h2v3.8h-2zM308.7 1728.9h2v3.8h-2zM367.9 1728.9h2v3.8h-2zM376.8 1728.9h2v3.8h-2zM382.2 1728.9h2v3.8h-2zM297.9 1732.5h2v3.8h-2zM348.1 1732.5h2v3.8h-2zM382.2 1732.5h2v3.8h-2zM373.2 1736.1h2v3.8h-2zM228 1739.7h2v3.8h-2zM301.5 1743.4h2v3.8h-2zM292.5 1747h2v3.8h-2zM357.1 1747h2v3.8h-2zM362.5 1747h2v3.8h-2zM373.2 1747h2v3.8h-2z"/><path fill="#df0000" d="M163.4 1638.2h2v3.8h-2zM215.4 1660h2v3.8h-2zM226.2 1670.9h2v3.8h-2zM228 1674.5h3.8v3.8h-3.8zM249.5 1681.7h2v3.8h-2zM253.1 1689h2v3.8h-2zM263.9 1696.2h2v3.8h-2zM258.5 1699.9h2v3.8h-2zM289 1707.1h2v3.8h-2zM290.8 1714.4h2v3.8h-2zM375 1739.7h2v3.8h-2z"/><path fill="#ff0000" d="M165.2 1638.2h2v3.8h-2zM163.4 1641.9h2v3.8h-2zM176 1649.1h2v3.8h-2zM179.6 1649.1h2v3.8h-2zM172.4 1656.4h2v3.8h-2zM179.6 1656.4h2v3.8h-2zM188.5 1656.4h3.8v3.8h-3.8zM213.6 1656.4h2v3.8h-2zM186.7 1660h3.8v3.8h-3.8zM193.9 1660h2v3.8h-2zM202.9 1660h2v3.8h-2zM208.3 1663.6h2v3.8h-2zM222.6 1663.6h2v3.8h-2zM229.8 1667.2h3.8v3.8h-3.8zM238.8 1670.9h2v3.8h-2zM244.1 1678.1h3.8v3.8h-3.8zM254.9 1689h2v3.8h-2zM269.2 1699.9h2v3.8h-2zM283.6 1699.9h3.8v3.8h-3.8zM280 1703.5h2v3.8h-2zM294.3 1725.2h2v3.8h-2zM369.7 1736.1h2v3.8h-2zM294.3 1743.4h2v3.8h-2zM367.9 1743.4h2v3.8h-2zM376.8 1743.4h2v3.8h-2z"/><path fill="#ff8000" d="M168.8 1641.9h2v3.8h-2zM170.6 1649.1h2v3.8h-2zM174.2 1652.7h2v3.8h-2zM199.3 1660h2v3.8h-2zM231.6 1663.6h2v3.8h-2zM210.1 1667.2h3.8v3.8h-3.8zM222.6 1670.9h2v3.8h-2zM224.4 1674.5h2v3.8h-2zM242.3 1678.1h2v3.8h-2zM253.1 1685.4h2v3.8h-2zM285.4 1696.2h2v3.8h-2zM272.8 1703.5h2v3.8h-2zM280 1707.1h2v3.8h-2zM289 1714.4h2v3.8h-2zM292.5 1718h2v3.8h-2zM292.5 1732.5h2v3.8h-2z"/><path fill="#ffdf00" d="M177.8 1641.9h2v3.8h-2zM172.4 1649.1h2v3.8h-2zM211.9 1660h2v3.8h-2zM215.4 1663.6h2v3.8h-2zM206.5 1667.2h2v3.8h-2zM237 1667.2h2v3.8h-2zM245.9 1674.5h2v3.8h-2zM245.9 1681.7h3.8v3.8h-3.8zM253.1 1681.7h2v3.8h-2zM267.4 1699.9h2v3.8h-2zM280 1699.9h2v3.8h-2zM287.2 1699.9h2v3.8h-2zM256.7 1703.5h2v3.8h-2zM289 1703.5h2v3.8h-2zM290.8 1707.1h2v3.8h-2zM321.2 1718h2v3.8h-2zM294.3 1721.6h2v3.8h-2zM332 1725.2h2v3.8h-2zM305.1 1728.9h2v3.8h-2zM310.5 1728.9h2v3.8h-2zM335.6 1728.9h2v3.8h-2zM305.1 1732.5h3.8v3.8h-3.8zM296.1 1736.1h3.8v3.8h-3.8zM378.6 1736.1h3.8v3.8h-3.8zM382.2 1739.7h2v3.8h-2zM362.5 1743.4h2v3.8h-2zM294.3 1747h2v3.8h-2z"/><path fill="#20ffdf" d="M179.6 1641.9h2v3.8h-2zM186.7 1652.7h2v3.8h-2zM199.3 1656.4h5.6v3.8h-5.6zM170.6 1660h2v3.8h-2zM185 1663.6h5.6v3.8h-5.6zM238.8 1667.2h2v3.8h-2zM242.3 1670.9h2v3.8h-2zM267.4 1681.7h3.8v3.8h-3.8zM269.2 1685.4h2v3.8h-2zM256.7 1689h2v3.8h-2zM262.1 1699.9h2v3.8h-2zM254.9 1703.5h2v3.8h-2zM378.6 1718h2v3.8h-2zM328.4 1721.6h2v3.8h-2zM351.7 1721.6h2v3.8h-2zM351.7 1725.2h2v3.8h-2zM364.3 1725.2h2v3.8h-2zM301.5 1728.9h2v3.8h-2zM342.8 1728.9h2v3.8h-2zM349.9 1728.9h3.8v3.8h-3.8zM364.3 1728.9h2v3.8h-2zM380.4 1728.9h2v3.8h-2zM382.2 1736.1h2v3.8h-2zM358.9 1739.7h2v3.8h-2zM303.3 1747h2v3.8h-2zM358.9 1747h2v3.8h-2zM366.1 1747h3.8v3.8h-3.8z"/><path fill="#dfff20" d="M165.2 1645.5h2v3.8h-2zM181.4 1660h2v3.8h-2zM192.1 1663.6h2v3.8h-2zM219 1674.5h2v3.8h-2zM253.1 1696.2h2v3.8h-2zM272.8 1696.2h2v3.8h-2zM281.8 1707.1h2v3.8h-2zM285.4 1707.1h2v3.8h-2zM335.6 1725.2h2v3.8h-2zM375 1725.2h2v3.8h-2zM333.8 1728.9h2v3.8h-2zM355.3 1728.9h2v3.8h-2zM375 1728.9h2v3.8h-2zM301.5 1732.5h2v3.8h-2zM378.6 1732.5h2v3.8h-2zM292.5 1736.1h2v3.8h-2zM376.8 1736.1h2v3.8h-2zM292.5 1739.7h2v3.8h-2zM297.9 1739.7h2v3.8h-2zM312.3 1739.7h2v3.8h-2zM353.5 1739.7h2v3.8h-2zM297.9 1743.4h2v3.8h-2zM308.7 1743.4h2v3.8h-2zM312.3 1743.4h2v3.8h-2zM364.3 1743.4h2v3.8h-2z"/><path fill="#ff4000" d="M168.8 1652.7h2v3.8h-2zM193.9 1656.4h2v3.8h-2zM217.2 1660h2v3.8h-2zM204.7 1663.6h2v3.8h-2zM210.1 1663.6h2v3.8h-2zM217.2 1663.6h2v3.8h-2zM235.2 1667.2h2v3.8h-2zM235.2 1670.9h2v3.8h-2zM244.1 1674.5h2v3.8h-2zM247.7 1678.1h2v3.8h-2zM251.3 1689h2v3.8h-2zM271 1699.9h2v3.8h-2zM281.8 1703.5h2v3.8h-2zM290.8 1710.7h2v3.8h-2zM290.8 1725.2h2v3.8h-2zM324.8 1725.2h2v3.8h-2zM351.7 1736.1h2v3.8h-2zM360.7 1736.1h2v3.8h-2zM296.1 1739.7h2v3.8h-2zM364.3 1739.7h2v3.8h-2zM367.9 1739.7h3.8v3.8h-3.8zM344.6 1743.4h2v3.8h-2zM360.7 1743.4h2v3.8h-2zM371.5 1743.4h2v3.8h-2z"/><path fill="#ffff00" d="M176 1652.7h2v3.8h-2zM185 1652.7h2v3.8h-2zM210.1 1660h2v3.8h-2zM233.4 1660h2v3.8h-2zM195.7 1663.6h2v3.8h-2zM267.4 1663.6h2v3.8h-2zM204.7 1667.2h2v3.8h-2zM240.5 1670.9h2v3.8h-2zM263.9 1689h2v3.8h-2zM260.3 1692.6h2v3.8h-2zM267.4 1692.6h2v3.8h-2zM254.9 1699.9h2v3.8h-2zM283.6 1703.5h2v3.8h-2zM301.5 1736.1h2v3.8h-2zM306.9 1736.1h3.8v3.8h-3.8zM348.1 1736.1h2v3.8h-2zM367.9 1736.1h2v3.8h-2zM306.9 1739.7h2v3.8h-2zM348.1 1743.4h2v3.8h-2zM378.6 1743.4h2v3.8h-2z"/></g>
<rect x="145.5" y="1748.4" width="240.3" height="1.4" fill="#a8a8c8"/>
<line x1="342.8" y1="1516" x2="342.8" y2="1749" stroke="#4a6ab8" stroke-width="1"/>
<line x1="145.5" y1="1574" x2="385.8" y2="1574" stroke="#000" stroke-width="1.1" stroke-dasharray="1.3 4.7"/>
<line x1="145.5" y1="1633" x2="385.8" y2="1633" stroke="#000" stroke-width="1.1" stroke-dasharray="1.3 4.7"/>
<line x1="145.5" y1="1692.2" x2="385.8" y2="1692.2" stroke="#000" stroke-width="1.1" stroke-dasharray="1.3 4.7"/>
<line x1="190.8" y1="1515" x2="190.8" y2="1750.6" stroke="#000" stroke-width="1.1" stroke-dasharray="1.3 4.7"/>
<line x1="239.3" y1="1515" x2="239.3" y2="1750.6" stroke="#000" stroke-width="1.1" stroke-dasharray="1.3 4.7"/>
<line x1="287.4" y1="1515" x2="287.4" y2="1750.6" stroke="#000" stroke-width="1.1" stroke-dasharray="1.3 4.7"/>
<line x1="335.7" y1="1515" x2="335.7" y2="1750.6" stroke="#000" stroke-width="1.1" stroke-dasharray="1.3 4.7"/>
<rect x="145.5" y="1515" width="240.3" height="235.6" fill="none" stroke="#000" stroke-width="2.2"/>
<path d="M190.8 1515v6M190.8 1750.6v-6M239.3 1515v6M239.3 1750.6v-6M287.4 1515v6M287.4 1750.6v-6M335.7 1515v6M335.7 1750.6v-6M145.5 1574h6M385.8 1574h-6M145.5 1633h6M385.8 1633h-6M145.5 1692.2h6M385.8 1692.2h-6" stroke="#000" stroke-width="2.2" fill="none"/>
<text transform="translate(166.65 1565.36) scale(1.0750 1)" font-size="36.36" stroke="#fff" stroke-width="0.55" fill="#fff">(d)</text>
<text transform="translate(122.30 1586.16) scale(1.1179 1)" font-size="33.52" stroke="#000" stroke-width="0.55" fill="#000">3</text>
<text transform="translate(121.84 1644.40) scale(1.1906 1)" font-size="32.86" stroke="#000" stroke-width="0.55" fill="#000">2</text>
<text transform="translate(121.38 1700.50) scale(1.0000 1)" font-size="35.80" stroke="#000" stroke-width="0.55" fill="#000">1</text>
<text transform="translate(122.32 1753.68) scale(1.1447 1)" font-size="32.39" stroke="#000" stroke-width="0.55" fill="#000">0</text>
<text transform="translate(54.08 1720.56) rotate(-90) scale(1.2135 1)" font-size="30.59" stroke="#000" stroke-width="0.55" fill="#000">frequency</text>
<text transform="translate(97.58 1680.61) rotate(-90) scale(0.9181 1)" font-size="40.11" stroke="#000" stroke-width="0.55" fill="#000">(kHz)</text>
<text transform="translate(152.70 1780.94) scale(1.0497 1)" font-size="35.63" stroke="#000" stroke-width="0.55" fill="#000">0.8</text>
<text transform="translate(252.20 1780.94) scale(1.0537 1)" font-size="35.63" stroke="#000" stroke-width="0.55" fill="#000">0.9</text>
<text transform="translate(369.08 1781.60) scale(1.0000 1)" font-size="39.57" stroke="#000" stroke-width="0.55" fill="#000">1</text>
<text transform="translate(196.35 1814.70) scale(1.0474 1)" font-size="34.76" stroke="#000" stroke-width="0.55" fill="#000">time (s)</text>
<line x1="86" y1="2247" x2="791.8" y2="2247" stroke="#000" stroke-width="1.3" stroke-dasharray="1.6 5.8" stroke-dashoffset="-2.3"/>
<line x1="86" y1="2176.5" x2="791.8" y2="2176.5" stroke="#000" stroke-width="1.3" stroke-dasharray="1.6 5.8" stroke-dashoffset="-2.3"/>
<line x1="86" y1="2106" x2="791.8" y2="2106" stroke="#000" stroke-width="1.3" stroke-dasharray="1.6 5.8" stroke-dashoffset="-2.3"/>
<line x1="86" y1="2035.5" x2="791.8" y2="2035.5" stroke="#000" stroke-width="1.3" stroke-dasharray="1.6 5.8" stroke-dashoffset="-2.3"/>
<line x1="86" y1="1965" x2="791.8" y2="1965" stroke="#000" stroke-width="1.3" stroke-dasharray="1.6 5.8" stroke-dashoffset="-2.3"/>
<line x1="227.1" y1="1894.5" x2="227.1" y2="2317.8" stroke="#000" stroke-width="1.3" stroke-dasharray="2 11.3" stroke-dashoffset="-9"/>
<line x1="227.1" y1="2326.2" x2="227.1" y2="2410" stroke="#000" stroke-width="1.3" stroke-dasharray="1.5 4.5"/>
<line x1="368.2" y1="1894.5" x2="368.2" y2="2317.8" stroke="#000" stroke-width="1.3" stroke-dasharray="2 11.3" stroke-dashoffset="-9"/>
<line x1="368.2" y1="2326.2" x2="368.2" y2="2410" stroke="#000" stroke-width="1.3" stroke-dasharray="1.5 4.5"/>
<line x1="509.3" y1="1894.5" x2="509.3" y2="2317.8" stroke="#000" stroke-width="1.3" stroke-dasharray="2 11.3" stroke-dashoffset="-9"/>
<line x1="509.3" y1="2326.2" x2="509.3" y2="2410" stroke="#000" stroke-width="1.3" stroke-dasharray="1.5 4.5"/>
<line x1="650.4" y1="1894.5" x2="650.4" y2="2317.8" stroke="#000" stroke-width="1.3" stroke-dasharray="2 11.3" stroke-dashoffset="-9"/>
<line x1="650.4" y1="2326.2" x2="650.4" y2="2410" stroke="#000" stroke-width="1.3" stroke-dasharray="1.5 4.5"/>
<line x1="86.7" y1="2367.6" x2="793.2" y2="2367.6" stroke="#555" stroke-width="1.1" stroke-dasharray="1.6 5.8"/>
<polyline points="88,2288.6 90.5,2288.5 93,2288.3 95.5,2288.7 98.1,2288.6 100.6,2288.6 103.1,2288.5 105.6,2288.8 108.1,2288.7 110.6,2288.8 113.2,2288.4 115.7,2288.4 118.2,2288.3 120.7,2288.5 123.2,2287.9 125.7,2288.8 128.3,2288.5 130.8,2288.5 133.3,2288.7 135.8,2288.4 138.3,2288.6 140.8,2288.7 143.4,2288.2 145.9,2288.9 148.4,2288.5 150.9,2288.6 153.4,2288.3 155.9,2288.4 158.5,2288.9 161,2288.4 163.5,2288.4 166,2288.6 168.5,2288.8 171,2288 173.5,2288.8 176.1,2288.6 178.6,2288.7 181.1,2288.3 183.6,2288.6 186.1,2288.8 188.6,2288.5 191.2,2288.4 193.7,2288.4 196.2,2288.4 198.7,2288.7 201.2,2288.5 203.7,2288.4 206.3,2288.7 208.8,2288.3 211.3,2288.2 213.8,2289 216.3,2288.4 218.8,2288.9 221.4,2288.5 223.9,2288.5 226.4,2288.6 228.9,2288.3 231.4,2288.3 233.9,2288.5 236.5,2288.4 239,2288.7 241.5,2288.9 244,2288.3 246.5,2288.3 249,2288.7 251.5,2288.6 254.1,2288.7 256.6,2288.3 259.1,2288.6 261.6,2288.5 264.1,2288.2 266.6,2288.6 269.2,2288.2 271.7,2288.6 274.2,2288.4 276.7,2288.5 279.2,2289 281.7,2288.8 284.3,2288.6 286.8,2288.6 289.3,2288.3 291.8,2288.8 294.3,2288.6 296.8,2288.3 299.4,2288.1 301.9,2288.5 304.4,2288.5 306.9,2288.7 309.4,2288.3 311.9,2288.3 314.5,2288.6 317,2288.5 319.5,2288.7 322,2288.7 324.5,2288.3 327,2288 329.5,2288.5 332.1,2288.3 334.6,2288.6 337.1,2287.9 339.6,2288.5 342.1,2288.5 344.6,2288.4 347.2,2288.6 349.7,2288.5 352.2,2288.6 354.7,2288.8 357.2,2288.8 359.7,2288.8 362.3,2288.6 364.8,2288.5 367.3,2288.6 369.8,2288.6 372.3,2288.3 374.8,2288.6 377.4,2288.7 379.9,2288.4 382.4,2288.3 384.9,2288.6 387.4,2288.3 389.9,2288.2 392.5,2288.5 395,2288.2 397.5,2288.6 400,2288.4 402.5,2288.5 405,2288.8 407.5,2288.8 410,2288.5 412.5,2288 415,2288.4 417.5,2288.3 420.1,2288.7 422.6,2288.9 425.1,2288.7 427.6,2288.7 430.1,2288.6 432.6,2288.7 435.1,2288.5 437.6,2288.7 440.1,2288.5 442.6,2288.3 445.1,2288.6 447.6,2288.9 450.1,2288.5 452.6,2288.2 455.1,2288.8 457.6,2288.6 460.2,2288.7 462.7,2288.5 465.2,2288.7 467.7,2288.9 470.2,2288.4 472.7,2288.7 475.2,2288.6 477.7,2288.4 480.2,2288.6 482.7,2288.7 485.2,2288.4 487.7,2288.8 490.2,2288.3 492.7,2288.8 495.2,2288.7 497.8,2288.6 500.3,2288.4 502.8,2288.4 505.3,2288.1 507.8,2288.6 510.3,2288.6 512.8,2288.7 515.3,2288.8 517.8,2288.6 520.3,2288.5 522.8,2288.8 525.3,2288.6 527.8,2288.6 530.3,2288.4 532.8,2288.8 535.3,2288.5 537.9,2289 540.4,2288.4 542.9,2288.5 545.4,2288.6 547.9,2288.5 550.4,2288.3 552.9,2288.4 555.4,2288.4 557.9,2288.6 560.4,2288.8 562.9,2288.8 565.4,2288.7 567.9,2288.8 570.4,2288.2 572.9,2288.5 575.4,2288.5 578,2288.4 580.5,2288.7 583,2288.5 585.5,2288.4 588,2288.8 590.5,2288.5 593,2288.6 595.5,2288.3 598,2288.9 600.5,2288.7 603,2289 605.5,2289.1 608,2288.8 610.5,2288.6 613,2288.5 615.6,2289 618.1,2288.6 620.6,2288.8 623.1,2288.7 625.6,2288 628.1,2288.7 630.6,2288.7 633.1,2288.7 635.6,2288.7 638.1,2288.7 640.6,2288.5 643.1,2288.8 645.6,2288.6 648.1,2288.7 650.6,2289 653.1,2288.7 655.7,2288.5 658.2,2288.8 660.7,2288.4 663.2,2288.7 665.7,2289 668.2,2288.5 670.7,2288.7 673.2,2288.5 675.7,2288.8 678.2,2288.8 680.7,2288.8 683.2,2288.7 685.7,2288.3 688.2,2288.5 690.7,2288.6 693.2,2288.9 695.8,2288.3 698.3,2289 700.8,2288.6 703.3,2288.4 705.8,2289 708.3,2288.8 710.8,2288.5 713.3,2288.8 715.8,2288.9 718.3,2288.4 720.8,2289 723.3,2288.6 725.8,2288.9 728.3,2288.6 730.8,2288.4 733.4,2288.6 735.9,2288.7 738.4,2288.8 740.9,2288.4 743.4,2288.6 745.9,2288.8 748.4,2288.7 750.9,2288.7 753.4,2288.9 755.9,2288.5 758.4,2289.2 760.9,2288.6 763.4,2288.9 765.9,2288.8 768.4,2289 770.9,2288.7 773.5,2288.6 776,2288.8 778.5,2288.9 781,2288.8 783.5,2289.2 786,2289 788.5,2289.1 791,2289.1" fill="none" stroke="#008000" stroke-width="9.5" stroke-linejoin="round" stroke-linecap="round"/>
<polyline points="93,2220.3 95.5,2220.1 98,2219.7 100.5,2220.9 103.1,2219.3 105.6,2220 108.1,2220.4 110.6,2220.3 113.1,2220.3 115.6,2219.5 118.2,2220.9 120.7,2219.7 123.2,2220 125.7,2220 128.2,2220 130.7,2219.8 133.3,2220.7 135.8,2220 138.3,2220.5 140.8,2219.3 143.3,2220.3 145.8,2219.9 148.4,2220.2 150.9,2220.1 153.4,2220.2 155.9,2220 158.4,2220 160.9,2220.1 163.5,2220.1 166,2220 168.5,2219.8 171,2220.2 173.5,2219.6 176,2221 178.6,2220.4 181.1,2220.7 183.6,2220 186.1,2219.4 188.6,2219.3 191.1,2219.6 193.7,2219.7 196.2,2219.8 198.7,2219.8 201.2,2220.3 203.7,2218.9 206.2,2220.8 208.8,2219.8 211.3,2220.1 213.8,2219.2 216.3,2220.1 218.8,2219.3 221.3,2220.2 223.9,2220.1 226.4,2220.1 228.9,2219.9 231.4,2219.9 233.9,2219.9 236.4,2220.4 239,2220 241.5,2220.1 244,2221.1 246.5,2220 249,2219.6 251.5,2219 254,2218.9 256.6,2220.1 259.1,2220.4 261.6,2219.5 264.1,2219.5 266.6,2219.9 269.1,2220.1 271.7,2220.4 274.2,2219.9 276.7,2219.7 279.2,2220.3 281.7,2219.6 284.2,2219.3 286.8,2219.5 289.3,2219.9 291.8,2219.8 294.3,2220 296.8,2220 299.3,2221.1 301.9,2220.2 304.4,2219 306.9,2219.3 309.4,2220.1 311.9,2219.6 314.4,2221 317,2219.8 319.5,2219.8 322,2220.1 324.5,2219.9 327,2220.2 329.5,2219.9 332.1,2220.1 334.6,2219.7 337.1,2218.8 339.6,2220.2 342.1,2220.8 344.6,2219.6 347.2,2219.7 349.7,2220.4 352.2,2219.8 354.7,2220.1 357.2,2219.9 359.7,2220.3 362.3,2219.9 364.8,2220.9 367.3,2220 369.8,2219.9 372.3,2219.3 374.8,2220 377.4,2219.6 379.9,2220.3 382.4,2220.3 384.9,2221.2 387.4,2219.6 389.9,2220.1 392.5,2220.5 395,2219.1 397.5,2220.3 400,2220.8 402.5,2220 405,2220 407.5,2220.6 410,2220.1 412.5,2220.1 415,2220.4 417.5,2219.6 420,2220.9 422.5,2219.8 425,2220 427.5,2219.8 430,2218.8 432.5,2219.2 435,2219.8 437.5,2220 440.1,2220.5 442.6,2221.2 445.1,2220.3 447.6,2219.9 450.1,2219.7 452.6,2220.6 455.1,2219.7 457.6,2220 460.1,2220.6 462.6,2219.9 465.1,2219.9 467.6,2220 470.1,2219.2 472.6,2219.9 475.1,2220 477.6,2220.1 480.1,2219.8 482.6,2219 485.1,2219.6 487.6,2220.3 490.1,2219.6 492.6,2219.5 495.1,2220.2 497.6,2220.2 500.1,2220 502.6,2220.2 505.1,2220.3 507.6,2220.2 510.1,2220.1 512.6,2220.8 515.1,2219.4 517.6,2221 520.2,2220.1 522.7,2219.6 525.2,2220.3 527.7,2220.4 530.2,2219.4 532.7,2220 535.2,2220.3 537.7,2220.3 540.2,2220 542.7,2219.4 545.2,2219.9 547.7,2220.9 550.2,2219.5 552.7,2221.3 555.2,2219.9 557.7,2219.9 560.2,2219.7 562.7,2220 565.2,2220 567.7,2219.5 570.2,2220.9 572.7,2220.5 575.2,2220.1 577.7,2219.3 580.2,2219.7 582.7,2219.8 585.2,2220.3 587.7,2219.9 590.2,2219.4 592.7,2219.8 595.2,2219.8 597.8,2219.9 600.3,2220.3 602.8,2219.6 605.3,2219.2 607.8,2220.4 610.3,2220.4 612.8,2219.3 615.3,2220.2 617.8,2219.7 620.3,2220.2 622.8,2220.1 625.3,2219.3 627.8,2219.4 630.3,2219.8 632.8,2219.3 635.3,2219.3 637.8,2219.5 640.3,2219.8 642.8,2219.8 645.3,2219.5 647.8,2219.8 650.3,2220.4 652.8,2220.1 655.3,2220.1 657.8,2219.6 660.3,2219.6 662.8,2219.3 665.3,2219.5 667.8,2219 670.3,2219.8 672.8,2219.7 675.4,2219.6 677.9,2219.6 680.4,2219.3 682.9,2220.2 685.4,2220.1 687.9,2220.4 690.4,2220 692.9,2219.8 695.4,2220.3 697.9,2219.3 700.4,2219.2 702.9,2220.3 705.4,2220.1 707.9,2220 710.4,2220.5 712.9,2219.8 715.4,2220 717.9,2220 720.4,2219.3 722.9,2220 725.4,2220.1 727.9,2219.8 730.4,2219.5 732.9,2219.5 735.4,2218.8 737.9,2219.5 740.4,2220.5 742.9,2220.4 745.4,2219.8 747.9,2219.5 750.4,2220.4 752.9,2220.3 755.5,2220.1 758,2219.5 760.5,2220.2 763,2220.3 765.5,2219.6 768,2219.4 770.5,2219.6 773,2219.9 775.5,2220 778,2220.1 780.5,2219.8 783,2219.6 785.5,2220 788,2220.3 790.5,2219.9 793,2220.1" fill="none" stroke="#ff0000" stroke-width="10" stroke-linejoin="round" stroke-linecap="round"/>
<polyline points="88,2169.2 90.6,2169.6 93.2,2170.2 95.8,2169.5 98.3,2165.8 100.9,2164 103.5,2167.1 106.1,2169.6 108.7,2169.5 111.2,2169.3 113.8,2168.4 116.4,2170 119,2168.8 121.6,2167.2 124.2,2166.6 126.8,2166.7 129.3,2168.5 131.9,2170.5 134.5,2169.8 137.1,2170 139.7,2169.2 142.2,2169.4 144.8,2166.7 147.4,2166.8 150,2166.8 152.5,2168.6 155,2169.8 157.5,2169.6 160,2171.4 162.5,2170.3 165,2169.6 167.5,2170 170,2169.5 172.5,2166.9 175,2166.9 177.5,2167.9 180,2169.1 182.5,2169.8 185,2170 187.5,2169.3 190,2169 192.5,2169.7 195,2169.1 197.5,2168.3 200,2168.1 202.5,2166.6 205,2167 207.5,2167.5 210,2169.2 212.5,2169.1 215,2169.3 217.5,2169.2 220,2169.3 222.5,2169 225,2167.4 227.5,2165.2 230,2163.7 232.5,2165.2 235,2167.7 237.5,2168.8 240,2167.6 242.5,2168.4 245,2168.5 247.5,2168.8 250,2167.6 252.5,2165.8 255,2165.8 257.5,2166.9 260,2168.6 262.5,2168.4 265,2167.8 267.5,2168.3 270,2167.9 272.5,2169.5 275,2167.5 277.5,2165 280,2164 282.5,2167.2 285,2168.5 287.5,2168.3 290,2167.5 292.5,2167.7 295,2167.6 297.5,2168.3 300,2166.7 302.5,2165.6 305,2167.4 307.5,2166.5 310,2168 312.5,2168.1 315,2167.2 317.5,2168.7 320,2167.6 322.5,2164.3 325,2164.3 327.5,2168.2 330,2167.6 332.5,2167.6 335,2167.2 337.5,2167.1 340,2168.9 342.5,2166.6 345,2164.3 347.5,2165.5 350,2167.9 352.5,2167.1 355,2167.7 357.5,2166.9 360,2166.5 362.5,2167.6 365,2166.7 367.5,2163.5 370,2164 372.5,2165.6 375,2167.4 377.5,2168.3 380,2167.1 382.5,2167.3 385,2168 387.5,2168.7 390,2167.2 392.5,2165.6 395,2165.8 397.5,2165.9 400,2168.1 402.5,2167.1 405,2168.5 407.5,2167.1 410,2165.5 412.5,2163.9 415,2162.4 417.5,2162.5 420,2166.3 422.5,2166.8 425,2167 427.5,2165.7 430,2166.7 432.5,2166.9 435,2165.9 437.5,2166.5 440,2164 442.6,2161.6 445.3,2164.1 447.9,2164.3 450.5,2166.2 453.2,2166.2 455.8,2167.4 458.5,2166.2 461.1,2165.7 463.7,2165.7 466.4,2165.9 469,2164.9 471.8,2162.3 474.5,2162.8 477.2,2162 480,2162.1 482.7,2161.6 485.4,2160.6 488.1,2159.8 490.8,2159 493.5,2157.7 496.1,2157 498.7,2155.9 501.3,2154.1 503.9,2155.6 506.5,2157.8 509.1,2157.6 511.8,2157.6 514.4,2157.9 517,2157.6 519.6,2156.6 522.2,2155.6 524.8,2152.6 527.4,2154.2 530,2156.7 532.6,2157 535.3,2156.5 537.9,2157.1 540.6,2156.6 543.2,2156.2 545.9,2156.7 548.5,2154.2 551.1,2154.2 553.8,2155.5 556.4,2157.5 559.1,2157.3 561.7,2155.2 564.4,2154.9 567,2155.5 569.5,2155.7 572.1,2151.3 574.6,2150.8 577.2,2153.5 579.7,2154.1 582.2,2155 584.8,2154.1 587.3,2154.6 589.8,2154.1 592.4,2153.8 594.9,2153.6 597.5,2153.3 600,2152.3 602.5,2150 605,2152.4 607.5,2152.6 610,2153.8 612.5,2153.4 615,2152.1 617.5,2152.5 620,2153.1 622.5,2149.4 625,2147.1 627.5,2149.8 630,2151.8 632.5,2152.3 635,2151.9 637.5,2151.4 640,2151.4 642.5,2150.2 645,2148 647.5,2147.5 650,2150.1 652.5,2151 655,2151.2 657.5,2150.6 660,2150.2 662.5,2150.9 665,2150.8 667.5,2149.2 670,2146.6 672.5,2149.4 675,2150 677.5,2151.4 680,2148.7 682.6,2150.5 685.2,2149.3 687.8,2148.2 690.4,2145.5 693,2145.4 695.6,2144.9 698.2,2147.8 700.8,2149.2 703.4,2148.8 706,2149.6 708.6,2148.3 711.2,2148.6 713.8,2146.1 716.4,2145.1 719,2144 721.6,2146.7 724.1,2147.8 726.7,2149.5 729.3,2148 731.9,2149.4 734.5,2149.4 737.1,2147.7 739.7,2147.8 742.2,2145.5 744.8,2143.6 747.4,2146.8 750,2148 752.6,2148.6 755.3,2148.6 757.9,2146.5 760.6,2147.2 763.2,2147.4 765.9,2147.5 768.5,2145.1 771.2,2142.3 773.8,2143.3 776.5,2145.5 779.1,2145.4 781.8,2145.2 784.4,2145.1 787.1,2145.3 789.7,2146.3" fill="none" stroke="#0000ff" stroke-width="10.5" stroke-linejoin="round" stroke-linecap="round"/>
<polyline points="88,2053.3 90.5,2053.9 93,2054.6 95.6,2053.1 98.1,2054.4 100.6,2053.7 103.1,2054.5 105.7,2053.8 108.2,2053.9 110.7,2054.2 113.2,2053.7 115.8,2054 118.3,2053.9 120.8,2054.7 123.3,2054.1 125.9,2053.2 128.4,2054.2 130.9,2054.1 133.4,2054 136,2054.6 138.5,2054.5 141,2053.2 143.5,2054.6 146,2053.7 148.6,2053.7 151.1,2053.7 153.6,2053.9 156.1,2054.3 158.7,2053.3 161.2,2053.8 163.7,2053.6 166.2,2053.8 168.8,2053.7 171.3,2054.2 173.8,2054.3 176.3,2053.4 178.9,2054 181.4,2053.1 183.9,2054 186.4,2054.2 189,2053.8 191.5,2055.1 194,2054.1 196.5,2053.5 199,2054.1 201.6,2053.5 204.1,2054.1 206.6,2053.8 209.1,2053.9 211.7,2052.6 214.2,2053.5 216.7,2054.3 219.2,2054.3 221.8,2054.3 224.3,2054 226.8,2054.4 229.3,2054.4 231.9,2054.2 234.4,2054.5 236.9,2054.4 239.4,2053.7 242,2054.2 244.5,2054.4 247,2053.8 249.5,2053 252,2053.8 254.6,2054.1 257.1,2052.7 259.6,2053.2 262.1,2053.4 264.7,2054.7 267.2,2054.3 269.7,2053.8 272.2,2054.4 274.8,2054.1 277.3,2053.2 279.8,2053.7 282.3,2054.4 284.9,2053.8 287.4,2055.1 289.9,2053.7 292.4,2053.7 295,2053.8 297.5,2054 300,2053.9 302.5,2054.6 305,2055 307.5,2053.8 310,2053.2 312.5,2053.8 315,2054 317.5,2054.8 320.1,2054.3 322.6,2054 325.1,2055.3 327.6,2053.4 330.1,2053.4 332.6,2054.7 335.1,2054.3 337.6,2054 340.1,2053.3 342.6,2054.1 345.1,2054.1 347.6,2053.6 350.1,2054 352.6,2053.2 355.1,2054.5 357.7,2053.4 360.2,2054.4 362.7,2053.5 365.2,2053.5 367.7,2053.9 370.2,2053.5 372.7,2054.3 375.2,2053.5 377.7,2054 380.2,2054.3 382.7,2054.4 385.2,2054.4 387.7,2053.9 390.2,2054.9 392.8,2053.9 395.3,2053.7 397.8,2054.1 400.3,2054.9 402.8,2053.1 405.3,2053.7 407.8,2054.7 410.3,2054 412.8,2053.3 415.3,2054.3 417.8,2054.3 420.3,2053.9 422.8,2053.3 425.3,2053.8 427.8,2053.6 430.4,2054.6 432.9,2053.4 435.4,2053 437.9,2054.1 440.4,2053.8 442.9,2054.6 445.4,2052.7 447.9,2053.8 450.4,2054.4 452.9,2053.8 455.4,2054.1 457.9,2053.6 460.4,2054.8 462.9,2053.3 465.4,2053.9 468,2053.9 470.5,2053.9 473,2054.3 475.5,2053.9 478,2054 480.5,2054.2 483,2054.1 485.5,2054.4 487.5,2049.5 487.6,2048.2 487.8,2044 487.9,2041.4 488,2039.3 488.1,2036.6 488.2,2034.9 488.4,2032.3 488.5,2030 488.6,2027.4 488.8,2024.7 488.9,2023.3 489,2018.9 489.1,2016.7 489.2,2014 489.4,2012.2 489.5,2009 489.6,2006.2 489.8,2003.4 489.9,2001.4 490,1998.3 490.1,1996.6 490.2,1994 490.4,1991.2 490.5,1988.8 490.6,1986.2 490.8,1984.1 490.9,1980.7 491,1977.9 491.1,1975.6 491.2,1973 491.4,1970.9 491.5,1967.9 493.5,1964.1 496.8,1964.8 500,1965.3 502.5,1964.6 505,1965.5 507.5,1965.9 510,1964.7 512.5,1964.9 515,1964.8 517.5,1964.1 520,1965.1 522.5,1964.2 525,1964.9 527.5,1965.4 530,1966.2 532.5,1965.5 535,1965.2 537.5,1965.7 540,1965.3 542.5,1965 545,1965.8 547.5,1965 550,1965.7 552.5,1966.1 555,1965.2 557.5,1965.1 560,1964.5 562.5,1965.4 565,1965.3 567.5,1965.8 570,1965.5 572.5,1965.1 575,1965.4 577.5,1965.6 580,1964.9 582.5,1965.5 585,1965.4 587.5,1965.7 590,1966 592.5,1966.1 595,1964.7 597.5,1965 600,1966.4 602.5,1966.3 605,1965.3 607.5,1964.9 610.1,1965.6 612.6,1965.4 615.1,1965.2 617.6,1965.3 620.1,1966.4 622.6,1965.7 625.1,1966.4 627.6,1965.7 630.2,1965.4 632.7,1966.5 635.2,1966.1 637.7,1965.8 640.2,1966.2 642.7,1965.5 645.2,1965.2 647.8,1965.2 650.3,1965.2 652.8,1965.4 655.3,1965.6 657.8,1966.1 660.3,1965.9 662.8,1965.3 665.3,1965.3 667.9,1964.6 670.4,1966.6 672.9,1965.3 675.4,1966.3 677.9,1965.3 680.4,1965.5 682.9,1965.7 685.4,1966.1 688,1965.9 690.5,1965.2 693,1965.8 695.5,1966.4 698,1965.8 700.5,1965.5 703,1966.2 705.6,1966.5 708.1,1966.2 710.6,1966.1 713.1,1965 715.6,1965.9 718.1,1965.9 720.6,1966.5 723.1,1965.6 725.7,1966.3 728.2,1965.7 730.7,1965.9 733.2,1965.6 735.7,1966.5 738.2,1966.2 740.7,1965.6 743.2,1965.5 745.8,1965.2 748.3,1965.7 750.8,1965.9 753.3,1965.9 755.8,1965.5 758.3,1966 760.8,1966.2 763.4,1965.8 765.9,1965.6 768.4,1965.9 770.9,1965.6 773.4,1966.1 775.9,1966.1 778.4,1966.8 780.9,1966 783.5,1965.2 786,1967.2 788.5,1966 791,1965" fill="none" stroke="#000" stroke-width="9.8" stroke-linejoin="round" stroke-linecap="round"/>
<polyline points="86.2,2397.6 87.5,2354 88.5,2361.8 89.5,2369.1 90.5,2372.5 91.5,2378.5 92.5,2385.6 93.5,2384.1 94.5,2387.4 95.5,2390.2 96.5,2389.1 97.5,2392.8 98.5,2395 99.2,2398.4 100.5,2351.9 101.5,2359.2 102.5,2367.8 103.5,2372.5 104.5,2378.4 105.5,2382 106.5,2385 107.5,2386.6 108.5,2391.3 109.5,2391.6 110.5,2393.5 111.5,2394 112.5,2394.4 113.5,2396 114.5,2396.2 115.5,2396.8 116.5,2397.1 116.7,2398.3 118,2374.6 119,2380.8 120,2385.4 121,2389.5 122,2390.1 123,2394.1 124,2391.5 125,2394.2 126,2396.1 127,2396 128,2397.7 129,2395.1 130,2396.1 131,2396.1 132,2398 132.2,2399.3 133.5,2351.9 134.5,2359.3 135.5,2367.1 136.5,2372.3 137.5,2379.1 138.5,2382.7 139.5,2385.9 140.5,2386.7 141.5,2389.3 142.5,2390.6 143.5,2392 144.5,2393.4 145.5,2395.1 145.7,2397.5 147,2342 148,2354.2 149,2361.4 150,2370.5 151,2375.4 152,2378.8 153,2382.8 154,2386.5 155,2386.9 156,2391.1 157,2391.5 158,2393.1 159,2393.3 160,2394.7 161,2394.5 162,2395 162.2,2398.7 163.5,2354 164.5,2363.4 165.5,2369.5 166.5,2373.2 167.5,2378.9 168.5,2382.1 169.5,2385.6 170.5,2387.4 171.5,2389.5 172.5,2392.1 173.5,2392.7 174.5,2394.1 175.5,2394.4 176.5,2394.6 177.5,2395.7 178.5,2394.9 179.5,2397.3 180.5,2398.5 180.7,2398.5 182,2372.5 183,2380.2 184,2382.8 185,2388.8 186,2391.2 187,2392.7 188,2392.8 189,2395.5 190,2395.4 191,2395.7 191.1,2398.6 192.4,2347.7 193.4,2357.7 194.4,2364.2 195.4,2371.3 196.4,2380.5 197.4,2379.5 198.4,2384.6 199.4,2386.5 200.4,2388.2 201.4,2391.3 202.4,2390.6 203.4,2391.4 204.4,2394.4 205.4,2395.5 206.4,2395.4 207.4,2397.6 207.7,2398.3 209,2354 210,2362.7 211,2367.5 212,2376.5 213,2378.7 214,2382.8 215,2386.4 216,2387.5 217,2390.6 218,2391.9 219,2394.3 220,2392.9 221,2394.8 222,2395.6 223,2395.5 224,2395.4 225,2397.3 226,2396.8 226.2,2397.8 227.5,2358 228.5,2365.6 229.5,2371.8 230.5,2376 231.4,2398.2 232.7,2329 233.7,2340.8 234.7,2353.4 235.7,2361.7 236.7,2370.2 237.7,2373.3 238.7,2379.4 239.7,2382 240.7,2385.3 241.7,2386.3 242.7,2392.9 243.7,2392.3 244.7,2393.5 245.7,2394 246.7,2393.5 247.7,2393.9 248.7,2394.6 249,2398.8 250.3,2347.7 251.3,2356.3 252.3,2364.9 253.3,2371.4 254.3,2376.4 255.3,2380 256.3,2383.4 257.3,2386.8 258.3,2388.9 259.3,2389.5 260.3,2393.3 261.3,2394.3 262.3,2395.2 263.3,2395.7 264.3,2395.3 265.3,2398.1 266.3,2396.1 267.3,2398 268.3,2397.9 269.3,2399.5 270.3,2399 271.3,2397.6 272.3,2398.5 272.5,2398.3 273.8,2355 274.8,2364.6 275.8,2371.1 276.8,2375 277.8,2379.8 278.8,2383.5 279.2,2399 280.5,2352 281.5,2361.7 282.5,2368.4 283.5,2374 284.5,2378.3 285.5,2381.5 285.9,2398.9 287.2,2356 288.2,2365.5 289.2,2372.7 290.2,2375.6 291.2,2380.7 292.2,2383.1 293.2,2386.5 294.2,2387.9 294.4,2398.6 295.7,2368 296.7,2375 297.7,2381.3 298.7,2386.4 299.7,2387.8 300.7,2390.7 301.7,2392.4 302.7,2395.2 303.4,2398.6 304.7,2369.4 305.7,2376.6 306.7,2382.1 307.7,2387.2 308.7,2391.5 309.7,2391.3 310.7,2393.9 311.7,2394.9 312.7,2394.7 313.7,2395 314.7,2396.4 314.8,2398.3 316.1,2374.6 317.1,2380.5 318.1,2384.6 319.1,2387.5 320.1,2392.7 321.1,2390.5 322.1,2392.7 323.1,2396.8 324.1,2396.7 325.1,2396.5 326.1,2396.5 327.1,2399.8 328.1,2398.2 329.1,2397.4 329.3,2398.8 330.6,2329.1 331.6,2344.3 332.6,2353.4 333.6,2361.7 334.6,2368.8 335.6,2374.8 336.6,2378 337.6,2382.5 338.6,2386.3 339.6,2390.9 340.6,2388.6 341.6,2391.7 342.6,2391.8 343.6,2397.4 344.6,2393.8 344.7,2398.1 346,2376.6 347,2383.2 348,2387.5 349,2387.9 350,2393.6 351,2394.2 352,2395.6 353,2395.7 354,2394.8 355,2400 356,2396.4 357,2397.4 358,2397.4 358.2,2399.1 359.5,2353.9 360.5,2361.7 361.5,2368.5 362.5,2375.3 363.5,2379.8 364.5,2382.9 365.5,2386 366.5,2388.9 367.5,2390.2 368.5,2391.1 369.5,2392.9 370.5,2395.5 371.5,2396.1 371.6,2399.2 372.9,2353.9 373.9,2363.5 374.9,2369.1 375.9,2374.8 376.9,2379.4 377.9,2382 378.9,2384.6 379.9,2387.1 380.9,2390.2 381.9,2391.3 382.9,2393.3 383.9,2395.2 384.9,2395.1 385.9,2395.2 386.1,2398.1 387.4,2361.1 388.4,2369.1 389.4,2377.3 390.4,2382 391.4,2387.1 392.4,2388.6 393.4,2391.4 394.4,2391.6 395.4,2395.4 396.4,2394.1 397.4,2395.2 398.4,2397.1 399.4,2395.8 400.4,2398.4 401.4,2399.9 402.4,2395.9 403.4,2398 404.4,2399.9 405.4,2399.2 406.4,2396.7 407.4,2397.4 407.7,2398.4 409,2379.7 410,2382.4 411,2385.5 412,2389.7 413,2392.3 414,2393.4 415,2396 416,2395.8 417,2396.8 417.1,2399 418.4,2374.6 419.4,2381.1 420.4,2383.6 421.4,2387.6 422.4,2390.6 423.4,2390.7 424.4,2393.8 425.4,2394.6 426.4,2395 427.4,2396.8 427.6,2398.1 428.9,2343.5 429.9,2355.3 430.9,2363.3 431.9,2369.2 432.9,2374.7 433.9,2379.6 434.9,2381.5 435.9,2386.6 436.9,2388.4 437.9,2390.8 438.9,2392.8 439.9,2391 440.9,2399 442.2,2357.3 443.2,2366.4 444.2,2371.5 445.2,2376.2 446.2,2380 447.2,2385 448.2,2384.4 449.2,2387.5 450.2,2389.6 451.2,2394.7 452.2,2390.2 453.2,2393.6 454.2,2395.6 455.2,2396.4 456.2,2397.1 457.2,2396.3 457.6,2397.1 458.9,2378.1 459.9,2381.8 460.9,2386.2 461.9,2389.7 462.9,2391.7 463.9,2393.8 464.9,2394.9 465.9,2396.6 466.9,2394.5 467.9,2397.7 468.9,2399.4 469.9,2398.2 470.9,2398.8 471.9,2394.9 472.9,2398.7 473.9,2398 474.9,2398.3 475.6,2399.6 476.9,2372.3 477.9,2378.4 478.9,2386.8 479.9,2386 480.9,2390.7 481.9,2392.4 482.9,2394.3 483.9,2396.2 484.9,2395.9 485.9,2397 486.9,2395 487.9,2395.9 488.9,2396.9 489.9,2398.7 491.2,2326.2 492.2,2340.9 493.2,2349.5 494.2,2359.3 495.2,2366.9 496.2,2372.9 497.2,2377.6 498.2,2380.3 499.2,2383.3 500.2,2388.2 501.2,2387.9 502.2,2393 503.2,2392.8 504.2,2393.5 504.9,2398.7 506.2,2383.9 507.2,2386.6 508.2,2389.2 509.2,2392.4 510.2,2392 511.2,2396.4 512.2,2395.9 513.2,2397 513.7,2399 515,2345.8 516,2356.5 517,2364.1 518,2369 519,2376 520,2380.5 521,2383.3 522,2385.6 523,2388.6 524,2390.2 525,2390.5 526,2392.4 527,2392.7 528,2393.5 528.4,2398.2 529.7,2375.8 530.7,2380.5 531.7,2385.5 532.7,2387.8 533.7,2392.1 534.7,2392.4 535.7,2394.6 536.7,2394.8 537.7,2396.4 538.7,2395.3 539.7,2398.3 540.7,2398.4 541.7,2398.5 542.7,2398.1 543.7,2398 544.7,2397.8 545.7,2396.5 546.7,2399 547.7,2398.8 548.7,2400.3 549.7,2398.4 550.7,2397 551,2398.6 552.3,2335.4 553.3,2349.2 554.3,2358.2 555.3,2363.4 556.3,2370.7 557.3,2377.1 558.3,2379.9 559.3,2384.1 560.3,2386.3 561.3,2389.7 562.3,2390 563.3,2394.1 564.3,2393.5 565.3,2393 566.3,2395.6 567.3,2395.2 568.3,2396.3 569.3,2399.9 570.3,2398.1 571.3,2398.6 571.8,2398.5 573.1,2345.8 574.1,2356 575.1,2362.2 576.1,2369.8 577.1,2375.2 578.1,2379.5 579.1,2382.2 580.1,2386.3 581.1,2389.4 582.1,2391.6 583.1,2392.5 584.1,2395.5 585.1,2393.7 586.1,2394.6 587.1,2394.8 588.1,2395.8 589.1,2398.3 590.1,2398.4 591.1,2400.4 592.1,2399 593.1,2399.3 594.1,2398.1 595.1,2398.7 596.1,2398.2 597.1,2399.8 598.1,2397.6 599.1,2398.8 600.1,2398.5 601.1,2398.6 602.1,2396.5 603.1,2400.6 603.7,2397.8 605,2383.5 606,2389.2 607,2389.1 608,2392.5 609,2393.9 610,2395.3 611,2396.6 612,2397.4 612.8,2399.7 614.1,2331.1 615.1,2343.1 616.1,2355.5 617.1,2364 618.1,2367 619.1,2374.1 620.1,2377.4 621.1,2382.7 622.1,2384.9 623.1,2389.1 624.1,2388.8 625.1,2393.3 626.1,2393.8 627.1,2395.7 628.1,2392.4 629.1,2394.4 630.1,2395.6 631.1,2398.1 632.1,2399.4 633.1,2396.6 634.1,2399.2 635.1,2398.6 636.1,2399.2 637.1,2397.8 638.1,2398.4 639.1,2398.4 640.1,2399.7 641.1,2397.8 642.1,2396.4 643.1,2398.5 644.1,2401 645.1,2399.6 646.1,2399.1 647.4,2328.6 648.4,2341.9 649.4,2353.2 650.4,2361 651.4,2367 652.4,2373.9 653.4,2377.4 654.4,2382.9 655.4,2382.9 656.4,2387.1 657.4,2390.7 658.4,2391.6 659.4,2392.4 660.4,2396 661.4,2395.4 662.4,2395.8 663.4,2397.9 664.4,2398.3 665.4,2398.9 666.4,2396.1 667.4,2398.1 668.4,2398.9 669.4,2397.4 670.4,2399.5 671.4,2399.8 672.4,2398.7 673.4,2397.9 674.4,2397.4 675.4,2400 676.4,2401.2 677.4,2398.9 678.4,2399.6 679.4,2400.3 680.1,2398.5 681.4,2327.4 682.4,2342.3 683.4,2350.7 684.4,2359.8 685.4,2369.6 686.4,2372.6 687.4,2379.2 688.4,2379.9 689.4,2383.6 690.4,2388.8 691.4,2389.2 692.4,2390.1 693.4,2391.7 694.4,2392.4 695.4,2394.9 696.4,2395.1 697.4,2394.8 698.4,2396.3 699.4,2396.5 700.4,2398.6 701.4,2397.6 702.4,2399 703.4,2397.3 704.4,2398.8 705.4,2397.2 706.4,2397.6 707.4,2400.2 708.4,2399.2 709.4,2398.5 710.4,2399 711,2398.1 712.3,2334.7 713.3,2345.1 714.3,2357.9 715.3,2366.2 716.3,2372.1 717.3,2377.5 718.3,2379.1 719.3,2384.5 720.3,2386.8 721.3,2389.3 722.3,2391 723.3,2391.4 724.3,2393.8 725.3,2393.3 726.3,2394.6 727.3,2396 728.3,2394.6 729.3,2397.6 730.3,2398.3 731.3,2399.6 732.3,2400.6 733.3,2399.5 733.6,2398.5 734.9,2340.8 735.9,2350.9 736.9,2360.4 737.9,2367.8 738.9,2374.2 739.9,2377.2 740.9,2380.6 741.9,2384.4 742.9,2387.5 743.9,2391 744.9,2391.3 745.9,2392.9 746.9,2394.3 747.9,2394.5 748.9,2395.5 749.9,2395.9 750.9,2400.5 751.9,2398.3 752.9,2398.6 753.9,2398.1 754.7,2399.1 756,2348.1 757,2359.7 758,2368.5 759,2372.4 760,2375.8 761,2380.1 762,2383.8 763,2386.5 764,2388.3 765,2393.5 766,2390.7 767,2394 768,2395.5 769,2395.5 770,2396.3 771,2397.3 772,2398.6 773.3,2380.4 774.3,2385 775.3,2387.7 776.3,2390.5 777.3,2391.2 778.3,2392 779.3,2395.4 780.3,2397.5 781.3,2395.9 782.3,2394.8 783.3,2397.7 784.3,2398 785.3,2397.3 786.3,2397.1 787.3,2397.4 788.3,2398.5 789.3,2398.8 790.3,2397.8 790.7,2398.5 792,2337" fill="none" stroke="#111" stroke-width="4.2" stroke-linejoin="round" stroke-linecap="round"/>
<rect x="86" y="1894.5" width="705.8" height="423.3" fill="none" stroke="#000" stroke-width="2.2"/>
<path d="M227.1 1894.5v12M227.1 2317.8v-12M368.2 1894.5v12M368.2 2317.8v-12M509.3 1894.5v12M509.3 2317.8v-12M650.4 1894.5v12M650.4 2317.8v-12M86 2247h7M791.8 2247h-7M86 2176.5h7M791.8 2176.5h-7M86 2106h7M791.8 2106h-7M86 2035.5h7M791.8 2035.5h-7M86 1965h7M791.8 1965h-7" stroke="#000" stroke-width="2.2" fill="none"/>
<rect x="86.7" y="2326.2" width="706.5" height="83.8" fill="none" stroke="#000" stroke-width="2.2"/>
<path d="M227.1 2326.2v3M227.1 2410v-3M368.2 2326.2v3M368.2 2410v-3M509.3 2326.2v3M509.3 2410v-3M650.4 2326.2v3M650.4 2410v-3M86.7 2367.6h7M793.2 2367.6h-7" stroke="#000" stroke-width="2.2" fill="none"/>
<text transform="translate(585.50 1891.24) scale(1.0509 1)" font-size="36.06" stroke="#000" stroke-width="0.55" fill="#000">AUG#32342</text>
<text transform="translate(44.53 1903.00) scale(1.0734 1)" font-size="34.43" stroke="#000" stroke-width="0.55" fill="#000">12</text>
<text transform="translate(62.53 2047.67) scale(1.1994 1)" font-size="32.82" stroke="#000" stroke-width="0.55" fill="#000">8</text>
<text transform="translate(62.74 2182.50) scale(1.1720 1)" font-size="32.61" stroke="#000" stroke-width="0.55" fill="#000">4</text>
<text transform="translate(62.76 2325.06) scale(1.1215 1)" font-size="34.37" stroke="#000" stroke-width="0.55" fill="#000">0</text>
<text transform="translate(107.99 1944.66) scale(1.2322 1)" font-size="34.01" stroke="#000" stroke-width="0.55" fill="#000">(e)</text>
<text transform="translate(177.64 2145.78) scale(1.0748 1)" font-size="36.30" font-weight="bold" fill="#0000ff">&lt;</text>
<text transform="translate(198.79 2146.10) scale(0.9453 1)" font-size="39.26" font-weight="bold" fill="#0000ff">n</text>
<text transform="translate(219.89 2155.66) scale(1.0584 1)" font-size="23.82" font-weight="bold" fill="#0000ff">e</text>
<text transform="translate(243.32 2145.78) scale(1.0202 1)" font-size="36.30" font-weight="bold" fill="#0000ff">&gt;</text>
<text transform="translate(275.01 2145.64) scale(0.8715 1)" font-size="36.47" font-weight="bold" fill="#0000ff">(</text>
<text transform="translate(285.96 2144.95) scale(1.0110 1)" font-size="35.35" font-weight="bold" fill="#0000ff">10</text>
<text transform="translate(331.04 2120.99) scale(1.0726 1)" font-size="21.13" font-weight="bold" fill="#0000ff">19</text>
<text transform="translate(364.54 2145.30) scale(1.0274 1)" font-size="35.37" font-weight="bold" fill="#0000ff">m</text>
<text transform="translate(398.82 2121.00) scale(1.1201 1)" font-size="19.72" font-weight="bold" fill="#0000ff">-3</text>
<text transform="translate(421.00 2145.64) scale(0.9428 1)" font-size="36.47" font-weight="bold" fill="#0000ff">)</text>
<text transform="translate(617.30 1956.50) scale(1.1472 1)" font-size="33.52" font-weight="bold" fill="#000">NBI (MW)</text>
<text transform="translate(559.50 2212.20) scale(1.1543 1)" font-size="33.38" font-weight="bold" fill="#ff0000">ECRH (MW)</text>
<text transform="translate(623.19 2275.90) scale(1.1553 1)" font-size="33.38" font-weight="bold" fill="#008000">Ip (MA)</text>
<text transform="translate(64.11 2377.10) scale(1.0000 1)" font-size="37.25" stroke="#000" stroke-width="0.55" fill="#000">1</text>
<text transform="translate(63.58 2417.24) scale(0.9784 1)" font-size="36.20" stroke="#000" stroke-width="0.55" fill="#000">0</text>
<text transform="translate(49.40 2412.10) rotate(-90) scale(1.0264 1)" font-size="35.72" stroke="#000" stroke-width="0.55" fill="#000">(A.U.)</text>
<text transform="translate(97.26 2357.30) scale(1.0081 1)" font-size="35.61" font-weight="bold" fill="#1a1a1a">divertor shunt current</text>
<text transform="translate(66.55 2443.17) scale(1.0592 1)" font-size="33.38" stroke="#000" stroke-width="0.55" fill="#000">1.05</text>
<text transform="translate(209.68 2443.50) scale(1.0568 1)" font-size="34.35" stroke="#000" stroke-width="0.55" fill="#000">1.1</text>
<text transform="translate(345.75 2443.16) scale(1.0814 1)" font-size="33.86" stroke="#000" stroke-width="0.55" fill="#000">1.15</text>
<text transform="translate(492.14 2443.50) scale(1.0857 1)" font-size="33.86" stroke="#000" stroke-width="0.55" fill="#000">1.2</text>
<text transform="translate(628.09 2443.17) scale(1.0821 1)" font-size="33.38" stroke="#000" stroke-width="0.55" fill="#000">1.25</text>
<text transform="translate(774.72 2443.17) scale(1.0714 1)" font-size="33.38" stroke="#000" stroke-width="0.55" fill="#000">1.3</text>
<text transform="translate(388.15 2481.54) scale(1.1138 1)" font-size="33.16" stroke="#000" stroke-width="0.55" fill="#000">time (s)</text>
</svg>
</body></html>
